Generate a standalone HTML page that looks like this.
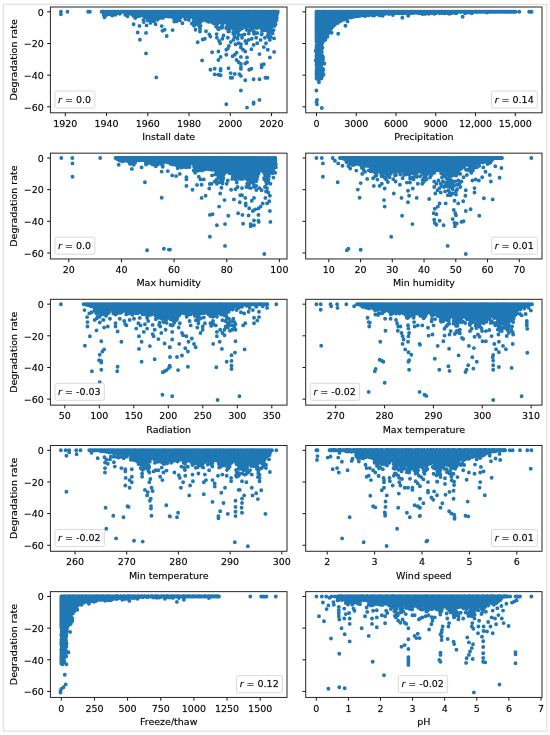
<!DOCTYPE html>
<html><head><meta charset="utf-8"><title>Degradation rate scatter plots</title>
<style>html,body{margin:0;padding:0;background:#fff}svg{display:block}</style></head>
<body>
<svg width="550" height="735" viewBox="0 0 550 735" font-family="DejaVu Sans, Liberation Sans, sans-serif" font-size="9.5" fill="#000">
<style>text{stroke:#000;stroke-width:0.3px;stroke-opacity:0.45}</style>
<rect x="0" y="0" width="550" height="735" fill="#fff"/>
<rect x="3.4" y="4.3" width="543.4" height="726.8" fill="none" stroke="#dedede" stroke-width="1.1"/>
<g>
<path d="M101.7 11.8h0M103.4 11.8h0M104.0 11.8h0M103.7 15.1h0M105.7 11.8h0M106.8 11.8h0M106.7 12.6h0M106.3 15.0h0M108.0 11.8h0M107.2 13.1h0M107.5 14.2h0M109.1 11.8h0M108.3 13.0h0M108.7 13.9h0M110.1 11.8h0M109.6 12.9h0M110.1 14.2h0M110.8 11.8h0M111.2 13.0h0M112.3 11.8h0M112.6 13.3h0M113.3 11.8h0M113.2 12.8h0M114.5 11.8h0M114.8 13.1h0M114.6 14.3h0M115.3 11.8h0M116.0 13.1h0M116.4 11.8h0M117.0 13.3h0M118.0 11.8h0M117.6 12.9h0M119.3 11.8h0M118.8 12.9h0M120.2 11.8h0M120.0 13.2h0M121.7 11.8h0M122.7 11.8h0M123.5 11.8h0M125.2 11.8h0M124.7 12.6h0M125.6 11.8h0M126.2 12.6h0M126.8 11.8h0M127.6 12.9h0M128.4 11.8h0M129.1 11.8h0M129.3 13.0h0M130.5 11.8h0M130.4 13.2h0M130.9 13.9h0M132.1 11.8h0M131.4 13.4h0M131.7 13.9h0M132.9 11.8h0M133.2 13.4h0M133.3 13.8h0M133.1 15.3h0M134.0 11.8h0M133.7 12.6h0M134.1 14.6h0M134.4 14.9h0M134.1 16.4h0M135.0 11.8h0M135.5 12.8h0M135.3 14.0h0M134.8 15.6h0M135.2 18.0h0M136.2 11.8h0M136.6 13.1h0M136.3 14.2h0M136.0 15.7h0M137.7 11.8h0M137.3 12.7h0M137.5 14.1h0M137.9 15.7h0M137.3 16.5h0M138.9 11.8h0M138.7 12.8h0M139.0 14.0h0M138.3 15.1h0M139.6 11.8h0M139.8 12.7h0M140.1 14.5h0M139.6 15.5h0M140.0 16.1h0M140.9 11.8h0M141.3 13.3h0M141.1 14.0h0M140.7 15.5h0M141.9 11.8h0M141.7 12.7h0M142.5 14.4h0M141.8 15.0h0M143.6 11.8h0M143.0 13.4h0M143.3 14.3h0M143.1 15.1h0M143.4 19.9h0M144.1 11.8h0M144.4 13.2h0M144.1 14.2h0M144.8 15.5h0M144.3 16.4h0M145.6 11.8h0M145.4 12.6h0M145.5 13.9h0M145.6 15.7h0M145.3 16.1h0M145.7 17.2h0M146.5 11.8h0M146.4 13.3h0M146.8 14.5h0M146.4 15.1h0M146.7 16.1h0M146.6 25.4h0M147.5 11.8h0M148.1 12.9h0M148.0 14.0h0M148.2 15.2h0M147.6 16.8h0M147.6 17.4h0M147.8 19.2h0M147.6 20.2h0M149.4 11.8h0M148.8 12.6h0M149.1 13.7h0M149.3 15.5h0M148.9 16.4h0M149.2 17.3h0M150.6 11.8h0M150.3 12.9h0M150.1 14.2h0M150.2 15.6h0M150.5 16.3h0M149.7 17.9h0M150.3 18.9h0M151.2 11.8h0M151.3 12.6h0M151.6 14.2h0M151.2 15.1h0M151.0 16.8h0M151.6 17.5h0M151.4 18.8h0M150.9 20.1h0M151.4 20.6h0M152.4 11.8h0M152.9 13.3h0M152.2 14.5h0M152.8 15.4h0M152.5 16.2h0M152.3 17.3h0M152.2 18.9h0M154.0 11.8h0M154.0 12.8h0M153.2 13.9h0M153.6 14.9h0M153.4 16.4h0M153.8 17.3h0M153.3 18.6h0M153.2 19.6h0M153.9 21.4h0M154.6 11.8h0M154.7 12.7h0M154.6 14.4h0M155.1 15.3h0M155.1 16.1h0M154.8 17.8h0M155.0 18.6h0M155.8 11.8h0M155.6 12.9h0M155.5 14.2h0M155.7 15.0h0M156.0 16.8h0M155.5 17.8h0M155.6 24.3h0M157.3 11.8h0M156.9 13.2h0M157.4 14.0h0M157.1 15.3h0M157.4 16.2h0M157.3 19.8h0M157.9 11.8h0M158.4 12.9h0M158.3 14.2h0M158.4 15.1h0M158.4 16.3h0M158.6 18.6h0M159.6 11.8h0M159.5 13.3h0M159.1 14.2h0M159.4 15.4h0M160.5 11.8h0M160.6 12.7h0M160.5 14.5h0M160.6 15.1h0M160.4 16.8h0M162.0 11.8h0M161.3 12.9h0M161.8 14.5h0M161.6 15.6h0M161.3 16.6h0M161.5 17.8h0M161.7 26.1h0M162.6 11.8h0M162.4 13.2h0M162.5 14.2h0M162.8 15.5h0M162.5 16.9h0M163.0 17.9h0M164.1 11.8h0M163.7 13.2h0M164.1 14.0h0M164.1 15.5h0M164.1 16.2h0M165.0 11.8h0M165.1 13.1h0M164.7 13.7h0M165.4 15.6h0M164.7 16.2h0M166.3 11.8h0M166.3 13.1h0M166.2 14.1h0M166.4 15.4h0M166.7 16.3h0M167.5 11.8h0M167.8 13.2h0M167.3 14.0h0M167.0 15.6h0M167.3 16.4h0M168.3 11.8h0M168.1 12.6h0M168.2 14.0h0M168.6 15.4h0M168.4 16.5h0M169.7 11.8h0M170.0 13.1h0M169.4 14.3h0M169.3 15.0h0M169.3 16.5h0M171.1 11.8h0M170.7 12.6h0M171.2 14.4h0M171.1 15.0h0M171.3 16.6h0M171.8 11.8h0M171.6 13.4h0M172.1 14.1h0M171.6 15.7h0M171.8 16.7h0M172.9 11.8h0M172.9 13.3h0M172.9 14.2h0M173.5 15.3h0M173.5 17.8h0M174.1 11.8h0M174.7 13.1h0M174.5 14.2h0M174.0 15.5h0M174.7 16.1h0M174.6 17.5h0M174.4 19.1h0M174.3 21.5h0M175.2 11.8h0M175.0 13.4h0M175.8 14.0h0M175.3 15.3h0M175.2 16.7h0M175.8 19.1h0M176.7 11.8h0M176.7 13.0h0M176.5 13.7h0M176.3 15.0h0M176.2 16.0h0M178.2 11.8h0M177.3 13.3h0M177.5 13.8h0M177.8 14.9h0M178.1 16.8h0M179.2 11.8h0M179.1 12.6h0M178.7 14.4h0M179.2 15.4h0M179.3 16.4h0M179.1 20.0h0M180.3 11.8h0M179.8 12.9h0M180.1 14.0h0M179.7 15.7h0M180.0 16.1h0M180.9 11.8h0M180.8 13.3h0M181.4 13.9h0M181.6 15.0h0M180.8 17.2h0M182.7 11.8h0M182.4 13.4h0M182.5 14.4h0M182.2 15.7h0M182.4 23.3h0M183.4 11.8h0M183.1 13.2h0M183.2 14.4h0M183.7 15.5h0M183.6 16.2h0M184.2 11.8h0M184.2 13.0h0M184.8 14.0h0M184.6 15.2h0M186.2 11.8h0M185.7 13.2h0M186.1 14.0h0M185.4 15.2h0M186.8 11.8h0M186.6 12.6h0M187.3 14.6h0M187.4 15.2h0M187.1 16.2h0M188.1 11.8h0M187.7 13.3h0M188.0 14.0h0M187.9 15.1h0M188.2 16.6h0M189.0 11.8h0M189.2 13.4h0M189.1 14.6h0M189.4 15.4h0M189.6 16.5h0M188.8 20.0h0M190.5 11.8h0M190.1 12.7h0M190.3 14.6h0M190.6 15.0h0M190.7 16.8h0M191.8 11.8h0M191.1 12.9h0M191.9 13.7h0M191.2 15.3h0M191.4 16.1h0M192.7 11.8h0M192.5 12.7h0M192.5 13.9h0M192.8 15.4h0M192.9 16.7h0M193.1 17.6h0M193.6 11.8h0M193.5 13.3h0M194.2 14.4h0M193.8 15.0h0M193.9 16.8h0M194.0 17.2h0M194.3 19.2h0M193.9 19.5h0M194.0 21.2h0M193.8 21.8h0M195.3 11.8h0M195.2 12.8h0M195.1 14.2h0M195.1 15.2h0M195.1 16.5h0M194.8 17.5h0M194.7 18.9h0M195.3 19.7h0M195.1 21.0h0M194.7 21.8h0M194.6 23.6h0M194.8 24.5h0M196.2 11.8h0M195.8 12.9h0M195.7 14.1h0M195.9 15.1h0M196.0 16.8h0M195.8 17.2h0M195.8 18.7h0M196.1 20.3h0M196.4 20.8h0M195.8 22.2h0M197.5 11.8h0M197.6 13.3h0M197.3 14.5h0M197.7 15.0h0M197.0 16.6h0M197.3 17.5h0M197.3 18.5h0M197.2 20.0h0M197.5 21.2h0M196.9 21.9h0M197.3 23.6h0M197.5 24.3h0M198.6 11.8h0M198.0 13.4h0M198.6 14.4h0M198.1 15.2h0M198.3 16.8h0M198.7 17.3h0M198.9 18.5h0M198.1 20.0h0M198.4 21.5h0M198.0 22.6h0M198.6 23.2h0M198.6 24.1h0M199.4 11.8h0M199.3 13.0h0M199.9 14.2h0M199.7 15.1h0M199.6 16.7h0M199.4 17.2h0M200.0 18.8h0M200.0 20.0h0M199.5 20.8h0M200.0 22.4h0M199.7 22.9h0M200.0 28.8h0M200.0 31.5h0M201.1 11.8h0M200.5 13.0h0M200.4 14.5h0M201.1 15.2h0M201.0 16.1h0M201.0 17.9h0M201.0 18.3h0M200.6 20.0h0M201.0 21.0h0M200.6 25.7h0M201.7 11.8h0M201.5 12.7h0M202.2 14.2h0M202.2 15.3h0M201.7 16.4h0M201.8 18.0h0M201.5 18.5h0M201.6 19.9h0M201.8 20.7h0M203.0 11.8h0M203.3 13.1h0M203.2 14.1h0M203.4 15.6h0M202.7 16.6h0M203.5 17.9h0M203.1 18.7h0M202.7 19.7h0M203.9 11.8h0M204.3 13.4h0M204.5 14.4h0M203.9 15.6h0M203.8 16.2h0M204.0 17.8h0M204.6 18.5h0M204.2 19.7h0M205.7 11.8h0M205.6 12.6h0M205.1 13.8h0M205.5 15.2h0M205.7 16.8h0M205.2 17.4h0M205.4 18.7h0M206.4 11.8h0M206.2 12.6h0M206.6 14.2h0M206.9 15.1h0M206.1 16.5h0M206.7 17.4h0M206.3 18.5h0M206.8 20.0h0M206.4 20.8h0M207.2 11.8h0M207.2 13.3h0M208.0 14.4h0M207.4 15.4h0M207.3 16.5h0M207.7 17.8h0M209.2 11.8h0M208.5 13.1h0M209.1 14.6h0M208.7 15.5h0M208.5 16.5h0M208.5 17.8h0M208.8 21.9h0M209.5 11.8h0M209.7 12.8h0M210.0 14.0h0M209.8 15.3h0M210.0 16.3h0M209.8 17.7h0M211.2 11.8h0M210.8 13.1h0M211.2 13.7h0M211.1 15.4h0M210.8 16.8h0M211.0 17.7h0M211.0 19.9h0M212.1 11.8h0M212.3 12.8h0M212.3 14.0h0M212.2 14.9h0M212.1 16.4h0M212.4 17.8h0M211.8 18.6h0M212.3 22.3h0M213.7 11.8h0M213.6 12.9h0M213.7 14.5h0M213.2 15.1h0M213.7 16.7h0M213.3 18.0h0M213.8 18.8h0M213.3 19.5h0M213.6 23.2h0M214.3 11.8h0M215.0 13.0h0M214.3 14.4h0M214.3 14.9h0M214.8 16.1h0M215.0 17.9h0M214.4 19.2h0M214.6 19.9h0M214.4 21.4h0M214.7 22.0h0M214.4 23.2h0M215.6 11.8h0M215.3 13.4h0M215.3 14.1h0M215.9 15.3h0M215.6 16.7h0M215.5 17.8h0M215.6 19.2h0M216.0 19.7h0M216.1 21.0h0M215.6 21.9h0M215.4 22.9h0M216.0 26.6h0M216.9 11.8h0M216.7 13.2h0M216.8 13.9h0M216.9 15.0h0M217.0 16.9h0M216.6 17.3h0M216.9 18.5h0M216.5 19.9h0M216.6 21.2h0M216.9 22.0h0M217.1 24.3h0M216.5 26.6h0M216.6 34.1h0M217.7 11.8h0M217.6 13.3h0M217.7 13.8h0M217.8 14.9h0M218.3 16.7h0M218.0 18.0h0M218.4 18.8h0M217.7 20.1h0M217.6 21.5h0M218.3 22.4h0M218.0 28.8h0M219.1 11.8h0M218.8 12.9h0M218.7 13.8h0M219.1 15.1h0M219.1 16.6h0M218.7 18.0h0M219.3 18.8h0M218.7 20.3h0M219.0 20.8h0M219.3 22.2h0M218.7 29.3h0M219.9 11.8h0M219.9 13.3h0M220.7 14.4h0M220.6 15.3h0M219.9 16.8h0M220.3 17.7h0M220.5 18.5h0M220.7 20.0h0M220.4 20.9h0M220.4 22.6h0M220.2 27.7h0M221.5 11.8h0M221.8 12.6h0M221.0 14.3h0M221.3 15.4h0M221.7 16.5h0M221.3 18.0h0M221.3 18.7h0M221.5 19.5h0M221.5 21.2h0M221.9 23.2h0M221.7 27.1h0M222.8 11.8h0M222.9 12.9h0M222.9 14.0h0M222.2 15.3h0M222.2 16.3h0M223.0 17.9h0M222.8 18.7h0M222.3 19.9h0M222.2 21.3h0M222.9 21.8h0M222.4 25.3h0M222.2 27.8h0M223.5 11.8h0M223.6 13.2h0M223.4 14.3h0M223.3 15.6h0M223.5 16.4h0M224.1 17.8h0M223.4 18.9h0M223.6 20.3h0M223.5 21.2h0M225.0 11.8h0M224.7 12.8h0M225.1 14.5h0M224.6 15.7h0M224.8 16.4h0M225.1 18.0h0M225.2 19.1h0M225.0 20.0h0M224.5 21.1h0M224.5 22.6h0M225.9 11.8h0M226.1 13.4h0M226.3 14.1h0M225.6 14.9h0M225.8 16.0h0M226.2 17.7h0M225.6 19.2h0M226.0 20.3h0M225.8 21.2h0M226.4 22.4h0M226.3 27.2h0M226.3 28.3h0M227.5 11.8h0M227.6 13.2h0M226.8 14.4h0M227.5 15.3h0M226.9 16.6h0M227.5 18.0h0M227.5 18.5h0M226.9 20.3h0M227.5 21.2h0M226.8 21.9h0M227.3 23.8h0M228.6 11.8h0M228.3 12.9h0M228.3 14.2h0M228.2 15.4h0M228.6 16.8h0M228.3 17.7h0M228.0 18.8h0M228.7 19.6h0M228.0 20.6h0M228.1 22.1h0M228.4 23.3h0M228.8 24.6h0M228.7 25.4h0M228.1 26.8h0M227.9 28.1h0M228.3 31.5h0M229.8 11.8h0M229.2 12.9h0M229.4 14.1h0M229.1 15.7h0M229.5 16.8h0M229.7 17.2h0M229.4 18.4h0M229.3 20.1h0M229.7 20.6h0M229.7 21.8h0M229.1 23.7h0M229.1 24.6h0M229.8 25.2h0M229.8 26.7h0M229.8 28.2h0M229.1 31.4h0M230.9 11.8h0M230.3 13.0h0M231.1 14.0h0M230.3 15.3h0M230.4 16.5h0M231.0 18.0h0M230.8 18.9h0M230.6 20.0h0M230.7 21.0h0M230.5 22.2h0M230.2 23.6h0M230.7 24.4h0M230.9 25.9h0M230.6 26.8h0M230.3 27.5h0M231.5 11.8h0M231.4 13.4h0M231.8 13.9h0M232.1 15.3h0M231.7 16.4h0M231.9 17.2h0M232.2 18.7h0M231.9 20.2h0M231.9 20.6h0M232.0 22.1h0M231.8 23.6h0M231.4 24.2h0M231.5 26.1h0M231.9 26.9h0M232.7 11.8h0M233.3 13.3h0M232.8 14.2h0M232.8 15.6h0M233.3 16.8h0M232.7 17.2h0M232.7 18.8h0M233.2 19.9h0M233.3 20.9h0M233.0 22.2h0M233.2 23.4h0M232.9 24.4h0M233.4 25.6h0M232.5 27.2h0M233.4 28.2h0M233.1 28.8h0M233.3 32.4h0M233.3 33.7h0M234.1 11.8h0M234.2 12.7h0M233.8 14.2h0M234.2 15.5h0M233.7 16.7h0M233.7 17.4h0M233.7 18.5h0M234.2 20.1h0M234.4 21.4h0M234.5 21.9h0M234.1 23.1h0M234.2 24.3h0M234.5 25.9h0M234.4 27.2h0M234.5 32.4h0M234.5 34.0h0M234.4 37.3h0M235.4 11.8h0M235.1 13.4h0M235.5 14.3h0M235.2 15.4h0M235.4 16.9h0M235.4 17.4h0M235.6 18.8h0M235.2 20.0h0M235.2 21.0h0M235.3 22.5h0M235.6 23.7h0M235.4 24.1h0M235.6 25.2h0M235.6 26.7h0M235.5 29.5h0M235.1 32.3h0M236.3 11.8h0M236.2 12.9h0M236.3 14.5h0M236.6 15.2h0M236.4 16.3h0M236.5 17.9h0M236.3 18.6h0M236.5 19.5h0M236.2 20.8h0M236.4 22.1h0M236.2 23.1h0M236.5 24.6h0M236.0 26.0h0M236.0 26.6h0M236.1 28.0h0M236.5 31.4h0M236.8 32.6h0M237.4 11.8h0M237.3 12.6h0M237.4 14.1h0M237.4 15.5h0M237.5 16.0h0M237.1 17.4h0M237.8 19.0h0M237.4 20.3h0M237.6 21.2h0M237.7 22.5h0M237.7 23.0h0M237.2 24.4h0M237.4 26.1h0M237.5 26.6h0M237.8 31.4h0M238.0 32.3h0M237.5 37.5h0M239.0 11.8h0M239.1 13.0h0M238.4 14.4h0M239.0 14.9h0M238.9 16.5h0M238.8 17.2h0M239.1 18.8h0M238.7 19.6h0M238.5 21.1h0M238.5 22.3h0M238.9 23.8h0M238.9 24.5h0M238.9 25.5h0M239.1 26.7h0M238.4 28.9h0M238.6 34.9h0M239.8 11.8h0M239.7 12.8h0M239.8 14.2h0M240.3 15.1h0M240.1 16.8h0M240.0 18.0h0M240.0 19.1h0M239.5 19.8h0M240.1 21.4h0M239.6 22.3h0M239.8 23.1h0M239.9 24.5h0M239.5 25.8h0M239.9 27.0h0M240.3 29.2h0M240.0 29.8h0M241.3 11.8h0M241.3 13.2h0M240.8 13.9h0M240.7 15.1h0M241.1 16.2h0M241.1 17.8h0M241.3 19.0h0M240.8 20.1h0M241.4 21.2h0M240.6 22.2h0M241.0 22.9h0M240.8 24.8h0M241.0 26.0h0M241.3 26.8h0M241.0 27.7h0M242.4 11.8h0M241.9 13.2h0M241.7 14.0h0M242.0 15.0h0M242.2 16.3h0M242.0 17.4h0M242.4 18.6h0M242.3 20.1h0M242.4 21.3h0M242.3 22.2h0M242.0 23.8h0M241.8 24.1h0M241.8 25.6h0M242.5 27.2h0M242.3 28.3h0M242.0 35.1h0M243.6 11.8h0M243.5 12.7h0M243.6 14.1h0M242.9 15.4h0M243.3 16.5h0M243.5 17.4h0M243.7 18.4h0M242.9 20.1h0M243.0 21.1h0M243.0 22.1h0M243.2 23.4h0M243.0 24.6h0M243.4 25.4h0M243.7 26.8h0M244.1 11.8h0M244.0 12.8h0M244.0 14.5h0M244.4 15.0h0M244.7 16.2h0M244.7 17.7h0M244.7 18.4h0M244.7 19.6h0M244.8 21.3h0M244.0 22.0h0M244.8 23.4h0M244.4 24.6h0M244.1 25.7h0M244.5 34.4h0M245.3 11.8h0M245.9 12.6h0M245.3 14.0h0M245.8 15.2h0M245.3 16.5h0M245.6 17.6h0M245.2 18.9h0M245.5 19.6h0M245.9 21.0h0M245.7 21.8h0M245.4 23.4h0M245.7 24.8h0M245.7 25.8h0M245.4 27.0h0M247.1 11.8h0M246.9 13.2h0M246.6 13.9h0M247.1 15.4h0M246.4 16.7h0M246.4 17.9h0M246.9 19.1h0M246.7 19.7h0M247.1 20.6h0M246.8 22.0h0M246.4 23.1h0M246.3 26.9h0M246.6 29.9h0M248.3 11.8h0M247.8 12.6h0M248.1 14.4h0M247.5 15.1h0M248.0 16.4h0M247.9 17.8h0M247.5 18.3h0M248.3 19.8h0M247.9 21.0h0M247.6 22.5h0M247.7 23.6h0M248.0 24.4h0M249.2 11.8h0M248.7 13.0h0M249.2 14.1h0M248.7 15.7h0M248.8 16.8h0M248.9 17.5h0M248.8 18.6h0M248.8 20.3h0M248.9 20.6h0M249.4 22.4h0M249.1 23.3h0M248.6 24.1h0M249.1 30.2h0M248.8 33.6h0M249.9 11.8h0M250.5 13.4h0M250.4 14.1h0M249.9 15.0h0M250.2 16.3h0M249.9 17.8h0M249.9 18.4h0M250.5 19.5h0M249.9 20.9h0M250.5 22.1h0M250.3 23.2h0M250.0 24.8h0M249.8 25.5h0M249.8 26.9h0M249.8 30.6h0M251.0 11.8h0M251.0 12.7h0M251.6 14.0h0M251.1 14.9h0M251.2 16.6h0M251.8 17.4h0M251.6 19.2h0M251.3 19.6h0M250.9 20.8h0M251.1 22.3h0M251.2 23.6h0M251.4 24.6h0M251.5 25.6h0M251.5 26.4h0M251.6 29.2h0M252.5 11.8h0M252.6 13.2h0M252.1 14.3h0M252.7 15.2h0M252.3 16.7h0M252.5 17.4h0M252.6 18.4h0M252.4 20.1h0M252.3 20.8h0M252.5 22.1h0M252.9 23.7h0M252.7 24.7h0M252.4 25.5h0M252.6 26.6h0M253.8 11.8h0M253.4 13.0h0M253.9 13.9h0M253.2 15.0h0M253.6 16.4h0M254.1 17.2h0M253.7 18.4h0M253.4 19.7h0M253.7 21.1h0M254.0 22.0h0M253.8 23.5h0M253.7 24.7h0M253.4 25.4h0M253.3 26.4h0M253.7 31.5h0M253.8 32.2h0M254.0 33.7h0M254.9 11.8h0M254.8 13.4h0M254.6 14.0h0M254.5 15.7h0M254.8 16.7h0M254.4 17.9h0M255.1 18.8h0M254.6 20.0h0M255.2 20.8h0M254.8 22.6h0M255.0 22.9h0M254.5 24.5h0M254.6 25.4h0M255.1 27.7h0M255.9 11.8h0M255.8 13.1h0M255.5 14.6h0M256.4 15.4h0M256.1 16.4h0M255.7 17.9h0M255.7 18.3h0M256.4 20.1h0M255.6 21.3h0M255.8 22.4h0M255.6 23.7h0M255.9 24.5h0M256.0 25.2h0M255.9 26.8h0M255.9 33.3h0M257.5 11.8h0M257.1 12.9h0M256.7 14.5h0M257.1 15.7h0M256.9 16.3h0M257.1 18.0h0M257.4 19.0h0M256.7 19.9h0M257.1 21.3h0M256.8 22.1h0M257.3 22.9h0M257.1 24.5h0M256.7 28.0h0M257.2 33.0h0M257.8 11.8h0M258.4 13.1h0M258.0 13.9h0M258.6 15.5h0M258.0 16.1h0M258.5 17.3h0M258.0 18.9h0M258.3 20.1h0M257.9 20.9h0M258.7 22.4h0M258.1 23.2h0M257.9 24.3h0M258.4 25.4h0M258.4 26.6h0M259.2 11.8h0M259.6 12.9h0M259.5 13.7h0M259.8 15.7h0M259.2 16.7h0M259.4 17.8h0M259.1 19.0h0M259.4 20.0h0M259.5 20.6h0M259.4 22.4h0M259.1 23.3h0M259.4 24.2h0M259.7 25.4h0M259.4 26.9h0M259.7 27.5h0M260.9 11.8h0M260.8 13.2h0M260.3 13.8h0M260.4 15.3h0M261.0 16.2h0M260.7 17.5h0M260.2 19.2h0M260.3 19.6h0M260.2 20.6h0M260.6 21.8h0M260.8 23.1h0M260.4 24.8h0M260.2 25.9h0M261.0 27.1h0M261.4 11.8h0M261.3 13.1h0M261.8 14.5h0M261.3 15.6h0M261.7 16.7h0M261.5 17.6h0M261.9 18.6h0M261.3 19.7h0M261.9 20.7h0M262.1 22.2h0M261.7 23.0h0M261.9 24.6h0M261.6 25.9h0M261.4 26.6h0M262.0 27.7h0M262.0 30.4h0M261.9 33.8h0M261.4 34.5h0M262.6 11.8h0M262.7 13.2h0M263.1 13.8h0M263.2 15.1h0M262.8 16.3h0M263.1 17.4h0M262.9 18.7h0M262.9 20.1h0M263.2 21.0h0M263.1 22.1h0M262.7 23.1h0M262.7 24.7h0M262.6 25.5h0M262.5 26.7h0M262.7 27.7h0M263.7 11.8h0M263.9 12.8h0M263.7 13.9h0M264.3 14.9h0M263.8 16.1h0M264.3 18.0h0M263.8 18.7h0M263.9 19.8h0M263.7 20.8h0M264.3 21.9h0M264.3 23.6h0M264.4 24.6h0M263.8 25.5h0M264.8 11.8h0M265.5 13.0h0M265.1 13.9h0M265.6 15.1h0M264.9 16.7h0M264.8 17.7h0M264.7 18.8h0M264.7 20.0h0M265.1 20.8h0M264.9 21.9h0M265.6 23.4h0M264.7 24.2h0M265.3 25.4h0M264.7 30.2h0M265.9 11.8h0M266.7 13.3h0M266.6 14.1h0M266.6 15.5h0M266.6 16.3h0M265.9 17.6h0M266.4 19.1h0M266.3 19.7h0M265.9 20.8h0M266.7 21.8h0M266.2 25.3h0M265.9 27.9h0M267.2 11.8h0M267.8 13.4h0M267.3 14.6h0M267.5 15.5h0M267.4 16.2h0M267.0 17.7h0M267.4 18.7h0M267.4 20.2h0M267.2 21.4h0M267.5 22.1h0M267.4 23.6h0M267.5 24.4h0M267.4 28.1h0M267.3 28.9h0M267.7 30.1h0M267.8 31.2h0M267.7 35.1h0M268.4 11.8h0M269.0 12.8h0M269.0 13.8h0M268.5 15.7h0M268.4 16.8h0M268.2 17.7h0M268.8 18.3h0M268.9 20.3h0M268.7 21.0h0M268.8 22.1h0M268.5 22.9h0M268.5 24.6h0M268.7 25.2h0M268.5 26.9h0M268.6 35.0h0M268.8 37.5h0M269.5 11.8h0M269.5 12.7h0M270.0 14.1h0M270.0 14.9h0M269.8 16.1h0M269.8 17.2h0M270.0 19.1h0M270.0 19.9h0M269.9 20.9h0M269.6 22.4h0M269.5 23.6h0M269.5 24.4h0M269.5 25.4h0M269.8 26.4h0M269.4 28.2h0M270.0 29.5h0M269.8 39.9h0M271.1 11.8h0M271.0 13.3h0M270.5 14.3h0M270.8 15.7h0M270.5 16.7h0M270.9 17.7h0M270.6 18.9h0M270.7 20.2h0M271.3 21.0h0M271.0 21.9h0M271.1 23.4h0M270.6 24.4h0M270.5 25.5h0M270.5 27.2h0M270.9 27.6h0M270.7 32.3h0M270.7 37.0h0M272.4 11.8h0M271.7 13.4h0M272.1 14.2h0M271.8 15.3h0M272.2 16.0h0M272.3 17.7h0M272.4 18.7h0M272.4 20.2h0M271.9 21.4h0M271.9 22.1h0M271.8 23.3h0M271.6 24.5h0M271.9 31.2h0M273.5 11.8h0M273.5 12.9h0M273.0 14.6h0M273.4 15.3h0M273.4 16.0h0M273.4 17.7h0M273.4 18.5h0M273.2 19.6h0M273.5 20.8h0M272.9 21.9h0M273.2 23.1h0M273.6 24.4h0M272.9 26.0h0M273.9 11.8h0M274.8 12.6h0M274.6 14.3h0M274.8 14.9h0M274.4 16.2h0M274.5 17.4h0M273.9 18.3h0M273.9 19.9h0M274.0 20.8h0M274.5 22.0h0M274.5 25.9h0M275.3 11.8h0M275.6 12.8h0M275.4 14.1h0M275.7 14.9h0M275.4 16.6h0M275.9 17.7h0M275.3 18.7h0M275.3 19.7h0M275.6 24.3h0M276.4 11.8h0M276.2 13.2h0M276.2 13.9h0M276.7 15.3h0M276.2 16.2h0M276.8 17.7h0M276.6 18.6h0M276.5 20.3h0M277.8 11.8h0M277.4 13.2h0M60.9 11.8h0M60.9 14.2h0M67.5 11.8h0M88.2 11.8h0M89.9 11.8h0M104.5 17.4h0M133.6 24.2h0M139.5 25.9h0M137.7 32.5h0M146.0 32.9h0M139.9 39.7h0M146.0 53.4h0M156.3 77.4h0M162.4 30.7h0M164.6 29.7h0M166.7 36.0h0M112.2 15.5h0M115.5 14.8h0M102.4 11.8h0M106.7 13.7h0M119.8 13.7h0M125.3 14.8h0M127.5 16.3h0M143.8 22.0h0M150.4 22.9h0M152.6 20.3h0M172.6 30.1h0M195.5 29.7h0M197.7 42.3h0M202.7 39.5h0M204.9 38.8h0M202.1 60.4h0M212.1 52.3h0M218.4 51.5h0M220.6 56.9h0M218.4 60.0h0M210.4 69.8h0M214.7 68.7h0M220.6 68.9h0M220.6 70.5h0M214.7 74.4h0M218.4 74.8h0M220.6 75.3h0M226.3 49.7h0M227.8 48.6h0M226.3 54.7h0M228.9 46.0h0M230.7 42.1h0M228.5 68.3h0M230.7 73.1h0M230.7 77.7h0M232.2 77.7h0M234.8 74.0h0M239.4 74.2h0M240.9 75.9h0M245.3 80.3h0M240.9 90.5h0M226.3 104.3h0M247.0 107.6h0M253.6 102.5h0M253.6 103.8h0M259.5 99.9h0M253.6 79.2h0M259.5 79.2h0M265.4 77.7h0M267.5 77.7h0M249.2 69.8h0M251.4 68.7h0M261.6 67.2h0M261.6 65.0h0M263.8 64.3h0M259.5 54.1h0M269.9 57.4h0M274.1 51.9h0M267.8 49.7h0M263.8 47.1h0M266.0 43.2h0M274.1 38.4h0M253.6 44.9h0M257.3 43.2h0M251.4 49.3h0M246.4 43.2h0M245.3 41.0h0M240.9 44.3h0M240.9 47.5h0M243.1 49.7h0M245.3 51.5h0M247.0 57.4h0M240.9 56.9h0M236.6 52.6h0M234.8 54.7h0M232.6 56.3h0M236.6 60.0h0M238.7 62.2h0M240.9 63.9h0M245.3 63.5h0M247.0 62.2h0M240.9 67.2h0M240.9 68.9h0M235.5 44.3h0M238.7 43.2h0M206.0 31.2h0M209.3 34.5h0M210.4 36.6h0M216.9 37.7h0M219.1 41.0h0M220.2 43.2h0M222.4 38.8h0M223.5 35.5h0M227.8 37.7h0M233.3 39.9h0M237.6 38.8h0M242.0 37.7h0M248.6 39.9h0M251.8 38.8h0M256.2 37.7h0M260.6 39.9h0M264.9 37.7h0M269.3 36.6h0M272.6 33.4h0M273.6 30.1h0M176.5 21.4h0M179.8 20.3h0M185.3 19.2h0M191.8 23.5h0M194.0 25.7h0M199.5 26.8h0" stroke="#1f77b4" stroke-width="3.9" stroke-linecap="round" fill="none"/>
<path d="M65.30 112.80v3.2M106.55 112.80v3.2M147.80 112.80v3.2M189.05 112.80v3.2M230.30 112.80v3.2M271.55 112.80v3.2M50.40 11.85h-3.2M50.40 43.50h-3.2M50.40 75.15h-3.2M50.40 106.80h-3.2" stroke="#111" stroke-width="1.0" fill="none"/>
<rect x="50.4" y="7.0" width="236.60" height="105.8" fill="none" stroke="#262626" stroke-width="1.0"/>
<text x="65.30" y="126.92" text-anchor="middle">1920</text>
<text x="106.55" y="126.92" text-anchor="middle">1940</text>
<text x="147.80" y="126.92" text-anchor="middle">1960</text>
<text x="189.05" y="126.92" text-anchor="middle">1980</text>
<text x="230.30" y="126.92" text-anchor="middle">2000</text>
<text x="271.55" y="126.92" text-anchor="middle">2020</text>
<text x="43.80" y="15.67" text-anchor="end">0</text>
<text x="43.80" y="47.32" text-anchor="end">−20</text>
<text x="43.80" y="78.97" text-anchor="end">−40</text>
<text x="43.80" y="110.62" text-anchor="end">−60</text>
<text transform="translate(17.2 59.90) rotate(-90)" text-anchor="middle">Degradation rate</text>
<text x="168.70" y="140.30" text-anchor="middle">Install date</text>
<rect x="55.00" y="91.00" width="39.81" height="17.0" rx="1.6" fill="#fff" fill-opacity="0.8" stroke="#d0d0d0" stroke-width="0.8"/>
<text x="58.10" y="102.60" font-size="9.5"><tspan font-style="italic">r</tspan> = 0.0</text>
</g>
<g>
<path d="M316.5 11.8h0M317.2 11.8h0M318.4 11.8h0M319.2 11.8h0M320.1 11.8h0M321.7 11.8h0M323.0 11.8h0M323.6 11.8h0M324.6 11.8h0M325.8 11.8h0M326.8 11.8h0M328.7 11.8h0M329.2 11.8h0M330.5 11.8h0M331.8 11.8h0M332.6 11.8h0M334.3 11.8h0M335.0 11.8h0M336.8 11.8h0M337.7 11.8h0M338.5 11.8h0M340.3 11.8h0M340.9 11.8h0M342.6 11.8h0M343.1 11.8h0M344.2 11.8h0M345.7 11.8h0M347.2 11.8h0M347.9 11.8h0M348.7 11.8h0M350.2 11.8h0M351.8 11.8h0M352.3 11.8h0M354.1 11.8h0M355.0 11.8h0M355.7 11.8h0M357.1 11.8h0M358.0 11.8h0M359.5 11.8h0M360.2 11.8h0M361.8 11.8h0M362.5 11.8h0M364.5 11.8h0M365.5 11.8h0M366.5 11.8h0M367.3 11.8h0M368.4 11.8h0M369.9 11.8h0M370.8 11.8h0M372.5 11.8h0M373.0 11.8h0M374.3 11.8h0M375.4 11.8h0M376.9 11.8h0M377.8 11.8h0M378.6 11.8h0M380.3 11.8h0M381.2 11.8h0M382.2 11.8h0M384.0 11.8h0M384.7 11.8h0M386.1 11.8h0M387.5 11.8h0M388.6 11.8h0M388.9 11.8h0M390.1 11.8h0M391.2 11.8h0M392.9 11.8h0M393.7 11.8h0M395.4 11.8h0M396.5 11.8h0M397.5 11.8h0M398.5 11.8h0M399.4 11.8h0M401.2 11.8h0M401.9 11.8h0M402.9 11.8h0M404.4 11.8h0M405.7 11.8h0M407.0 11.8h0M408.0 11.8h0M409.3 11.8h0M410.4 11.8h0M411.4 11.8h0M411.9 11.8h0M413.8 11.8h0M414.6 11.8h0M415.9 11.8h0M417.0 11.8h0M418.4 11.8h0M419.7 11.8h0M420.4 11.8h0M421.6 11.8h0M422.7 11.8h0M423.8 11.8h0M424.6 11.8h0M425.7 11.8h0M427.6 11.8h0M428.6 11.8h0M430.0 11.8h0M430.5 11.8h0M432.1 11.8h0M432.9 11.8h0M434.3 11.8h0M435.2 11.8h0M436.1 11.8h0M438.0 11.8h0M439.0 11.8h0M440.1 11.8h0M441.0 11.8h0M441.9 11.8h0M443.1 11.8h0M444.7 11.8h0M445.5 11.8h0M446.9 11.8h0M448.0 11.8h0M448.7 11.8h0M450.7 11.8h0M451.6 11.8h0M453.0 11.8h0M454.2 11.8h0M455.3 11.8h0M456.4 11.8h0M457.4 11.8h0M458.1 11.8h0M459.2 11.8h0M460.5 11.8h0M461.4 11.8h0M463.1 11.8h0M464.4 11.8h0M465.2 11.8h0M466.2 11.8h0M468.0 11.8h0M468.6 11.8h0M470.0 11.8h0M471.1 11.8h0M471.9 11.8h0M473.6 11.8h0M474.6 11.8h0M475.7 11.8h0M476.5 11.8h0M477.9 11.8h0M479.2 11.8h0M479.8 11.8h0M481.2 11.8h0M482.1 11.8h0M483.6 11.8h0M484.9 11.8h0M485.6 11.8h0M487.2 11.8h0M488.1 11.8h0M489.2 11.8h0M490.7 11.8h0M491.3 11.8h0M492.5 11.8h0M494.0 11.8h0M495.4 11.8h0M496.3 11.8h0M497.3 11.8h0M498.4 11.8h0M500.2 11.8h0M501.0 11.8h0M501.7 11.8h0M503.3 11.8h0M504.7 11.8h0M505.2 11.8h0M506.5 11.8h0M507.4 11.8h0M508.5 11.8h0M510.1 11.8h0M511.5 11.8h0M512.3 11.8h0M513.6 11.8h0M514.9 11.8h0M515.6 11.8h0M316.5 13.4h0M316.8 13.3h0M317.9 12.8h0M319.0 13.3h0M320.1 13.3h0M321.9 13.1h0M322.7 12.8h0M323.9 13.3h0M324.8 12.9h0M325.7 12.6h0M327.7 12.9h0M328.0 12.6h0M329.5 13.2h0M330.4 13.3h0M331.7 13.4h0M332.7 12.9h0M334.0 12.6h0M335.0 13.0h0M336.3 12.7h0M337.3 13.1h0M339.0 13.2h0M340.3 13.3h0M341.4 13.0h0M342.4 12.7h0M343.4 13.3h0M344.3 13.3h0M345.8 12.6h0M346.5 12.9h0M347.7 12.7h0M349.2 13.2h0M350.6 13.4h0M351.5 13.4h0M352.4 13.3h0M353.3 13.4h0M354.5 13.4h0M356.3 13.4h0M357.6 13.2h0M358.6 13.0h0M359.7 13.2h0M360.3 13.4h0M362.0 13.2h0M363.2 12.7h0M363.9 12.8h0M364.8 12.8h0M366.0 13.2h0M367.1 12.7h0M368.9 13.4h0M369.7 13.2h0M370.6 12.8h0M372.3 13.1h0M373.6 13.1h0M374.6 12.8h0M375.8 12.7h0M376.6 12.8h0M377.8 12.6h0M379.4 12.6h0M380.3 12.8h0M381.0 12.9h0M382.2 13.2h0M383.3 13.0h0M384.7 13.0h0M386.1 13.2h0M387.0 13.2h0M388.5 13.4h0M389.1 13.2h0M390.8 12.8h0M391.6 13.4h0M392.5 13.4h0M393.9 13.1h0M395.4 13.1h0M396.3 13.2h0M397.7 13.1h0M398.7 12.6h0M399.4 13.4h0M401.6 13.3h0M403.5 13.4h0M404.3 12.6h0M405.3 12.8h0M406.3 13.1h0M407.3 12.6h0M409.0 12.9h0M410.3 13.2h0M411.4 12.9h0M412.6 12.9h0M413.6 13.0h0M414.2 12.8h0M415.5 12.6h0M417.3 12.7h0M417.8 12.9h0M419.3 13.4h0M421.2 12.6h0M422.3 12.6h0M423.5 13.1h0M425.1 13.3h0M426.4 13.2h0M427.7 13.4h0M428.2 12.9h0M429.7 13.0h0M431.0 13.0h0M431.5 12.9h0M433.5 12.8h0M434.4 13.0h0M435.5 13.4h0M438.0 12.6h0M439.1 12.7h0M439.7 13.2h0M441.2 12.9h0M441.9 13.1h0M444.4 13.4h0M445.5 12.9h0M447.8 13.2h0M449.5 13.0h0M450.4 12.6h0M451.2 13.3h0M452.6 12.7h0M454.2 12.8h0M455.2 12.9h0M456.1 13.4h0M465.1 13.2h0M466.0 12.7h0M468.6 12.6h0M471.8 13.3h0M487.3 12.6h0M317.1 14.6h0M317.9 14.2h0M319.5 14.5h0M320.2 14.2h0M321.6 14.3h0M322.7 14.3h0M324.0 14.6h0M324.6 14.1h0M326.0 13.8h0M327.4 13.8h0M328.1 13.9h0M330.0 13.8h0M331.1 14.4h0M331.7 14.5h0M333.2 14.1h0M333.8 13.7h0M335.5 14.2h0M336.3 13.8h0M337.2 14.4h0M338.4 14.5h0M339.6 14.2h0M340.7 14.1h0M342.3 14.4h0M343.3 14.0h0M344.9 14.2h0M345.5 14.3h0M346.4 14.1h0M348.2 14.4h0M348.7 14.2h0M350.2 13.7h0M351.2 13.8h0M352.8 13.7h0M354.0 14.3h0M355.1 13.9h0M356.1 14.6h0M356.9 14.6h0M358.0 14.2h0M359.0 14.1h0M360.4 14.4h0M361.5 14.0h0M362.9 14.4h0M364.4 14.3h0M365.1 13.8h0M366.6 14.2h0M367.3 13.9h0M368.6 14.3h0M369.7 14.5h0M370.7 14.3h0M372.1 14.5h0M373.2 13.7h0M374.3 14.3h0M375.6 13.7h0M376.8 14.2h0M377.9 14.5h0M379.0 13.9h0M381.0 14.4h0M382.4 13.8h0M383.5 14.0h0M384.8 13.9h0M389.0 14.1h0M393.5 13.7h0M422.5 14.0h0M423.4 13.7h0M424.8 13.9h0M428.8 13.8h0M434.1 13.8h0M449.2 13.7h0M316.5 15.7h0M316.7 15.7h0M317.9 15.3h0M318.9 15.6h0M320.5 14.9h0M321.5 15.5h0M322.8 15.7h0M323.6 14.9h0M325.3 15.4h0M326.5 15.0h0M327.3 15.2h0M328.6 14.9h0M329.3 14.9h0M330.7 15.3h0M332.2 15.2h0M333.4 15.4h0M334.6 14.9h0M335.5 15.0h0M336.9 14.9h0M337.9 15.7h0M338.4 14.9h0M339.8 15.2h0M341.0 14.9h0M341.9 15.6h0M343.2 15.3h0M344.3 15.7h0M346.0 15.3h0M346.5 15.0h0M348.2 15.5h0M349.4 15.1h0M350.0 15.2h0M351.8 15.2h0M352.8 15.6h0M353.3 15.2h0M355.2 15.0h0M356.0 15.5h0M356.8 15.5h0M358.0 15.2h0M359.3 15.6h0M361.0 15.6h0M361.7 15.2h0M363.3 15.2h0M364.0 15.7h0M365.2 15.6h0M367.5 14.9h0M368.5 15.4h0M372.3 15.2h0M374.2 15.6h0M379.8 15.4h0M382.6 15.7h0M392.9 15.1h0M408.2 15.7h0M316.9 16.4h0M317.7 16.0h0M319.4 16.5h0M320.1 16.7h0M321.5 16.2h0M323.0 16.1h0M324.1 16.5h0M325.3 16.7h0M325.7 16.3h0M327.2 16.3h0M328.7 16.3h0M329.8 16.6h0M330.9 16.1h0M331.9 16.8h0M333.3 16.0h0M334.0 16.5h0M334.9 16.1h0M336.6 16.5h0M337.4 16.3h0M338.3 16.2h0M339.8 16.9h0M341.1 16.5h0M342.0 16.5h0M343.4 16.9h0M344.3 16.6h0M345.3 16.5h0M346.4 16.0h0M347.9 16.2h0M348.7 16.5h0M350.5 16.5h0M351.7 16.4h0M352.5 16.6h0M354.0 16.8h0M355.1 16.1h0M356.0 16.1h0M357.4 16.1h0M358.3 16.3h0M359.1 16.1h0M365.2 16.1h0M462.6 16.7h0M316.5 17.4h0M316.5 17.6h0M318.5 17.9h0M319.3 17.5h0M320.4 18.0h0M321.7 17.2h0M323.0 17.3h0M323.5 17.2h0M325.0 17.9h0M326.2 17.8h0M327.6 17.5h0M328.1 17.8h0M329.7 17.6h0M330.5 17.6h0M331.9 18.0h0M333.4 17.8h0M333.8 17.6h0M335.0 17.3h0M336.1 17.3h0M337.5 17.9h0M339.2 17.7h0M339.9 17.6h0M340.8 17.3h0M341.9 17.2h0M343.2 17.7h0M344.3 17.5h0M345.9 17.7h0M346.5 17.4h0M347.9 17.2h0M349.9 17.4h0M351.4 17.5h0M402.3 17.8h0M316.5 18.8h0M317.0 18.7h0M318.5 18.8h0M319.6 18.6h0M320.5 19.1h0M321.4 19.0h0M322.2 19.1h0M323.9 18.4h0M325.2 18.6h0M325.8 19.2h0M327.2 18.9h0M328.3 18.8h0M329.2 18.5h0M331.0 18.8h0M332.1 19.0h0M333.1 18.9h0M333.9 18.5h0M335.7 18.8h0M336.6 18.9h0M337.6 18.6h0M339.0 18.5h0M339.6 19.0h0M341.3 19.0h0M342.0 19.0h0M343.6 18.8h0M345.5 19.0h0M347.2 18.4h0M316.5 19.9h0M316.8 19.9h0M318.4 19.5h0M318.9 19.5h0M320.2 19.7h0M321.9 19.8h0M322.5 19.9h0M323.7 20.3h0M324.6 20.0h0M326.0 20.0h0M327.5 19.9h0M328.4 20.3h0M329.9 19.9h0M330.7 20.2h0M332.2 20.2h0M333.1 20.1h0M334.4 20.0h0M334.9 20.3h0M336.7 20.2h0M337.3 19.9h0M339.1 19.8h0M340.0 20.1h0M341.3 20.3h0M342.1 19.6h0M343.6 19.7h0M316.5 20.7h0M316.9 20.9h0M318.4 21.2h0M319.3 20.8h0M320.4 20.9h0M321.7 21.0h0M322.9 20.9h0M323.4 21.1h0M324.9 20.9h0M326.1 21.2h0M327.2 21.3h0M328.7 21.3h0M329.4 20.8h0M331.0 20.8h0M331.5 21.0h0M332.9 21.3h0M334.2 21.2h0M335.5 21.3h0M336.3 20.7h0M337.9 21.3h0M338.4 20.7h0M340.1 21.3h0M340.8 20.9h0M317.1 22.6h0M318.0 22.1h0M319.4 22.5h0M320.2 22.2h0M321.3 21.8h0M322.7 21.8h0M323.9 22.4h0M324.9 22.0h0M325.9 22.1h0M327.2 22.6h0M328.3 22.5h0M329.5 22.2h0M330.7 22.4h0M332.0 22.6h0M333.0 22.3h0M334.0 22.4h0M335.2 22.3h0M336.4 22.1h0M337.9 21.9h0M316.9 23.5h0M317.6 23.2h0M318.8 23.7h0M320.6 23.2h0M321.3 23.8h0M322.6 22.9h0M323.7 23.5h0M325.2 23.6h0M325.9 23.5h0M327.7 23.8h0M328.8 23.6h0M329.5 23.4h0M330.3 23.2h0M331.9 23.3h0M332.7 23.3h0M334.3 23.2h0M335.1 23.6h0M336.4 23.0h0M337.9 23.0h0M316.9 24.3h0M317.9 24.2h0M319.5 24.8h0M320.6 24.6h0M321.3 24.5h0M322.9 24.8h0M323.4 24.1h0M325.4 24.3h0M326.0 24.8h0M327.5 24.2h0M328.4 24.1h0M329.4 24.3h0M330.9 24.1h0M332.0 24.4h0M333.0 24.2h0M334.2 24.9h0M335.0 24.4h0M316.5 25.4h0M317.3 25.3h0M318.2 25.3h0M319.0 25.6h0M320.7 26.0h0M321.5 26.0h0M322.9 25.7h0M323.9 25.4h0M324.5 25.9h0M325.7 26.1h0M327.5 25.9h0M328.3 25.8h0M329.3 25.4h0M330.8 26.0h0M332.2 25.4h0M332.6 25.4h0M333.8 25.7h0M316.9 26.7h0M318.3 26.6h0M319.0 27.0h0M320.2 27.2h0M321.7 26.5h0M322.9 26.8h0M323.6 27.2h0M324.6 26.9h0M326.5 27.2h0M327.2 26.4h0M328.7 26.5h0M329.6 26.4h0M330.9 27.2h0M331.5 27.0h0M332.6 26.6h0M316.9 28.4h0M318.2 27.6h0M319.3 27.9h0M320.7 27.8h0M321.7 27.7h0M322.9 27.7h0M323.5 28.1h0M324.8 27.9h0M326.3 27.8h0M327.5 28.3h0M328.4 27.6h0M329.4 28.3h0M330.4 27.9h0M331.5 28.3h0M316.5 28.9h0M318.2 28.7h0M318.8 29.4h0M320.3 29.4h0M321.1 28.7h0M322.5 29.3h0M324.1 29.4h0M324.7 29.5h0M325.9 28.7h0M327.7 29.0h0M328.6 29.1h0M329.3 28.7h0M317.2 29.9h0M317.6 29.8h0M319.3 29.9h0M320.5 30.4h0M321.9 30.4h0M322.3 30.7h0M324.1 30.6h0M325.2 30.2h0M325.9 30.6h0M327.4 30.1h0M328.7 29.9h0M329.7 30.1h0M316.8 31.8h0M318.3 31.1h0M318.8 31.4h0M320.6 31.3h0M321.7 31.2h0M322.3 31.0h0M323.5 31.5h0M324.8 31.7h0M326.2 31.2h0M326.9 31.1h0M328.0 31.6h0M329.7 31.8h0M317.0 32.4h0M317.7 32.5h0M319.4 32.1h0M320.2 32.9h0M321.6 32.4h0M323.0 32.9h0M323.4 32.3h0M325.0 32.6h0M325.7 32.7h0M327.4 32.4h0M328.7 32.4h0M329.3 32.4h0M331.6 32.7h0M316.6 34.1h0M318.0 33.3h0M318.9 33.7h0M319.9 34.0h0M321.7 34.1h0M322.9 33.9h0M323.9 34.1h0M324.7 33.8h0M326.3 34.0h0M327.4 34.1h0M316.7 34.8h0M317.6 34.9h0M319.0 35.2h0M320.8 35.1h0M321.8 34.5h0M322.9 34.5h0M324.2 35.2h0M325.0 34.9h0M326.2 34.7h0M327.5 34.7h0M316.9 35.9h0M318.1 36.2h0M319.3 36.4h0M320.3 35.7h0M321.6 35.6h0M322.7 35.6h0M323.5 36.4h0M324.8 36.1h0M326.2 35.6h0M327.0 35.9h0M316.6 37.1h0M317.6 36.9h0M319.2 37.4h0M320.6 37.2h0M321.9 36.8h0M322.6 37.0h0M323.7 37.1h0M325.3 37.4h0M325.7 37.0h0M327.4 36.8h0M317.9 38.5h0M319.4 38.6h0M320.4 38.4h0M321.1 38.2h0M322.5 38.4h0M324.1 37.9h0M324.7 38.2h0M317.0 39.2h0M318.3 39.8h0M319.6 39.2h0M320.6 39.1h0M321.1 39.6h0M322.3 39.2h0M323.5 39.5h0M325.4 39.7h0M317.3 40.4h0M317.8 40.9h0M318.8 40.3h0M320.7 40.8h0M321.9 40.6h0M322.7 40.4h0M323.7 40.8h0M317.0 42.0h0M318.4 41.3h0M319.3 41.6h0M320.4 41.5h0M321.5 41.5h0M322.4 41.5h0M317.9 42.5h0M319.1 42.5h0M320.4 43.0h0M321.7 43.3h0M322.4 43.1h0M317.8 44.5h0M319.4 44.4h0M320.7 44.4h0M321.1 44.3h0M316.5 45.2h0M317.2 45.5h0M318.2 45.5h0M319.2 44.8h0M320.5 45.5h0M321.4 45.2h0M318.5 46.0h0M319.1 46.1h0M320.4 46.1h0M321.8 46.8h0M316.5 47.7h0M317.2 47.1h0M317.8 47.6h0M318.8 47.9h0M320.4 47.6h0M321.8 47.6h0M322.5 47.6h0M316.5 48.5h0M318.3 48.7h0M319.0 48.2h0M320.3 48.4h0M321.5 48.9h0M317.1 49.9h0M317.8 49.7h0M318.8 49.5h0M320.0 49.9h0M321.5 49.9h0M316.5 51.4h0M316.5 51.2h0M317.9 50.8h0M319.5 51.0h0M320.7 51.1h0M321.4 51.4h0M316.5 52.1h0M317.3 51.8h0M317.7 52.3h0M319.5 52.0h0M320.5 52.3h0M321.5 52.4h0M318.2 53.3h0M319.5 53.3h0M320.0 53.7h0M316.5 54.6h0M317.3 54.3h0M318.2 54.0h0M319.4 54.7h0M320.0 54.8h0M321.4 54.1h0M316.5 55.2h0M318.4 55.8h0M318.8 55.7h0M320.3 55.7h0M321.5 55.7h0M322.2 55.8h0M316.5 56.7h0M317.1 56.6h0M317.8 57.1h0M319.5 56.5h0M320.2 56.7h0M321.9 57.0h0M323.0 56.7h0M316.5 58.0h0M318.3 58.1h0M319.3 57.9h0M320.3 58.0h0M321.3 57.5h0M316.5 59.2h0M317.9 58.6h0M319.3 59.3h0M320.7 59.3h0M321.1 59.0h0M323.1 58.6h0M316.5 60.3h0M316.5 60.5h0M317.8 59.8h0M319.0 60.1h0M320.0 60.1h0M321.9 59.8h0M322.9 59.9h0M316.5 61.2h0M317.7 60.9h0M319.6 61.0h0M320.2 61.4h0M321.2 60.9h0M322.4 61.0h0M316.7 62.2h0M318.0 62.4h0M319.2 62.5h0M320.0 62.1h0M321.3 62.8h0M322.4 62.2h0M317.6 63.3h0M319.1 63.8h0M320.8 63.9h0M321.4 63.9h0M322.4 63.9h0M316.5 64.4h0M317.8 64.6h0M319.4 64.4h0M320.1 64.6h0M321.4 64.8h0M316.5 65.9h0M317.2 66.1h0M318.2 66.0h0M319.4 66.0h0M320.8 66.0h0M317.1 66.9h0M317.8 66.7h0M319.3 67.4h0M320.0 66.7h0M316.9 68.3h0M317.9 68.2h0M319.0 68.6h0M320.5 67.8h0M321.7 68.2h0M322.7 68.6h0M316.5 69.6h0M317.0 69.7h0M318.0 69.0h0M319.1 69.3h0M320.6 69.3h0M321.6 69.6h0M322.9 69.6h0M323.4 69.6h0M318.3 70.2h0M319.3 70.6h0M320.4 70.3h0M321.2 70.7h0M316.5 71.6h0M317.7 72.0h0M319.1 71.3h0M320.3 72.0h0M321.9 71.8h0M322.7 72.1h0M316.5 72.4h0M316.7 73.1h0M317.9 72.8h0M318.9 72.4h0M320.3 72.5h0M321.6 72.8h0M322.4 72.4h0M316.5 74.1h0M317.3 73.6h0M317.9 74.2h0M319.4 74.3h0M320.7 74.1h0M321.5 74.2h0M316.5 74.7h0M317.9 75.1h0M319.2 75.4h0M320.4 74.8h0M321.9 75.1h0M317.6 76.3h0M319.6 76.3h0M320.1 76.6h0M321.5 76.4h0M322.3 75.9h0M316.5 77.6h0M317.3 77.7h0M318.1 77.7h0M319.3 77.2h0M320.7 77.2h0M316.5 78.2h0M316.5 78.6h0M317.8 78.4h0M318.8 78.9h0M320.5 78.2h0M321.4 78.6h0M318.3 79.9h0M319.0 82.3h0M316.5 11.8h0M316.5 12.9h0M316.5 14.0h0M316.5 15.1h0M316.5 16.2h0M316.5 17.4h0M316.5 18.5h0M316.5 19.6h0M316.5 20.7h0M316.5 21.8h0M316.5 22.9h0M316.5 24.0h0M316.5 25.1h0M316.5 26.2h0M316.5 27.3h0M316.5 28.4h0M316.5 29.5h0M316.5 30.6h0M316.5 31.7h0M316.5 32.8h0M316.5 33.9h0M316.5 35.0h0M316.5 36.1h0M316.5 37.2h0M316.5 38.3h0M316.5 39.4h0M316.5 40.5h0M316.5 41.6h0M338.2 33.8h0M345.4 25.7h0M347.6 21.4h0M316.4 90.5h0M317.0 99.9h0M316.4 102.1h0M317.0 104.3h0M321.8 108.0h0M322.9 62.8h0M324.4 63.5h0M321.8 51.9h0M315.7 60.6h0M315.7 50.8h0M323.6 74.8h0M318.5 80.3h0M519.3 11.8h0M529.2 11.8h0M531.6 11.8h0" stroke="#1f77b4" stroke-width="3.9" stroke-linecap="round" fill="none"/>
<path d="M316.50 112.80v3.2M356.25 112.80v3.2M396.00 112.80v3.2M435.75 112.80v3.2M475.50 112.80v3.2M515.25 112.80v3.2M305.70 11.85h-3.2M305.70 43.50h-3.2M305.70 75.15h-3.2M305.70 106.80h-3.2" stroke="#111" stroke-width="1.0" fill="none"/>
<rect x="305.7" y="7.0" width="236.30" height="105.8" fill="none" stroke="#262626" stroke-width="1.0"/>
<text x="316.50" y="126.92" text-anchor="middle">0</text>
<text x="356.25" y="126.92" text-anchor="middle">3000</text>
<text x="396.00" y="126.92" text-anchor="middle">6000</text>
<text x="435.75" y="126.92" text-anchor="middle">9000</text>
<text x="475.50" y="126.92" text-anchor="middle">12,000</text>
<text x="515.25" y="126.92" text-anchor="middle">15,000</text>
<text x="423.85" y="140.30" text-anchor="middle">Precipitation</text>
<rect x="491.55" y="91.00" width="45.85" height="17.0" rx="1.6" fill="#fff" fill-opacity="0.8" stroke="#d0d0d0" stroke-width="0.8"/>
<text x="494.65" y="102.60" font-size="9.5"><tspan font-style="italic">r</tspan> = 0.14</text>
</g>
<g>
<path d="M115.5 158.0h0M117.0 158.0h0M117.1 158.9h0M118.1 158.0h0M118.2 159.4h0M119.2 158.0h0M118.8 159.3h0M119.3 160.3h0M120.1 158.0h0M120.4 159.6h0M120.1 160.2h0M121.2 158.0h0M121.1 159.0h0M121.2 160.3h0M122.7 158.0h0M123.0 159.3h0M122.4 159.9h0M122.2 161.4h0M123.7 158.0h0M123.5 158.8h0M124.1 160.1h0M124.9 158.0h0M125.3 159.5h0M124.8 160.7h0M125.9 158.0h0M126.2 159.6h0M126.3 159.9h0M127.3 158.0h0M126.9 158.8h0M127.5 160.7h0M127.9 158.0h0M127.9 159.1h0M128.4 160.0h0M128.7 161.5h0M129.6 158.0h0M129.3 159.4h0M129.7 160.3h0M129.1 161.6h0M129.6 163.3h0M130.2 158.0h0M131.0 159.3h0M130.4 160.7h0M130.5 161.9h0M130.3 163.9h0M131.8 158.0h0M131.3 159.5h0M131.9 160.0h0M132.7 158.0h0M132.6 159.6h0M132.8 160.2h0M132.5 161.7h0M133.9 158.0h0M133.9 159.2h0M133.6 160.4h0M134.0 162.2h0M133.8 164.7h0M135.5 158.0h0M135.5 159.4h0M135.6 160.1h0M135.1 161.1h0M135.1 162.8h0M136.7 158.0h0M136.8 159.1h0M136.4 160.1h0M137.6 158.0h0M137.7 159.4h0M137.1 160.0h0M138.8 158.0h0M138.4 159.4h0M138.8 160.4h0M139.8 158.0h0M139.7 159.1h0M141.4 158.0h0M141.1 159.4h0M141.3 160.3h0M142.5 158.0h0M142.2 158.8h0M142.3 160.0h0M143.2 158.0h0M143.5 159.3h0M143.3 159.9h0M144.2 158.0h0M144.8 158.8h0M144.8 160.6h0M145.6 158.0h0M145.8 159.4h0M145.9 160.3h0M145.3 161.0h0M145.8 162.8h0M146.6 158.0h0M146.9 159.3h0M146.3 160.4h0M147.7 158.0h0M147.9 159.0h0M147.8 160.4h0M148.0 161.1h0M149.1 158.0h0M148.7 159.0h0M148.7 160.5h0M149.4 163.0h0M150.1 158.0h0M149.8 159.0h0M150.3 160.2h0M150.5 161.9h0M151.6 158.0h0M151.6 159.5h0M151.7 160.5h0M151.7 161.3h0M152.8 158.0h0M152.4 158.8h0M152.6 159.9h0M152.7 161.4h0M152.6 164.5h0M153.6 158.0h0M153.3 159.5h0M153.5 159.9h0M153.4 161.5h0M153.8 162.5h0M154.9 158.0h0M155.1 159.6h0M154.4 160.4h0M155.0 161.6h0M154.8 162.9h0M154.5 164.6h0M155.5 158.0h0M155.9 159.1h0M155.6 160.5h0M156.2 161.5h0M157.1 158.0h0M157.3 159.3h0M157.0 160.5h0M156.8 161.7h0M158.1 158.0h0M158.1 159.4h0M157.8 160.0h0M157.8 161.6h0M158.2 162.2h0M157.8 164.6h0M159.0 158.0h0M159.7 158.8h0M159.4 160.0h0M159.7 161.7h0M159.6 163.0h0M160.8 158.0h0M160.9 159.4h0M160.1 160.4h0M160.9 161.3h0M160.2 162.4h0M161.7 158.0h0M161.3 159.4h0M161.5 160.5h0M161.3 161.4h0M161.5 162.2h0M162.1 165.1h0M161.6 171.6h0M162.4 158.0h0M163.2 158.8h0M163.0 160.3h0M162.4 161.8h0M162.9 162.2h0M162.8 163.6h0M164.1 158.0h0M163.6 159.1h0M164.2 160.6h0M163.7 161.4h0M165.2 158.0h0M165.3 159.1h0M165.4 160.2h0M165.1 161.7h0M166.3 158.0h0M166.3 159.1h0M166.5 160.5h0M166.5 161.1h0M167.8 158.0h0M167.8 159.5h0M167.6 160.6h0M167.6 161.5h0M167.5 162.3h0M168.5 158.0h0M168.7 158.9h0M168.8 160.4h0M168.3 161.4h0M169.0 162.5h0M170.0 158.0h0M169.9 159.5h0M169.6 160.7h0M169.9 161.0h0M169.5 162.3h0M171.2 158.0h0M170.7 158.8h0M170.8 159.9h0M170.6 161.7h0M171.0 162.7h0M170.5 163.7h0M171.9 158.0h0M172.0 158.9h0M172.2 160.1h0M172.2 161.8h0M172.2 162.8h0M173.2 158.0h0M173.3 159.4h0M172.8 159.9h0M172.7 161.9h0M173.5 162.4h0M172.8 164.6h0M174.2 158.0h0M174.4 159.2h0M173.9 159.9h0M174.6 161.1h0M174.4 163.4h0M175.2 158.0h0M175.5 159.0h0M175.2 160.7h0M175.6 161.9h0M176.9 158.0h0M176.4 159.5h0M176.4 160.0h0M176.2 161.6h0M176.2 163.0h0M177.0 164.2h0M176.2 165.3h0M177.9 158.0h0M177.7 159.0h0M177.3 160.5h0M177.3 161.3h0M177.5 163.0h0M178.0 163.6h0M177.8 164.9h0M177.8 168.2h0M179.3 158.0h0M178.6 158.7h0M178.7 159.9h0M179.0 161.2h0M179.1 162.6h0M179.0 163.4h0M179.1 165.0h0M179.7 158.0h0M180.5 158.9h0M179.7 159.9h0M180.3 161.1h0M180.5 162.4h0M180.3 163.8h0M179.9 165.9h0M181.3 158.0h0M180.9 159.2h0M181.2 160.6h0M181.2 161.2h0M181.1 162.2h0M180.8 163.5h0M181.2 164.8h0M181.6 167.5h0M182.5 158.0h0M182.1 159.1h0M182.0 160.2h0M182.6 161.7h0M182.6 162.9h0M182.1 163.9h0M182.1 165.0h0M182.8 165.8h0M183.7 158.0h0M183.9 159.5h0M183.7 160.3h0M183.4 161.7h0M183.6 162.2h0M183.8 163.8h0M183.2 164.5h0M183.3 166.9h0M184.5 158.0h0M184.9 158.9h0M184.8 160.0h0M184.7 161.4h0M184.2 162.4h0M184.3 163.8h0M184.9 165.1h0M184.8 165.9h0M185.7 158.0h0M185.7 159.2h0M185.9 160.4h0M185.7 161.4h0M186.2 162.5h0M185.5 163.7h0M186.0 165.8h0M185.7 167.0h0M186.5 158.0h0M187.0 158.9h0M187.2 160.1h0M186.9 161.7h0M187.1 162.5h0M186.8 164.1h0M187.3 165.0h0M186.6 167.3h0M187.7 158.0h0M188.3 159.0h0M188.4 160.6h0M188.0 161.6h0M187.7 162.6h0M188.3 163.6h0M187.8 165.0h0M189.1 158.0h0M189.0 159.3h0M188.8 160.6h0M189.6 161.3h0M188.9 162.3h0M189.2 163.7h0M189.5 167.0h0M190.4 158.0h0M190.8 158.9h0M190.0 160.2h0M190.5 161.4h0M190.5 162.4h0M190.0 163.4h0M191.5 158.0h0M191.3 159.0h0M191.1 160.7h0M191.9 161.3h0M191.4 162.2h0M191.1 163.3h0M192.4 158.0h0M192.4 159.0h0M192.6 160.4h0M192.9 161.3h0M193.1 162.8h0M192.4 163.3h0M194.2 158.0h0M193.7 159.0h0M193.4 160.5h0M193.8 161.7h0M193.8 162.9h0M193.9 163.9h0M193.8 165.1h0M194.2 166.9h0M193.8 170.5h0M194.8 158.0h0M194.6 158.7h0M195.2 160.3h0M195.2 161.6h0M195.0 162.9h0M194.6 163.9h0M194.6 165.2h0M195.1 166.3h0M194.8 170.4h0M196.2 158.0h0M196.1 158.7h0M196.6 160.0h0M196.1 161.2h0M195.8 162.5h0M196.4 163.7h0M195.8 165.3h0M196.4 166.3h0M195.9 167.2h0M196.3 168.3h0M195.9 170.9h0M196.9 158.0h0M197.6 159.5h0M197.5 160.5h0M197.4 161.3h0M196.9 162.7h0M197.4 163.6h0M197.7 165.3h0M197.5 165.9h0M196.9 166.8h0M197.5 168.5h0M197.6 169.6h0M197.7 170.7h0M197.0 184.9h0M198.4 158.0h0M198.5 159.5h0M198.8 160.6h0M198.3 161.1h0M198.5 162.5h0M198.5 163.6h0M198.2 165.2h0M198.4 166.5h0M198.7 167.3h0M198.9 170.3h0M198.8 176.7h0M199.2 158.0h0M199.5 159.6h0M199.9 160.6h0M199.2 161.1h0M199.3 163.0h0M199.3 163.6h0M199.6 164.9h0M199.3 166.0h0M200.0 168.5h0M200.4 158.0h0M201.1 158.7h0M200.7 160.7h0M200.8 161.3h0M200.5 162.4h0M200.5 164.2h0M200.9 164.6h0M200.8 166.2h0M200.5 168.1h0M201.7 158.0h0M202.1 159.4h0M202.1 159.9h0M201.5 161.7h0M201.7 162.8h0M202.0 163.6h0M202.2 164.8h0M202.0 170.5h0M203.3 158.0h0M203.1 158.8h0M202.8 159.9h0M203.0 161.1h0M202.7 163.0h0M203.0 163.6h0M202.8 165.0h0M203.3 167.6h0M204.5 158.0h0M204.0 159.6h0M204.0 160.3h0M204.2 161.2h0M204.2 162.7h0M203.9 163.6h0M203.8 164.5h0M203.8 166.1h0M204.5 167.4h0M204.6 169.5h0M205.1 158.0h0M205.3 159.4h0M205.5 160.4h0M205.6 161.3h0M205.0 162.7h0M205.8 163.8h0M205.8 164.8h0M205.4 167.1h0M206.3 158.0h0M206.4 159.6h0M206.6 160.3h0M206.8 161.8h0M206.4 163.0h0M206.6 164.1h0M206.5 164.5h0M206.8 166.4h0M207.5 158.0h0M208.1 159.2h0M207.7 160.3h0M207.5 161.3h0M208.0 162.4h0M207.4 163.9h0M207.9 165.1h0M207.6 166.0h0M207.6 168.5h0M207.7 169.1h0M208.8 158.0h0M208.8 159.2h0M208.9 160.7h0M208.9 161.4h0M209.0 162.3h0M208.6 163.4h0M208.9 165.1h0M208.8 166.2h0M208.4 167.3h0M210.1 158.0h0M209.8 159.6h0M210.3 159.9h0M210.2 161.6h0M210.2 162.6h0M210.0 164.0h0M210.3 165.0h0M210.3 165.9h0M209.6 167.0h0M209.7 168.2h0M209.5 169.4h0M209.8 184.0h0M211.0 158.0h0M210.8 159.4h0M211.0 160.7h0M211.5 161.6h0M211.5 162.6h0M211.3 163.8h0M211.3 165.1h0M211.0 166.0h0M210.9 167.1h0M211.5 169.2h0M212.4 158.0h0M211.8 158.8h0M212.1 160.7h0M212.5 161.7h0M212.4 163.0h0M212.2 164.0h0M212.1 164.5h0M211.8 166.4h0M212.4 169.8h0M212.0 175.4h0M213.2 158.0h0M213.0 159.6h0M213.3 160.4h0M213.0 161.1h0M213.1 163.0h0M213.7 163.8h0M213.4 164.5h0M213.1 166.2h0M213.5 169.2h0M214.6 158.0h0M214.6 158.7h0M214.8 160.6h0M214.1 161.5h0M214.3 162.6h0M214.3 164.1h0M214.2 165.2h0M214.7 166.2h0M214.5 167.3h0M215.0 169.9h0M216.0 158.0h0M215.7 159.5h0M215.6 159.9h0M215.5 161.5h0M216.0 163.0h0M215.7 163.9h0M215.8 164.5h0M215.6 165.8h0M215.7 167.5h0M215.7 168.5h0M215.7 169.7h0M216.1 171.7h0M215.4 174.5h0M217.1 158.0h0M216.7 158.8h0M217.2 160.4h0M217.0 161.4h0M216.9 162.4h0M216.9 163.4h0M217.2 165.3h0M216.6 166.1h0M217.2 167.2h0M217.1 168.4h0M217.2 169.2h0M216.9 170.4h0M217.3 171.9h0M216.8 179.5h0M216.5 181.7h0M218.2 158.0h0M218.2 159.4h0M217.6 160.0h0M217.9 161.3h0M218.1 162.8h0M218.4 163.4h0M218.3 164.6h0M218.2 166.3h0M217.6 167.4h0M217.9 168.4h0M217.8 169.6h0M218.2 170.5h0M218.1 172.0h0M218.0 172.5h0M218.1 173.9h0M218.3 174.9h0M218.4 176.8h0M218.9 158.0h0M219.0 159.5h0M218.7 160.6h0M218.9 161.7h0M219.0 162.4h0M219.3 163.3h0M219.0 165.1h0M218.8 166.4h0M219.5 167.3h0M219.6 168.6h0M219.0 169.8h0M218.9 170.8h0M219.0 171.5h0M219.6 173.0h0M218.7 174.3h0M219.1 175.4h0M218.9 176.0h0M219.3 177.7h0M219.6 182.3h0M220.5 158.0h0M220.1 158.7h0M220.4 159.9h0M220.3 161.3h0M220.7 162.6h0M220.3 163.9h0M220.3 165.3h0M219.9 166.3h0M220.5 166.9h0M220.4 168.8h0M220.7 169.8h0M220.0 170.6h0M220.0 172.2h0M219.9 172.8h0M219.9 174.3h0M220.1 174.9h0M220.6 176.7h0M220.6 178.5h0M221.8 158.0h0M221.6 158.9h0M221.8 160.3h0M221.2 161.2h0M221.5 162.4h0M221.5 164.1h0M221.4 164.7h0M221.2 165.9h0M221.1 166.8h0M221.5 168.1h0M221.5 169.7h0M221.8 171.0h0M221.4 171.6h0M221.2 172.6h0M221.7 173.9h0M221.8 175.1h0M221.8 176.8h0M221.0 177.4h0M221.2 180.6h0M221.4 187.7h0M222.3 158.0h0M223.0 159.6h0M222.9 160.2h0M222.4 161.1h0M222.8 162.6h0M222.5 164.1h0M222.6 165.1h0M222.2 166.1h0M223.0 167.5h0M222.7 168.1h0M222.4 169.7h0M222.7 170.8h0M222.8 171.6h0M222.7 173.3h0M223.0 174.4h0M222.9 175.3h0M222.9 180.0h0M222.4 180.9h0M222.5 183.6h0M224.2 158.0h0M224.1 158.8h0M224.0 160.1h0M224.0 161.2h0M223.6 162.5h0M223.9 163.8h0M223.7 164.8h0M223.4 165.8h0M223.9 167.3h0M224.1 167.9h0M223.4 169.5h0M223.7 170.7h0M223.8 171.6h0M223.4 173.0h0M223.8 174.2h0M223.4 177.9h0M224.8 158.0h0M225.0 159.5h0M225.2 160.0h0M224.6 161.3h0M225.1 162.9h0M224.5 164.1h0M224.6 164.7h0M225.1 166.4h0M225.1 167.1h0M225.3 168.7h0M225.2 169.7h0M224.7 170.7h0M224.9 171.8h0M225.1 172.7h0M226.1 158.0h0M226.0 158.8h0M226.3 160.3h0M226.4 161.4h0M225.7 162.9h0M226.1 163.9h0M225.6 164.6h0M226.3 166.0h0M225.7 167.4h0M227.1 158.0h0M227.4 159.3h0M227.1 160.6h0M227.4 161.5h0M227.6 162.7h0M226.8 163.9h0M227.6 164.6h0M227.6 166.1h0M227.0 166.8h0M227.0 168.5h0M226.8 171.4h0M228.3 158.0h0M228.3 159.6h0M228.6 160.7h0M228.6 161.5h0M227.9 162.9h0M228.4 163.6h0M228.5 164.8h0M228.5 165.9h0M228.7 167.6h0M228.4 168.1h0M228.8 169.1h0M228.0 171.7h0M229.1 158.0h0M229.3 159.0h0M229.9 160.0h0M229.1 161.8h0M229.4 163.0h0M229.8 163.5h0M229.1 165.0h0M229.2 166.5h0M229.8 166.9h0M229.3 168.8h0M229.4 169.6h0M229.5 173.3h0M230.8 158.0h0M230.2 159.1h0M231.0 160.7h0M230.5 161.2h0M230.2 162.4h0M230.8 163.4h0M230.7 165.1h0M230.7 165.7h0M230.7 167.6h0M230.7 168.1h0M230.6 169.4h0M230.6 170.7h0M231.1 171.4h0M231.6 158.0h0M231.4 159.6h0M232.1 160.2h0M232.0 161.8h0M231.9 162.7h0M231.5 163.3h0M231.8 164.8h0M231.4 165.9h0M231.7 167.4h0M231.8 168.4h0M232.2 169.1h0M231.6 170.4h0M231.4 172.1h0M232.1 172.9h0M232.2 178.9h0M232.9 158.0h0M232.9 159.5h0M232.7 160.6h0M232.7 161.5h0M233.0 162.2h0M232.9 163.5h0M233.3 164.6h0M232.8 166.2h0M233.3 167.5h0M232.9 168.1h0M233.4 169.4h0M232.7 170.3h0M233.3 172.1h0M233.3 172.9h0M232.7 173.7h0M232.7 176.0h0M234.0 158.0h0M233.8 158.8h0M234.1 160.3h0M234.5 161.8h0M233.7 162.4h0M234.2 163.5h0M234.0 165.1h0M234.3 165.7h0M234.2 166.8h0M234.0 168.4h0M234.2 169.2h0M234.5 170.3h0M234.2 171.9h0M234.0 172.8h0M234.1 174.3h0M233.9 175.0h0M234.5 176.8h0M234.1 177.3h0M235.0 158.0h0M234.9 159.3h0M234.8 160.0h0M234.8 161.2h0M235.2 162.8h0M234.9 164.1h0M235.2 164.5h0M235.1 165.8h0M235.4 167.3h0M235.4 168.5h0M235.7 169.1h0M235.5 170.6h0M235.1 171.5h0M235.5 172.8h0M234.8 174.5h0M235.4 175.6h0M235.1 176.3h0M235.7 179.5h0M236.8 158.0h0M236.5 159.4h0M236.5 160.5h0M236.0 161.6h0M236.2 162.4h0M236.7 163.7h0M236.3 164.9h0M236.0 165.6h0M236.6 167.4h0M236.5 168.3h0M236.1 169.5h0M236.1 170.8h0M236.2 171.8h0M236.5 172.9h0M236.4 178.7h0M236.8 182.5h0M237.9 158.0h0M237.4 159.0h0M237.2 160.4h0M237.4 161.2h0M237.7 162.6h0M237.4 163.9h0M237.4 165.2h0M237.1 165.7h0M237.6 167.4h0M237.8 168.1h0M237.7 169.5h0M237.7 170.5h0M237.2 171.9h0M237.3 174.0h0M237.6 177.3h0M238.3 158.0h0M239.0 158.9h0M239.1 160.4h0M238.7 161.6h0M238.8 162.5h0M238.5 163.7h0M238.5 164.6h0M239.0 166.5h0M238.9 166.9h0M238.6 168.3h0M239.0 169.8h0M238.5 170.3h0M238.4 171.4h0M239.0 173.3h0M238.3 175.4h0M238.9 177.5h0M238.7 178.7h0M240.2 158.0h0M239.4 159.5h0M240.3 160.4h0M239.9 161.4h0M240.3 162.4h0M239.6 163.9h0M240.0 164.5h0M239.9 166.2h0M239.8 167.4h0M239.5 168.6h0M239.6 169.8h0M240.0 170.2h0M240.1 172.1h0M240.0 173.2h0M239.5 174.2h0M239.8 176.2h0M239.6 178.3h0M240.8 158.0h0M241.4 159.1h0M241.2 160.7h0M240.6 161.6h0M240.9 162.7h0M240.9 163.7h0M241.2 164.5h0M241.4 166.5h0M241.1 167.5h0M240.9 168.0h0M241.2 169.1h0M240.7 171.0h0M241.1 172.2h0M240.6 172.5h0M240.7 174.2h0M240.7 178.8h0M241.9 158.0h0M241.8 158.8h0M242.5 159.9h0M242.0 161.7h0M241.9 163.1h0M241.7 163.9h0M242.5 164.6h0M242.4 165.8h0M242.5 167.4h0M242.4 168.6h0M241.7 169.7h0M242.5 171.0h0M242.4 173.7h0M242.2 175.5h0M242.5 178.9h0M243.7 158.0h0M243.1 159.0h0M243.4 160.7h0M243.5 161.5h0M243.2 162.3h0M243.0 163.5h0M243.5 165.2h0M243.7 166.4h0M242.9 167.3h0M243.5 168.7h0M243.7 169.3h0M243.7 172.1h0M243.4 175.5h0M244.2 158.0h0M244.4 159.0h0M244.9 160.6h0M244.3 161.5h0M244.5 162.7h0M244.6 163.5h0M244.6 165.3h0M244.9 166.3h0M244.6 167.1h0M244.2 168.2h0M244.9 169.2h0M244.2 170.3h0M244.1 171.5h0M244.9 175.4h0M244.8 177.7h0M245.2 158.0h0M245.5 158.8h0M245.5 160.1h0M245.8 161.3h0M245.9 162.3h0M246.0 163.3h0M245.2 164.6h0M245.2 166.0h0M245.6 167.6h0M245.9 168.2h0M245.2 169.4h0M245.9 170.7h0M245.2 171.4h0M245.5 174.1h0M247.2 158.0h0M246.9 158.9h0M246.4 160.2h0M246.6 161.7h0M247.2 162.8h0M246.9 163.7h0M246.8 165.3h0M246.4 166.5h0M246.5 167.0h0M246.5 168.3h0M246.6 169.4h0M247.0 170.5h0M247.1 172.1h0M246.6 173.1h0M246.4 174.1h0M246.7 175.3h0M247.2 179.6h0M247.2 183.6h0M248.1 158.0h0M247.9 158.9h0M248.3 160.5h0M247.9 161.8h0M248.1 162.2h0M247.5 163.6h0M248.2 164.7h0M247.9 165.7h0M248.0 166.9h0M247.7 168.5h0M248.1 169.1h0M248.2 170.2h0M247.6 172.1h0M247.7 172.6h0M247.9 174.0h0M248.1 175.6h0M248.3 176.2h0M247.9 180.0h0M247.8 183.7h0M247.6 184.2h0M248.3 186.0h0M248.7 158.0h0M249.2 159.6h0M249.3 160.4h0M249.1 161.1h0M249.4 162.9h0M248.7 163.8h0M248.7 164.9h0M248.7 165.8h0M249.1 167.5h0M248.9 168.1h0M249.4 169.4h0M249.2 170.2h0M249.3 172.1h0M248.8 173.4h0M248.8 174.2h0M248.7 175.1h0M249.1 177.9h0M249.1 179.0h0M249.0 184.4h0M249.3 187.6h0M250.4 158.0h0M250.0 159.1h0M250.2 160.4h0M250.6 161.4h0M250.0 162.3h0M250.0 163.4h0M250.1 164.7h0M250.5 166.1h0M249.8 167.5h0M249.8 168.4h0M249.9 169.4h0M249.9 170.3h0M249.8 172.2h0M249.9 173.0h0M250.5 175.0h0M250.4 177.4h0M251.8 158.0h0M251.6 159.0h0M251.4 160.7h0M251.3 161.3h0M250.9 162.4h0M251.7 163.4h0M251.1 164.9h0M251.6 165.8h0M251.7 167.3h0M251.3 168.4h0M251.5 169.5h0M251.0 171.0h0M251.8 171.4h0M251.5 172.8h0M251.0 173.8h0M251.2 177.4h0M251.4 180.6h0M251.0 182.0h0M252.4 158.0h0M252.6 159.2h0M252.6 160.2h0M252.9 161.7h0M252.1 162.9h0M252.9 163.3h0M252.7 165.2h0M252.9 166.3h0M252.2 167.1h0M252.3 168.3h0M252.1 169.7h0M252.8 170.7h0M252.9 172.0h0M252.1 172.6h0M252.1 174.2h0M252.4 175.2h0M252.3 176.5h0M252.3 178.6h0M252.5 179.5h0M253.4 158.0h0M253.8 159.5h0M253.5 160.2h0M253.7 161.3h0M253.9 162.6h0M253.6 163.5h0M253.3 164.6h0M253.6 166.4h0M253.8 167.4h0M253.6 167.9h0M253.5 169.2h0M253.9 171.0h0M254.0 171.7h0M253.5 173.0h0M253.9 174.2h0M253.6 175.0h0M253.8 176.1h0M253.9 180.6h0M253.4 183.7h0M254.1 186.8h0M254.7 158.0h0M255.0 158.7h0M254.5 160.2h0M254.7 161.6h0M255.0 162.6h0M255.0 163.6h0M254.4 165.0h0M254.6 166.0h0M254.8 167.6h0M255.0 168.6h0M254.5 169.3h0M254.4 170.3h0M255.2 172.0h0M254.7 173.3h0M254.6 174.3h0M254.9 174.9h0M255.0 176.4h0M254.9 177.5h0M254.5 180.2h0M254.9 186.4h0M256.0 158.0h0M256.1 158.8h0M255.9 160.1h0M256.0 161.8h0M256.1 162.6h0M256.1 163.9h0M256.1 164.8h0M256.1 166.0h0M255.6 167.0h0M255.7 168.0h0M256.0 169.8h0M256.4 171.1h0M255.9 172.3h0M255.7 172.6h0M255.5 174.5h0M256.1 175.7h0M256.1 176.3h0M256.1 177.1h0M256.2 179.0h0M256.2 181.2h0M256.3 190.0h0M257.5 158.0h0M257.0 158.7h0M256.7 160.5h0M257.5 161.0h0M257.1 162.8h0M257.2 163.5h0M257.0 165.1h0M257.4 165.8h0M257.5 167.1h0M256.9 168.6h0M256.9 169.8h0M257.1 170.4h0M257.2 171.4h0M257.4 173.3h0M257.1 174.4h0M257.4 175.1h0M257.5 176.6h0M257.2 177.1h0M256.8 179.4h0M258.1 158.0h0M257.9 159.4h0M258.5 160.1h0M258.5 161.3h0M258.5 162.9h0M258.4 163.5h0M258.1 165.3h0M258.0 166.0h0M258.5 167.5h0M258.1 168.6h0M258.6 169.3h0M258.1 170.9h0M258.6 172.2h0M258.6 173.4h0M258.2 173.9h0M259.0 158.0h0M259.1 159.5h0M259.5 160.6h0M259.6 161.7h0M259.2 162.2h0M259.5 163.9h0M259.4 165.3h0M259.7 166.0h0M259.6 167.4h0M259.7 170.5h0M260.9 158.0h0M261.0 159.1h0M260.3 160.5h0M260.4 161.8h0M260.7 162.5h0M260.8 163.4h0M260.4 165.1h0M260.3 165.7h0M262.1 158.0h0M261.6 158.8h0M261.6 160.6h0M261.7 161.4h0M261.7 162.2h0M261.4 163.7h0M261.4 164.6h0M261.3 166.4h0M261.4 167.1h0M261.7 168.1h0M261.9 170.4h0M263.3 158.0h0M263.0 159.1h0M262.6 160.1h0M262.9 161.8h0M262.8 162.9h0M263.1 164.0h0M262.8 165.1h0M262.9 165.9h0M263.0 167.6h0M262.7 168.1h0M263.1 169.7h0M262.6 170.9h0M264.0 158.0h0M263.7 158.8h0M264.0 160.5h0M264.1 161.5h0M263.6 162.7h0M263.8 163.5h0M264.1 164.8h0M264.4 165.6h0M264.1 167.2h0M263.6 168.0h0M264.1 169.4h0M264.0 170.5h0M263.9 171.4h0M264.2 172.9h0M264.0 178.3h0M264.4 179.4h0M265.4 158.0h0M264.9 159.3h0M265.1 160.6h0M265.1 161.1h0M264.8 162.8h0M265.0 163.9h0M265.5 164.6h0M264.8 166.1h0M264.8 167.3h0M265.1 168.4h0M265.2 169.7h0M264.8 170.3h0M265.1 172.0h0M265.0 172.7h0M264.7 173.8h0M265.1 175.1h0M266.2 158.0h0M266.0 159.0h0M266.5 160.5h0M266.2 161.9h0M265.9 162.8h0M266.0 163.5h0M265.9 165.0h0M266.1 165.8h0M265.9 167.2h0M266.2 168.4h0M266.1 169.7h0M266.5 170.7h0M266.6 171.4h0M266.6 172.8h0M266.0 173.9h0M266.1 175.7h0M266.5 177.3h0M266.1 179.9h0M266.0 181.4h0M266.6 183.7h0M267.3 158.0h0M267.7 158.7h0M267.3 160.5h0M267.6 161.1h0M267.9 162.6h0M267.1 163.9h0M267.7 165.3h0M267.6 165.9h0M267.5 167.6h0M267.1 168.1h0M267.6 169.3h0M267.4 170.5h0M267.1 171.4h0M267.1 172.6h0M267.4 174.2h0M267.2 175.7h0M267.6 178.6h0M267.6 180.6h0M267.2 191.7h0M268.7 158.0h0M268.6 158.9h0M268.5 160.2h0M269.0 161.7h0M268.5 162.4h0M268.6 164.0h0M268.7 165.2h0M268.9 165.7h0M268.2 167.2h0M268.5 168.1h0M268.4 169.5h0M268.9 170.4h0M268.7 171.5h0M268.4 173.0h0M268.6 173.7h0M268.8 174.9h0M269.0 176.0h0M268.6 179.6h0M268.4 182.6h0M269.7 158.0h0M270.0 159.5h0M270.1 160.6h0M269.5 161.3h0M270.0 162.7h0M269.8 163.8h0M269.4 164.5h0M269.9 165.9h0M269.9 166.9h0M270.1 168.7h0M269.7 169.9h0M270.0 171.0h0M270.8 158.0h0M270.9 159.6h0M271.2 160.7h0M270.9 161.1h0M270.8 162.9h0M271.0 163.8h0M271.3 165.1h0M271.2 165.7h0M270.6 166.9h0M271.1 168.7h0M272.0 158.0h0M271.8 158.9h0M272.3 160.0h0M271.6 161.5h0M272.2 162.6h0M271.9 164.2h0M271.9 164.9h0M271.6 166.4h0M271.7 170.7h0M271.6 171.8h0M272.4 173.2h0M273.3 158.0h0M273.3 159.1h0M273.2 160.4h0M273.0 161.9h0M273.1 162.2h0M273.6 163.4h0M273.0 164.5h0M273.0 166.4h0M273.1 168.3h0M273.2 169.9h0M273.4 177.6h0M274.5 158.0h0M274.2 159.2h0M274.4 160.0h0M274.5 161.7h0M274.0 162.5h0M274.7 163.7h0M274.2 164.6h0M274.4 165.9h0M274.6 167.0h0M275.3 158.0h0M275.1 159.2h0M275.4 160.6h0M275.1 161.7h0M275.2 162.5h0M275.5 163.9h0M275.9 164.5h0M61.3 158.0h0M72.3 158.0h0M72.5 163.4h0M72.5 176.7h0M100.2 158.0h0M118.7 164.7h0M131.8 168.9h0M141.6 167.4h0M146.0 164.5h0M155.8 166.3h0M162.8 166.7h0M167.8 171.1h0M144.9 182.2h0M161.7 197.7h0M147.1 250.3h0M163.9 248.8h0M168.9 249.6h0M170.0 249.6h0M172.2 175.4h0M176.1 176.1h0M179.8 173.9h0M186.4 177.2h0M186.4 179.4h0M186.4 185.9h0M192.5 189.8h0M195.1 172.8h0M200.5 179.4h0M201.6 184.8h0M203.8 179.4h0M201.6 197.9h0M205.6 195.7h0M209.3 188.5h0M211.5 183.7h0M209.9 214.9h0M212.5 214.3h0M209.9 236.8h0M216.9 225.2h0M219.1 206.6h0M220.2 193.5h0M224.5 200.1h0M225.0 224.1h0M225.0 245.9h0M228.3 215.8h0M231.1 189.8h0M233.9 199.4h0M235.5 189.2h0M238.1 213.2h0M239.8 202.3h0M240.3 195.3h0M242.0 195.3h0M242.4 214.9h0M243.1 223.7h0M245.3 197.9h0M245.7 203.4h0M245.7 205.5h0M248.6 215.4h0M249.2 208.2h0M250.7 224.1h0M250.7 226.3h0M251.8 200.7h0M252.9 211.0h0M254.0 197.9h0M254.0 220.4h0M254.0 225.2h0M255.1 209.5h0M258.4 208.4h0M258.4 214.9h0M258.4 220.8h0M258.8 221.9h0M260.6 206.6h0M262.7 203.4h0M265.4 197.9h0M266.0 191.4h0M267.1 203.4h0M269.3 201.2h0M269.9 195.7h0M269.9 211.0h0M270.4 221.9h0M264.3 254.0h0M259.5 188.1h0M261.6 190.3h0M264.9 187.0h0M256.2 185.9h0M270.4 183.7h0M275.8 167.4h0M275.2 172.8h0M214.7 181.5h0M216.9 183.7h0M222.4 182.6h0M226.7 183.7h0M237.6 187.0h0M242.0 188.1h0M246.4 187.0h0M250.7 188.1h0M267.1 188.1h0M268.2 192.5h0M221.3 177.2h0M227.8 180.5h0" stroke="#1f77b4" stroke-width="3.9" stroke-linecap="round" fill="none"/>
<path d="M68.80 258.96v3.2M121.45 258.96v3.2M174.10 258.96v3.2M226.75 258.96v3.2M279.40 258.96v3.2M50.40 158.01h-3.2M50.40 189.66h-3.2M50.40 221.31h-3.2M50.40 252.96h-3.2" stroke="#111" stroke-width="1.0" fill="none"/>
<rect x="50.4" y="153.16" width="236.60" height="105.8" fill="none" stroke="#262626" stroke-width="1.0"/>
<text x="68.80" y="273.08" text-anchor="middle">20</text>
<text x="121.45" y="273.08" text-anchor="middle">40</text>
<text x="174.10" y="273.08" text-anchor="middle">60</text>
<text x="226.75" y="273.08" text-anchor="middle">80</text>
<text x="279.40" y="273.08" text-anchor="middle">100</text>
<text x="43.80" y="161.83" text-anchor="end">0</text>
<text x="43.80" y="193.48" text-anchor="end">−20</text>
<text x="43.80" y="225.13" text-anchor="end">−40</text>
<text x="43.80" y="256.78" text-anchor="end">−60</text>
<text transform="translate(17.2 206.06) rotate(-90)" text-anchor="middle">Degradation rate</text>
<text x="168.70" y="286.46" text-anchor="middle">Max humidity</text>
<rect x="55.00" y="237.16" width="39.81" height="17.0" rx="1.6" fill="#fff" fill-opacity="0.8" stroke="#d0d0d0" stroke-width="0.8"/>
<text x="58.10" y="248.76" font-size="9.5"><tspan font-style="italic">r</tspan> = 0.0</text>
</g>
<g>
<path d="M339.9 158.0h0M341.0 158.0h0M341.9 158.0h0M343.2 158.0h0M344.7 158.0h0M344.1 159.1h0M345.6 158.0h0M346.0 158.9h0M345.7 159.9h0M346.5 158.0h0M347.0 158.9h0M347.2 160.5h0M346.6 162.2h0M348.2 158.0h0M347.6 158.8h0M347.8 160.1h0M348.4 166.0h0M349.5 158.0h0M349.3 159.2h0M349.2 160.2h0M348.8 161.7h0M350.2 158.0h0M350.6 159.0h0M350.4 160.4h0M350.0 161.8h0M350.2 162.3h0M350.7 163.9h0M351.8 158.0h0M351.5 158.7h0M351.2 160.0h0M351.6 161.1h0M351.5 162.7h0M351.4 163.4h0M352.9 158.0h0M352.8 159.5h0M352.5 160.1h0M352.3 161.8h0M352.1 162.9h0M352.4 163.8h0M352.6 165.0h0M353.6 158.0h0M353.8 158.9h0M354.0 160.7h0M353.4 161.4h0M354.0 162.3h0M354.5 158.0h0M354.9 159.5h0M354.8 160.1h0M354.6 161.7h0M355.2 162.9h0M354.9 164.6h0M356.0 158.0h0M355.7 159.3h0M355.6 160.7h0M356.4 161.5h0M356.4 162.2h0M355.9 164.1h0M357.4 158.0h0M357.5 158.7h0M356.9 160.4h0M357.2 161.9h0M357.0 163.0h0M358.7 158.0h0M358.3 158.9h0M358.2 160.2h0M358.1 161.1h0M359.3 158.0h0M359.6 158.9h0M359.5 160.4h0M359.2 161.3h0M359.5 162.2h0M359.3 164.5h0M360.6 158.0h0M360.6 159.0h0M361.0 160.6h0M360.3 161.0h0M360.4 162.2h0M360.7 163.5h0M361.9 158.0h0M362.0 159.4h0M361.4 160.5h0M361.8 161.3h0M361.8 162.4h0M362.2 163.9h0M361.5 165.2h0M361.8 167.7h0M362.6 158.0h0M362.6 159.1h0M362.5 160.4h0M362.6 161.6h0M362.7 162.7h0M363.3 163.6h0M363.2 165.2h0M363.1 167.6h0M364.4 158.0h0M364.0 159.1h0M364.5 160.1h0M363.8 161.1h0M363.6 163.0h0M363.7 164.0h0M364.4 164.6h0M364.2 166.0h0M363.8 170.2h0M365.2 158.0h0M365.6 159.1h0M365.2 160.7h0M365.3 161.4h0M365.2 162.4h0M365.0 163.9h0M365.5 165.3h0M364.8 165.7h0M365.0 171.7h0M366.8 158.0h0M366.7 159.3h0M366.6 160.6h0M366.1 161.2h0M366.0 162.6h0M366.5 163.7h0M366.2 165.1h0M366.6 165.7h0M367.4 158.0h0M367.2 159.0h0M367.7 160.6h0M367.7 161.5h0M367.5 162.9h0M367.4 163.5h0M367.2 165.2h0M367.4 165.7h0M368.9 158.0h0M368.8 158.9h0M369.0 160.2h0M368.4 161.6h0M369.0 162.8h0M368.6 164.1h0M368.3 165.2h0M368.3 165.8h0M368.8 170.4h0M369.5 158.0h0M369.9 158.7h0M369.6 160.7h0M369.9 161.4h0M369.8 162.9h0M370.1 163.7h0M369.7 164.5h0M369.4 165.9h0M370.9 158.0h0M371.1 159.4h0M371.2 160.3h0M370.8 161.3h0M371.3 162.9h0M370.5 163.8h0M371.0 165.0h0M370.5 166.1h0M370.5 166.9h0M370.8 171.4h0M371.7 158.0h0M372.5 158.7h0M371.8 160.7h0M372.5 161.2h0M371.7 162.6h0M371.7 163.5h0M372.4 164.6h0M372.0 166.3h0M371.8 168.3h0M372.1 169.6h0M373.5 158.0h0M373.5 159.3h0M372.8 160.0h0M373.0 161.6h0M373.5 162.2h0M373.0 163.8h0M373.5 164.9h0M373.3 165.8h0M373.6 166.9h0M373.4 168.2h0M374.4 158.0h0M374.3 159.3h0M374.7 160.2h0M374.8 161.6h0M374.8 162.5h0M374.5 163.4h0M374.4 165.1h0M374.5 166.3h0M374.6 167.2h0M374.6 168.6h0M374.4 172.1h0M375.3 158.0h0M375.3 158.9h0M375.4 160.8h0M376.0 161.7h0M375.6 162.4h0M375.2 164.1h0M375.1 164.8h0M376.0 166.4h0M375.7 166.9h0M375.6 168.8h0M375.8 169.5h0M375.8 173.3h0M376.6 158.0h0M376.4 159.5h0M377.0 160.6h0M376.4 161.3h0M376.6 162.6h0M376.3 163.7h0M376.7 165.3h0M376.8 166.3h0M376.7 166.8h0M376.5 168.5h0M376.6 169.2h0M376.4 170.4h0M376.7 172.2h0M376.6 175.4h0M377.7 158.0h0M377.9 159.3h0M378.0 160.3h0M378.1 161.7h0M377.7 162.6h0M377.8 164.1h0M377.6 165.0h0M377.5 166.2h0M377.8 167.5h0M378.3 168.7h0M377.9 169.9h0M377.4 179.6h0M378.7 158.0h0M378.6 159.5h0M378.6 160.3h0M379.2 161.4h0M379.0 162.2h0M379.2 163.8h0M379.4 165.0h0M378.8 166.1h0M379.2 167.3h0M378.6 168.1h0M378.6 169.9h0M379.4 171.0h0M379.9 158.0h0M379.8 158.8h0M380.1 160.4h0M380.2 161.5h0M380.0 162.4h0M380.0 164.0h0M380.1 165.4h0M380.1 165.8h0M380.3 167.2h0M380.3 168.7h0M379.9 169.6h0M380.0 170.7h0M380.5 172.7h0M381.6 158.0h0M380.9 159.1h0M381.0 160.4h0M381.4 161.4h0M381.7 162.6h0M381.2 163.5h0M381.0 165.3h0M380.9 166.5h0M381.2 167.3h0M381.0 168.5h0M381.0 169.6h0M381.7 170.9h0M381.0 172.0h0M381.7 173.2h0M381.7 175.5h0M381.6 176.2h0M382.9 158.0h0M382.2 159.1h0M382.2 160.1h0M382.1 161.6h0M382.0 162.7h0M382.1 164.1h0M382.4 164.7h0M382.9 165.8h0M382.7 167.2h0M382.9 168.4h0M382.7 169.3h0M382.3 170.5h0M383.8 158.0h0M383.8 159.3h0M383.2 159.9h0M383.3 161.2h0M383.9 162.8h0M383.3 163.9h0M383.7 165.1h0M383.9 165.7h0M383.6 167.5h0M383.6 168.5h0M383.3 169.2h0M383.4 170.3h0M383.6 172.8h0M383.3 176.4h0M384.4 158.0h0M384.3 159.3h0M385.0 160.1h0M384.8 161.6h0M384.5 162.2h0M384.5 164.1h0M384.6 165.2h0M384.5 166.1h0M384.4 167.1h0M385.1 168.2h0M384.4 169.3h0M384.9 172.2h0M384.5 172.7h0M384.9 177.9h0M386.2 158.0h0M386.3 159.5h0M386.3 160.1h0M385.7 161.4h0M385.8 163.0h0M386.2 163.9h0M385.5 164.5h0M386.2 166.3h0M385.7 167.2h0M385.7 168.2h0M385.7 169.8h0M386.3 173.3h0M386.8 158.0h0M386.9 159.2h0M387.3 160.4h0M386.6 161.4h0M386.7 163.0h0M387.1 163.4h0M387.2 165.1h0M386.8 166.5h0M387.4 166.9h0M386.9 168.7h0M386.9 169.5h0M387.2 171.8h0M386.8 173.0h0M387.0 175.5h0M388.6 158.0h0M388.5 159.4h0M388.5 160.7h0M387.8 161.1h0M388.1 162.6h0M387.8 164.0h0M388.1 165.0h0M388.5 165.8h0M387.9 166.9h0M388.1 168.8h0M388.4 169.6h0M387.9 182.0h0M389.2 158.0h0M389.1 159.1h0M389.7 160.4h0M389.2 161.3h0M389.3 162.3h0M389.0 163.7h0M389.3 164.8h0M389.5 166.1h0M389.2 167.3h0M389.0 168.7h0M389.5 169.5h0M389.7 171.9h0M389.6 173.7h0M390.6 158.0h0M390.9 159.4h0M390.3 160.5h0M390.9 161.8h0M390.5 162.2h0M390.5 163.3h0M390.5 164.9h0M390.1 166.4h0M390.5 167.0h0M390.8 168.5h0M390.4 169.3h0M390.6 170.4h0M390.6 173.8h0M392.0 158.0h0M391.8 158.9h0M391.6 160.1h0M391.6 161.1h0M391.8 162.3h0M391.4 163.7h0M391.5 164.8h0M391.6 166.0h0M391.8 167.4h0M391.9 168.6h0M391.3 169.9h0M391.3 170.5h0M391.2 173.1h0M393.1 158.0h0M393.1 159.4h0M393.2 160.7h0M392.5 161.9h0M392.7 162.2h0M392.9 163.7h0M393.2 165.0h0M392.7 166.0h0M392.4 167.1h0M393.0 167.9h0M392.7 169.4h0M393.2 179.1h0M394.0 158.0h0M394.4 158.7h0M393.8 159.9h0M393.6 161.5h0M393.8 163.0h0M393.8 164.0h0M394.1 164.6h0M393.6 165.7h0M394.2 167.6h0M393.8 168.0h0M393.7 169.9h0M394.1 171.8h0M394.7 158.0h0M394.9 158.8h0M395.2 160.3h0M395.2 161.3h0M395.1 162.3h0M394.8 163.9h0M395.1 165.3h0M394.7 166.3h0M395.1 167.4h0M394.8 168.3h0M395.5 169.6h0M395.4 171.0h0M395.0 175.5h0M396.5 158.0h0M396.6 158.9h0M395.8 159.9h0M395.8 161.1h0M396.2 162.2h0M396.3 163.6h0M395.9 164.8h0M395.9 165.8h0M396.2 166.9h0M396.2 168.3h0M396.7 169.4h0M396.4 171.0h0M395.8 174.5h0M397.3 158.0h0M397.4 159.4h0M397.4 160.1h0M397.5 161.3h0M397.7 162.6h0M397.6 163.6h0M397.8 165.0h0M397.8 166.4h0M397.2 167.5h0M397.2 168.2h0M398.8 158.0h0M398.3 158.9h0M398.7 159.9h0M398.7 161.3h0M398.7 163.0h0M398.9 163.7h0M398.6 165.3h0M398.6 166.5h0M399.0 167.0h0M398.9 168.2h0M398.3 170.5h0M400.1 158.0h0M399.6 158.7h0M400.1 160.3h0M399.7 161.2h0M400.1 163.0h0M399.9 164.2h0M399.9 165.0h0M399.9 166.0h0M399.7 167.5h0M399.3 172.1h0M400.5 158.0h0M400.4 159.1h0M401.0 159.9h0M401.0 161.7h0M401.0 162.5h0M400.8 163.4h0M400.6 164.8h0M400.9 166.5h0M400.7 167.3h0M400.7 168.0h0M401.1 169.5h0M401.2 171.0h0M400.4 174.6h0M401.7 158.0h0M402.1 159.3h0M402.3 160.7h0M402.3 161.3h0M401.6 163.0h0M402.4 163.9h0M402.2 165.3h0M402.1 165.8h0M402.3 167.2h0M401.6 168.8h0M401.8 169.4h0M403.2 158.0h0M402.9 158.8h0M403.0 159.9h0M403.4 161.5h0M403.0 162.9h0M402.8 163.4h0M403.3 165.1h0M403.4 166.2h0M402.7 167.6h0M403.5 168.8h0M402.8 169.1h0M404.0 158.0h0M404.1 159.4h0M404.6 159.9h0M404.1 161.2h0M404.4 163.0h0M403.9 164.1h0M404.5 164.7h0M404.6 166.1h0M403.9 167.1h0M404.3 168.6h0M404.4 169.2h0M404.0 170.9h0M404.6 171.5h0M404.1 173.7h0M404.3 174.9h0M405.6 158.0h0M405.2 158.9h0M405.8 160.6h0M405.6 161.8h0M405.5 162.3h0M405.3 163.8h0M405.7 164.5h0M405.4 165.9h0M405.7 167.1h0M405.9 168.4h0M405.0 169.1h0M405.6 171.1h0M405.0 173.4h0M406.5 158.0h0M406.4 159.2h0M406.3 160.3h0M407.0 161.1h0M406.5 162.9h0M406.4 163.6h0M406.8 164.7h0M406.4 165.9h0M407.0 166.8h0M406.8 168.1h0M407.0 169.2h0M406.3 171.0h0M406.4 174.4h0M407.5 158.0h0M407.3 158.7h0M408.0 160.4h0M408.0 161.5h0M407.4 162.3h0M408.1 163.6h0M407.3 164.9h0M407.6 165.7h0M408.0 167.0h0M407.8 168.2h0M407.6 169.2h0M407.3 170.4h0M407.5 172.6h0M407.4 173.8h0M408.6 158.0h0M408.8 158.9h0M408.5 159.9h0M409.2 161.3h0M409.0 162.6h0M409.0 163.9h0M408.6 164.8h0M408.8 166.3h0M408.6 167.5h0M408.6 168.4h0M408.7 169.7h0M408.7 170.2h0M409.0 173.4h0M410.1 158.0h0M410.4 158.7h0M410.2 160.3h0M410.1 161.8h0M409.7 162.5h0M409.7 163.8h0M410.3 165.1h0M410.2 166.4h0M409.6 167.2h0M409.7 168.4h0M410.4 169.3h0M409.7 170.3h0M409.6 174.5h0M410.1 177.4h0M410.1 178.8h0M410.0 182.6h0M411.1 158.0h0M411.4 158.8h0M410.9 160.6h0M411.4 161.4h0M411.6 162.3h0M411.1 163.6h0M411.4 164.5h0M411.0 166.5h0M411.3 167.3h0M411.1 167.9h0M411.2 169.6h0M411.3 170.6h0M411.1 171.7h0M412.7 158.0h0M412.3 158.8h0M412.6 160.0h0M411.9 161.8h0M412.2 162.4h0M412.7 163.6h0M412.2 165.0h0M412.0 166.0h0M412.5 167.6h0M412.3 168.3h0M412.7 169.4h0M412.5 170.5h0M412.0 172.6h0M412.5 178.3h0M413.2 158.0h0M413.9 158.9h0M413.6 160.0h0M413.9 161.1h0M413.2 163.0h0M413.4 163.9h0M413.9 164.7h0M413.8 165.8h0M413.3 167.1h0M413.4 168.1h0M413.7 169.3h0M413.1 170.8h0M413.4 172.1h0M413.3 173.2h0M413.6 177.3h0M414.7 158.0h0M415.0 159.4h0M415.0 160.6h0M415.1 161.4h0M414.9 162.9h0M414.6 164.0h0M414.3 165.2h0M414.8 165.6h0M415.1 166.8h0M415.1 168.4h0M414.4 169.5h0M414.6 170.4h0M416.1 158.0h0M415.6 159.5h0M415.5 160.0h0M416.2 161.2h0M415.5 162.4h0M415.9 164.2h0M415.6 164.6h0M415.5 165.6h0M415.6 167.3h0M415.9 168.7h0M415.7 169.7h0M415.9 170.4h0M415.4 172.1h0M416.2 174.5h0M415.9 176.4h0M416.8 158.0h0M416.9 159.4h0M416.7 160.4h0M416.8 161.3h0M417.3 162.3h0M416.5 163.9h0M416.6 164.8h0M416.7 166.5h0M416.9 167.3h0M416.8 168.7h0M417.4 169.4h0M417.1 170.6h0M416.6 171.7h0M416.7 176.9h0M418.0 158.0h0M418.5 159.0h0M418.0 160.2h0M418.0 161.4h0M418.4 162.6h0M417.8 163.4h0M417.9 164.8h0M418.1 166.2h0M417.8 167.0h0M418.2 168.3h0M417.8 169.5h0M418.3 171.6h0M419.5 158.0h0M419.1 159.4h0M419.6 160.5h0M419.4 161.9h0M419.6 162.7h0M419.1 163.8h0M419.1 164.9h0M419.4 165.9h0M419.3 167.0h0M419.3 168.6h0M419.0 169.1h0M419.1 170.6h0M419.6 171.4h0M420.6 158.0h0M420.6 159.5h0M420.4 160.3h0M420.6 161.7h0M420.1 163.1h0M420.2 163.4h0M420.1 164.9h0M420.8 165.7h0M420.6 166.9h0M420.1 168.1h0M420.5 169.4h0M420.3 170.3h0M420.4 171.7h0M420.1 176.3h0M421.2 158.0h0M421.3 159.3h0M421.2 160.3h0M422.0 161.2h0M421.5 162.9h0M421.5 163.7h0M421.4 164.7h0M421.7 166.1h0M421.2 167.4h0M421.4 168.4h0M421.7 169.2h0M422.0 170.5h0M422.0 171.6h0M422.5 158.0h0M422.4 159.2h0M422.6 160.4h0M422.4 161.2h0M423.0 162.5h0M422.8 164.2h0M423.0 165.2h0M422.3 166.0h0M423.1 167.0h0M422.3 168.1h0M423.0 169.3h0M422.7 170.2h0M422.4 171.6h0M422.5 172.9h0M422.8 173.7h0M422.5 180.1h0M423.6 158.0h0M423.6 158.8h0M423.5 160.1h0M423.8 161.1h0M423.8 163.0h0M424.3 163.7h0M423.5 165.2h0M424.1 166.2h0M423.4 167.5h0M423.8 168.8h0M423.8 169.2h0M423.6 170.8h0M424.2 172.1h0M423.4 173.1h0M423.8 173.8h0M424.1 175.3h0M423.7 178.4h0M423.7 181.9h0M424.8 158.0h0M424.9 159.1h0M424.8 160.1h0M425.3 161.5h0M424.6 162.4h0M424.8 164.1h0M425.4 164.6h0M424.6 166.2h0M425.2 167.5h0M425.0 168.8h0M425.0 169.6h0M425.1 171.0h0M425.3 172.2h0M424.6 173.1h0M424.9 174.4h0M425.1 180.1h0M425.8 158.0h0M426.4 158.9h0M426.6 160.0h0M425.9 161.5h0M426.3 162.9h0M425.8 163.5h0M426.0 164.7h0M425.8 166.4h0M426.0 167.2h0M426.1 168.1h0M426.0 169.2h0M426.0 170.6h0M425.9 171.5h0M426.5 172.7h0M426.2 175.1h0M425.8 177.7h0M427.0 158.0h0M427.1 159.5h0M427.7 160.2h0M427.2 161.8h0M427.7 162.2h0M427.7 163.6h0M427.0 165.2h0M427.7 165.9h0M427.2 166.8h0M426.9 168.3h0M427.4 169.2h0M427.7 171.6h0M427.0 174.3h0M428.4 158.0h0M428.0 158.8h0M428.5 160.6h0M428.5 161.5h0M428.7 162.5h0M428.9 163.8h0M428.5 164.6h0M428.1 166.3h0M428.9 167.2h0M429.7 158.0h0M429.6 159.3h0M429.9 160.7h0M430.0 161.1h0M429.7 162.5h0M429.7 163.5h0M430.0 164.9h0M429.2 166.0h0M429.5 167.1h0M429.6 168.2h0M429.8 172.8h0M430.0 177.6h0M431.0 158.0h0M430.5 158.8h0M430.4 159.9h0M430.6 161.5h0M430.5 162.6h0M430.7 163.6h0M430.6 165.3h0M431.1 165.8h0M430.7 167.4h0M430.8 168.5h0M431.1 169.3h0M430.6 170.8h0M430.3 173.0h0M430.8 176.0h0M432.3 158.0h0M431.7 158.8h0M431.6 160.5h0M431.5 161.6h0M431.5 162.3h0M432.3 163.6h0M432.1 164.9h0M431.9 165.7h0M431.9 167.5h0M431.6 168.7h0M431.8 169.8h0M431.7 170.5h0M431.9 173.9h0M433.3 158.0h0M433.2 159.5h0M432.9 160.4h0M433.0 161.0h0M433.1 162.5h0M432.7 163.6h0M433.0 164.6h0M433.5 166.1h0M433.4 167.1h0M432.9 168.6h0M433.3 169.5h0M433.0 170.9h0M433.3 171.5h0M434.3 158.0h0M434.1 159.5h0M434.4 160.0h0M434.6 161.3h0M433.9 162.9h0M434.1 163.6h0M434.3 165.3h0M434.1 165.7h0M434.4 167.5h0M434.1 168.6h0M434.4 169.9h0M434.4 170.7h0M434.2 172.7h0M435.3 158.0h0M435.3 159.0h0M435.4 160.0h0M435.2 161.3h0M435.2 162.2h0M435.0 164.1h0M435.6 165.3h0M435.1 165.9h0M435.1 166.8h0M436.1 158.0h0M436.9 158.9h0M436.3 159.9h0M436.6 161.7h0M436.9 162.6h0M436.3 163.7h0M436.5 165.3h0M436.2 165.8h0M436.1 167.0h0M437.7 158.0h0M437.4 158.9h0M437.9 160.4h0M438.1 161.8h0M437.3 162.3h0M437.9 164.0h0M437.5 165.2h0M437.7 165.7h0M437.8 167.4h0M437.4 167.9h0M437.4 170.2h0M438.7 158.0h0M438.5 159.1h0M438.6 160.2h0M438.5 161.2h0M438.5 162.4h0M438.9 163.4h0M438.6 164.9h0M438.5 165.7h0M439.0 166.9h0M439.1 168.5h0M438.7 169.9h0M439.5 158.0h0M439.8 159.0h0M439.6 160.2h0M439.9 161.7h0M439.5 162.9h0M439.9 163.8h0M440.4 165.2h0M440.1 166.2h0M439.9 167.4h0M439.6 168.7h0M439.7 169.9h0M439.9 170.4h0M440.8 158.0h0M440.9 159.3h0M441.2 160.7h0M441.4 161.8h0M441.3 163.0h0M440.9 163.5h0M441.0 164.6h0M441.3 166.2h0M441.1 167.4h0M441.2 168.4h0M441.2 169.5h0M441.1 170.4h0M441.5 172.1h0M441.1 173.3h0M442.4 158.0h0M442.5 159.6h0M441.9 159.9h0M442.2 161.5h0M442.5 163.0h0M442.1 163.5h0M441.9 164.5h0M441.8 166.5h0M442.1 167.4h0M441.9 168.2h0M442.4 169.4h0M442.6 170.5h0M442.0 177.5h0M443.0 158.0h0M443.0 159.4h0M443.5 160.5h0M443.5 161.8h0M443.6 162.6h0M443.6 163.7h0M443.8 164.8h0M443.6 165.9h0M443.8 167.4h0M443.4 168.8h0M443.3 169.2h0M443.6 171.0h0M443.0 172.1h0M443.7 173.2h0M443.0 175.3h0M443.4 181.8h0M444.5 158.0h0M444.9 159.3h0M444.9 160.2h0M444.2 161.6h0M444.8 162.4h0M444.7 164.2h0M444.2 164.9h0M444.5 166.4h0M444.4 167.2h0M444.8 168.7h0M444.4 169.6h0M444.4 170.5h0M444.7 171.6h0M444.6 173.3h0M444.3 174.4h0M444.4 175.1h0M444.1 176.0h0M445.3 158.0h0M445.9 159.5h0M445.5 160.6h0M445.5 161.6h0M445.8 162.8h0M445.4 164.1h0M445.5 165.1h0M446.0 166.1h0M446.0 167.4h0M445.3 168.0h0M445.3 169.8h0M445.9 170.6h0M446.1 171.6h0M445.8 173.1h0M445.7 174.5h0M445.8 175.4h0M445.5 185.3h0M446.4 158.0h0M447.2 159.4h0M446.7 160.2h0M447.0 161.5h0M447.2 162.9h0M447.2 163.7h0M446.8 164.6h0M446.6 165.9h0M446.8 167.3h0M446.7 168.0h0M446.5 169.3h0M446.9 170.7h0M447.0 172.2h0M447.3 173.1h0M446.9 174.5h0M446.5 178.4h0M446.9 184.5h0M447.2 186.3h0M447.6 158.0h0M447.7 159.0h0M447.7 160.6h0M448.4 161.3h0M448.3 162.2h0M448.4 163.6h0M448.2 164.6h0M448.1 165.7h0M448.1 167.2h0M447.9 168.1h0M448.1 169.8h0M447.7 170.8h0M448.4 171.9h0M447.7 172.9h0M448.3 174.9h0M448.3 179.4h0M447.7 181.9h0M449.1 158.0h0M449.1 158.9h0M449.3 160.6h0M449.3 161.2h0M448.9 162.6h0M449.1 163.7h0M449.4 165.3h0M449.0 166.4h0M448.7 167.4h0M449.4 168.4h0M449.1 169.3h0M449.5 170.4h0M449.1 171.9h0M449.6 174.5h0M449.4 177.7h0M450.1 158.0h0M450.6 159.3h0M450.4 160.4h0M450.2 161.3h0M450.2 162.7h0M450.7 163.9h0M450.4 165.4h0M450.5 165.8h0M450.3 167.1h0M450.2 168.6h0M450.1 169.3h0M450.1 170.7h0M450.3 171.8h0M450.0 172.5h0M450.4 176.4h0M451.0 158.0h0M451.5 159.2h0M451.8 159.9h0M451.8 161.2h0M451.5 162.3h0M451.0 163.6h0M451.5 164.5h0M451.1 166.4h0M451.5 167.0h0M451.6 168.5h0M451.1 169.8h0M451.1 171.9h0M451.4 172.8h0M451.7 174.2h0M451.6 175.4h0M451.5 181.2h0M453.0 158.0h0M452.8 159.1h0M452.2 160.1h0M452.4 161.2h0M452.6 162.3h0M452.2 163.5h0M452.3 165.2h0M452.9 165.7h0M452.6 167.4h0M452.3 167.9h0M452.9 169.9h0M452.4 171.8h0M452.3 175.5h0M453.9 158.0h0M453.3 159.6h0M453.8 160.7h0M453.9 161.7h0M454.1 162.4h0M454.0 164.0h0M454.0 165.0h0M453.4 166.3h0M453.5 167.0h0M453.7 168.0h0M454.1 169.2h0M454.1 170.9h0M453.4 173.2h0M454.2 174.9h0M454.5 158.0h0M454.7 159.4h0M455.0 160.7h0M455.2 161.4h0M455.1 162.3h0M454.9 163.8h0M454.6 164.7h0M454.9 165.6h0M455.1 166.8h0M455.0 168.4h0M454.6 171.6h0M455.9 158.0h0M455.9 159.6h0M456.1 160.0h0M456.0 161.5h0M455.9 162.8h0M456.4 163.5h0M456.0 164.9h0M456.4 166.4h0M455.8 167.6h0M455.6 168.3h0M455.7 169.6h0M456.1 175.6h0M457.4 158.0h0M457.3 159.4h0M457.1 160.3h0M457.0 161.5h0M457.3 162.8h0M457.4 164.2h0M457.4 164.6h0M457.6 166.4h0M456.9 167.2h0M457.4 168.7h0M457.4 169.5h0M457.5 171.0h0M456.9 171.4h0M457.5 173.4h0M456.8 174.1h0M457.9 158.0h0M458.6 158.7h0M458.2 160.1h0M458.1 161.1h0M458.6 162.9h0M458.4 164.0h0M458.0 164.7h0M458.6 165.9h0M458.6 167.0h0M458.4 168.2h0M458.1 169.6h0M458.0 171.5h0M457.9 173.4h0M459.9 158.0h0M459.8 158.9h0M459.8 160.6h0M459.6 161.1h0M459.1 162.8h0M459.3 163.5h0M459.3 165.1h0M459.7 165.6h0M459.7 167.2h0M459.7 168.7h0M459.3 169.9h0M460.8 158.0h0M460.5 159.5h0M460.6 160.1h0M460.6 161.1h0M460.3 163.0h0M460.9 163.3h0M460.2 164.6h0M460.8 165.6h0M460.3 167.1h0M461.0 168.6h0M460.3 173.9h0M461.7 158.0h0M461.9 159.4h0M462.0 160.7h0M461.5 161.3h0M461.9 162.3h0M461.4 163.7h0M462.0 165.1h0M461.4 166.4h0M461.7 166.9h0M461.5 168.6h0M462.6 158.0h0M463.0 159.2h0M463.4 160.0h0M462.8 161.3h0M463.3 162.5h0M463.1 163.3h0M462.8 164.9h0M463.3 166.2h0M463.2 166.9h0M464.2 158.0h0M464.1 158.7h0M464.3 160.4h0M464.4 161.3h0M464.5 162.2h0M464.2 163.7h0M464.2 164.6h0M464.2 166.4h0M465.4 158.0h0M465.4 159.3h0M465.6 160.7h0M465.2 161.8h0M465.6 162.6h0M465.3 163.8h0M465.3 164.8h0M466.4 158.0h0M466.1 158.7h0M466.1 160.6h0M466.8 161.1h0M466.8 162.5h0M466.8 164.0h0M466.0 169.8h0M467.1 158.0h0M467.7 158.9h0M467.9 160.7h0M467.5 161.5h0M467.6 162.6h0M468.0 164.0h0M467.9 164.8h0M467.6 169.9h0M468.8 158.0h0M469.0 159.1h0M468.3 160.1h0M468.7 161.6h0M468.4 162.9h0M468.9 164.1h0M468.5 165.3h0M469.1 166.0h0M469.7 158.0h0M469.7 159.1h0M470.2 160.2h0M470.3 161.2h0M470.1 162.6h0M469.4 163.4h0M469.8 164.7h0M469.6 165.9h0M469.6 169.4h0M470.1 170.9h0M471.3 158.0h0M471.3 159.4h0M471.2 160.6h0M470.9 161.4h0M470.8 162.7h0M471.2 163.8h0M470.6 165.0h0M471.2 166.1h0M471.0 168.6h0M472.4 158.0h0M472.6 158.8h0M472.6 160.4h0M472.3 161.6h0M471.9 162.4h0M471.8 163.4h0M472.2 164.5h0M472.1 166.4h0M471.8 167.3h0M472.5 168.1h0M473.5 158.0h0M473.2 159.4h0M472.9 160.7h0M473.3 161.6h0M473.5 162.2h0M473.6 163.8h0M473.7 165.1h0M473.4 166.2h0M473.3 167.6h0M473.3 168.5h0M472.9 170.5h0M474.2 158.0h0M474.8 159.4h0M474.4 159.9h0M474.9 161.2h0M474.8 162.8h0M474.6 163.3h0M474.7 164.5h0M475.5 158.0h0M475.8 159.5h0M475.5 160.3h0M475.7 161.5h0M475.5 162.4h0M475.8 163.9h0M477.1 158.0h0M477.0 159.2h0M476.5 160.2h0M476.9 161.7h0M476.4 162.9h0M477.9 158.0h0M478.0 158.8h0M478.0 160.2h0M478.1 161.3h0M477.8 162.6h0M479.5 158.0h0M478.7 159.0h0M479.0 160.5h0M479.2 161.4h0M479.4 162.6h0M479.2 165.8h0M480.5 158.0h0M480.3 159.3h0M480.0 160.3h0M480.4 161.2h0M481.4 158.0h0M481.2 159.2h0M481.0 160.2h0M481.2 161.0h0M482.4 158.0h0M482.4 159.3h0M482.6 160.5h0M482.6 161.5h0M482.7 162.5h0M483.7 158.0h0M483.3 159.6h0M483.6 160.7h0M485.2 158.0h0M485.0 159.2h0M484.4 160.3h0M484.5 161.2h0M485.8 158.0h0M485.7 159.0h0M485.7 160.7h0M485.8 161.8h0M487.2 158.0h0M487.3 159.6h0M487.5 160.8h0M488.1 158.0h0M488.0 158.9h0M488.1 160.0h0M488.3 163.4h0M489.5 158.0h0M489.6 159.2h0M489.3 160.0h0M489.3 161.8h0M489.1 162.5h0M490.5 158.0h0M490.7 158.9h0M490.8 159.9h0M490.5 161.2h0M490.5 162.5h0M491.6 158.0h0M491.3 159.0h0M491.4 160.4h0M493.3 158.0h0M492.6 159.2h0M494.4 158.0h0M495.1 158.0h0M496.3 158.0h0M497.4 158.0h0M498.6 158.0h0M499.7 158.0h0M500.9 158.0h0M502.0 158.0h0M316.4 158.0h0M321.8 158.0h0M322.9 163.4h0M322.9 176.7h0M332.7 158.0h0M334.9 160.8h0M338.2 163.4h0M342.5 165.8h0M337.7 182.2h0M350.2 168.5h0M356.3 170.6h0M362.2 173.9h0M367.2 178.9h0M360.7 183.1h0M357.8 189.6h0M359.6 197.7h0M346.9 250.3h0M348.4 248.8h0M360.7 249.8h0M373.8 185.9h0M379.6 185.9h0M381.8 183.7h0M384.7 188.5h0M384.0 200.1h0M384.7 206.6h0M391.2 236.8h0M393.8 193.5h0M401.5 197.9h0M402.1 215.8h0M408.0 190.7h0M409.1 195.7h0M408.0 202.3h0M412.8 188.5h0M416.7 197.9h0M412.4 224.1h0M396.0 175.0h0M395.6 181.5h0M399.9 184.8h0M406.9 182.6h0M402.6 178.3h0M373.1 178.3h0M375.3 176.1h0M386.2 179.4h0M389.5 177.2h0M413.5 179.4h0M417.8 183.7h0M531.3 158.0h0M501.4 168.0h0M499.6 177.8h0M495.3 166.3h0M489.8 175.0h0M490.9 181.5h0M492.7 199.4h0M483.9 198.3h0M482.2 177.2h0M478.9 180.5h0M475.6 179.4h0M472.4 180.5h0M474.5 188.1h0M474.5 192.5h0M465.8 190.3h0M465.4 195.7h0M463.2 201.2h0M458.2 203.4h0M454.5 200.7h0M456.0 194.6h0M450.5 195.3h0M447.9 195.3h0M445.7 203.4h0M439.6 203.4h0M437.9 206.6h0M434.8 208.8h0M433.7 213.2h0M436.4 214.3h0M434.2 219.7h0M434.8 223.0h0M436.4 224.8h0M439.6 220.8h0M443.6 225.2h0M453.8 209.9h0M455.3 213.2h0M456.0 215.4h0M452.7 219.1h0M454.5 223.0h0M454.9 226.3h0M456.7 223.4h0M461.5 221.9h0M463.6 221.3h0M465.8 211.0h0M470.6 209.3h0M479.3 215.8h0M429.2 199.0h0M447.7 245.9h0M465.8 254.0h0M434.2 187.0h0M435.3 193.5h0M439.6 188.1h0M441.8 185.9h0M448.4 190.3h0M452.7 189.2h0M457.1 189.2h0M446.2 182.6h0M452.7 183.7h0M459.3 183.7h0M463.6 177.2h0M466.9 175.0h0M471.3 172.8h0M476.7 167.4h0M483.3 167.4h0M422.2 183.7h0M426.5 179.4h0M485.5 171.7h0M487.6 164.1h0M434.2 181.5h0M436.4 183.7h0M438.5 180.5h0M440.7 183.7h0M442.9 181.5h0M444.0 187.0h0M446.2 185.9h0M449.5 183.7h0M450.5 187.0h0M451.6 180.5h0M453.8 185.9h0M454.9 181.5h0M457.1 184.8h0M458.2 180.5h0M460.4 187.0h0M461.5 181.5h0M445.1 191.4h0M449.5 192.5h0M452.7 193.5h0M456.0 191.4h0M437.5 190.3h0M440.7 192.5h0" stroke="#1f77b4" stroke-width="3.9" stroke-linecap="round" fill="none"/>
<path d="M328.80 258.96v3.2M360.55 258.96v3.2M392.30 258.96v3.2M424.05 258.96v3.2M455.80 258.96v3.2M487.55 258.96v3.2M519.30 258.96v3.2M305.70 158.01h-3.2M305.70 189.66h-3.2M305.70 221.31h-3.2M305.70 252.96h-3.2" stroke="#111" stroke-width="1.0" fill="none"/>
<rect x="305.7" y="153.16" width="236.30" height="105.8" fill="none" stroke="#262626" stroke-width="1.0"/>
<text x="328.80" y="273.08" text-anchor="middle">10</text>
<text x="360.55" y="273.08" text-anchor="middle">20</text>
<text x="392.30" y="273.08" text-anchor="middle">30</text>
<text x="424.05" y="273.08" text-anchor="middle">40</text>
<text x="455.80" y="273.08" text-anchor="middle">50</text>
<text x="487.55" y="273.08" text-anchor="middle">60</text>
<text x="519.30" y="273.08" text-anchor="middle">70</text>
<text x="423.85" y="286.46" text-anchor="middle">Min humidity</text>
<rect x="491.55" y="237.16" width="45.85" height="17.0" rx="1.6" fill="#fff" fill-opacity="0.8" stroke="#d0d0d0" stroke-width="0.8"/>
<text x="494.65" y="248.76" font-size="9.5"><tspan font-style="italic">r</tspan> = 0.01</text>
</g>
<g>
<path d="M83.7 304.2h0M84.7 304.2h0M85.9 304.2h0M86.6 304.2h0M87.0 304.9h0M87.7 304.2h0M88.0 305.3h0M88.8 304.2h0M89.5 305.4h0M90.0 304.2h0M90.3 304.9h0M91.8 304.2h0M91.9 305.0h0M91.2 306.3h0M92.5 304.2h0M92.6 305.3h0M93.0 306.4h0M93.9 304.2h0M93.7 305.4h0M93.8 306.3h0M94.6 304.2h0M94.7 305.3h0M95.2 306.1h0M94.8 308.0h0M94.7 308.8h0M94.6 311.0h0M96.2 304.2h0M96.4 305.1h0M96.2 306.9h0M96.3 307.7h0M95.7 308.5h0M96.4 310.3h0M95.7 311.0h0M96.3 313.2h0M96.9 304.2h0M97.1 305.2h0M97.5 306.1h0M97.4 307.8h0M96.8 308.9h0M97.0 310.0h0M97.0 311.5h0M97.2 313.0h0M97.5 316.9h0M98.8 304.2h0M98.5 305.5h0M98.0 306.3h0M98.4 307.7h0M98.1 309.2h0M98.5 309.6h0M98.0 311.1h0M99.5 304.2h0M99.3 305.5h0M99.7 306.5h0M99.9 307.8h0M99.2 308.4h0M100.0 310.3h0M99.4 311.3h0M99.7 312.5h0M99.5 313.1h0M99.7 316.8h0M99.8 322.5h0M100.4 304.2h0M100.3 305.4h0M100.8 306.5h0M101.0 307.8h0M100.3 308.9h0M100.5 309.5h0M100.7 311.1h0M101.0 311.8h0M101.6 304.2h0M101.4 305.5h0M102.2 306.7h0M102.2 307.7h0M102.1 308.9h0M101.9 310.1h0M102.0 310.9h0M102.1 311.8h0M101.8 314.3h0M103.0 304.2h0M103.0 305.7h0M103.4 306.6h0M102.6 307.3h0M102.9 308.6h0M103.4 310.3h0M103.2 311.4h0M102.6 312.3h0M102.7 314.3h0M103.1 319.9h0M103.8 304.2h0M103.7 305.4h0M104.5 306.6h0M104.1 307.8h0M104.1 308.9h0M103.9 309.8h0M104.2 311.1h0M103.9 312.1h0M103.7 313.7h0M105.5 304.2h0M105.2 305.6h0M105.6 306.6h0M105.4 307.3h0M105.3 308.7h0M105.4 309.7h0M105.3 310.7h0M105.7 312.3h0M105.3 314.9h0M106.6 304.2h0M106.5 305.3h0M106.5 306.0h0M106.6 307.3h0M106.7 309.0h0M106.6 309.5h0M106.7 311.5h0M106.9 311.9h0M106.2 315.8h0M107.3 304.2h0M107.4 305.1h0M107.5 306.1h0M107.6 307.7h0M107.4 308.5h0M107.4 309.9h0M108.0 311.4h0M108.0 312.4h0M108.5 304.2h0M109.1 305.8h0M108.8 306.8h0M108.3 308.0h0M108.8 308.6h0M108.7 310.3h0M108.4 313.0h0M109.5 304.2h0M109.5 305.3h0M109.8 306.9h0M109.7 307.6h0M109.8 308.4h0M109.7 310.0h0M109.6 311.4h0M110.6 304.2h0M111.4 305.3h0M110.9 306.2h0M110.7 307.2h0M111.3 309.1h0M111.9 304.2h0M112.2 305.4h0M112.0 306.1h0M112.6 307.9h0M112.4 308.6h0M113.3 304.2h0M113.7 305.1h0M113.3 306.8h0M113.2 308.0h0M113.1 308.3h0M113.7 310.1h0M113.5 310.6h0M113.5 312.1h0M113.3 313.4h0M114.9 304.2h0M114.3 305.0h0M114.9 306.0h0M114.8 307.2h0M114.6 308.4h0M114.7 309.5h0M114.6 311.3h0M114.5 312.7h0M115.3 304.2h0M116.0 305.5h0M115.5 306.4h0M115.7 307.5h0M116.1 308.4h0M115.4 309.9h0M115.4 311.5h0M115.2 311.9h0M115.5 314.6h0M116.8 304.2h0M116.6 304.9h0M116.7 306.4h0M117.1 307.3h0M116.7 309.0h0M116.5 309.7h0M116.4 311.3h0M117.1 313.5h0M118.1 304.2h0M117.7 305.5h0M117.9 306.3h0M117.6 307.9h0M117.9 309.1h0M117.8 309.9h0M118.7 304.2h0M118.8 305.4h0M119.5 306.3h0M119.2 307.2h0M118.7 308.5h0M119.1 310.3h0M120.2 304.2h0M120.6 305.4h0M120.5 306.2h0M120.4 307.7h0M120.3 308.4h0M120.0 312.7h0M121.5 304.2h0M121.3 305.2h0M121.5 306.5h0M121.1 307.3h0M121.3 308.6h0M121.2 309.7h0M121.5 311.0h0M121.3 312.6h0M122.7 304.2h0M122.5 305.1h0M122.8 306.8h0M122.4 307.6h0M122.9 308.9h0M123.3 304.2h0M123.4 305.6h0M123.4 306.3h0M124.0 307.4h0M124.0 309.2h0M123.9 309.8h0M123.9 310.7h0M124.4 304.2h0M124.6 305.5h0M124.7 306.6h0M125.1 307.5h0M124.9 309.1h0M124.6 310.2h0M124.6 310.9h0M126.3 304.2h0M126.4 305.6h0M126.3 306.5h0M125.6 307.2h0M126.3 309.0h0M126.4 309.6h0M126.3 311.1h0M126.2 314.4h0M127.2 304.2h0M127.2 304.9h0M126.9 306.4h0M126.9 307.9h0M127.3 308.9h0M126.9 310.0h0M127.5 311.1h0M128.2 304.2h0M128.6 305.6h0M127.9 306.8h0M128.4 308.0h0M128.6 309.0h0M129.1 304.2h0M129.0 305.3h0M129.4 306.7h0M129.7 307.8h0M129.1 308.4h0M129.1 309.8h0M129.2 313.5h0M130.2 304.2h0M131.0 305.7h0M130.4 306.8h0M130.4 307.2h0M130.8 308.9h0M130.8 309.6h0M130.8 311.1h0M131.6 304.2h0M132.1 305.1h0M131.9 306.6h0M131.4 307.8h0M132.1 308.4h0M131.8 310.0h0M131.7 310.9h0M131.8 312.4h0M133.3 304.2h0M133.1 305.4h0M132.7 306.8h0M132.8 308.1h0M132.7 308.4h0M132.7 310.1h0M132.7 311.0h0M132.5 314.7h0M134.2 304.2h0M134.5 305.4h0M133.9 306.5h0M133.8 307.7h0M134.0 308.5h0M134.4 310.1h0M134.3 310.7h0M134.4 311.8h0M135.3 304.2h0M135.2 304.9h0M135.2 306.4h0M135.6 307.8h0M135.1 309.1h0M135.0 309.9h0M134.8 311.0h0M135.0 312.0h0M136.6 304.2h0M136.3 305.4h0M136.7 306.8h0M136.5 307.2h0M136.3 308.6h0M136.2 310.0h0M136.0 311.4h0M136.4 311.9h0M136.0 313.2h0M137.8 304.2h0M137.5 305.3h0M137.1 306.7h0M137.4 307.6h0M137.7 308.6h0M137.3 310.1h0M137.2 310.9h0M137.8 311.9h0M137.7 313.2h0M138.4 304.2h0M138.5 305.7h0M138.6 306.1h0M138.3 308.0h0M139.1 309.1h0M138.5 310.3h0M139.4 304.2h0M139.4 305.1h0M140.1 306.2h0M140.1 308.0h0M140.0 309.0h0M139.7 309.5h0M140.0 312.0h0M139.8 317.9h0M140.6 304.2h0M141.3 305.6h0M141.1 306.5h0M140.7 307.8h0M140.6 308.4h0M141.3 310.3h0M140.5 310.9h0M141.7 304.2h0M142.1 305.5h0M142.0 306.8h0M142.3 307.9h0M142.0 308.7h0M142.0 309.5h0M142.1 310.9h0M142.0 311.8h0M142.1 313.0h0M142.5 314.2h0M143.3 304.2h0M142.9 305.5h0M143.2 306.4h0M143.7 307.5h0M143.5 309.0h0M142.9 310.3h0M143.5 311.2h0M143.6 312.1h0M142.8 313.6h0M144.4 304.2h0M144.5 305.4h0M144.1 306.9h0M144.6 308.1h0M144.1 309.2h0M144.0 309.6h0M144.6 310.7h0M144.0 312.4h0M144.0 313.0h0M145.5 304.2h0M146.0 305.0h0M145.4 306.6h0M145.1 307.4h0M146.0 308.6h0M145.2 310.2h0M145.3 311.2h0M145.3 311.9h0M145.1 314.4h0M146.5 304.2h0M146.7 304.9h0M146.3 306.7h0M146.7 307.3h0M146.6 308.5h0M147.1 310.0h0M146.8 310.6h0M147.1 312.4h0M146.8 315.0h0M147.1 318.0h0M148.2 304.2h0M147.7 305.4h0M147.7 306.7h0M148.1 307.3h0M147.8 308.3h0M148.1 309.6h0M148.0 311.3h0M147.5 312.2h0M148.0 313.2h0M147.8 315.3h0M148.6 304.2h0M149.4 305.5h0M148.7 306.0h0M149.1 307.8h0M149.2 308.7h0M148.9 310.1h0M149.0 311.2h0M149.9 304.2h0M150.0 305.7h0M149.8 306.7h0M150.3 307.2h0M150.4 308.7h0M150.5 309.8h0M150.3 310.7h0M150.1 312.0h0M150.4 314.9h0M151.7 304.2h0M151.4 305.3h0M151.3 306.2h0M151.6 307.3h0M151.4 308.7h0M151.3 310.0h0M151.1 311.4h0M151.4 314.6h0M152.7 304.2h0M152.8 305.6h0M152.5 306.6h0M152.6 307.8h0M152.7 308.5h0M152.7 309.8h0M152.6 311.4h0M152.2 311.8h0M153.5 304.2h0M153.2 305.7h0M153.4 306.1h0M154.0 308.1h0M153.3 308.5h0M153.3 310.4h0M153.6 311.4h0M154.8 304.2h0M154.7 305.5h0M154.5 306.1h0M154.8 308.0h0M155.1 309.2h0M154.9 309.7h0M154.4 311.4h0M155.0 311.9h0M155.0 314.8h0M155.9 304.2h0M156.0 305.2h0M155.7 306.4h0M156.1 307.9h0M156.0 309.1h0M155.7 310.2h0M155.8 311.1h0M156.1 312.4h0M155.8 314.7h0M155.6 315.7h0M155.8 319.2h0M157.3 304.2h0M156.8 305.4h0M157.5 306.1h0M157.3 307.3h0M157.5 309.1h0M157.4 310.3h0M157.2 311.3h0M156.9 311.9h0M157.5 313.3h0M158.1 304.2h0M158.2 305.0h0M158.3 306.5h0M158.2 307.9h0M158.3 309.1h0M157.8 309.5h0M158.4 311.1h0M158.0 312.5h0M158.5 313.5h0M158.6 317.7h0M159.7 304.2h0M159.3 305.0h0M159.5 306.5h0M159.0 308.0h0M159.7 308.6h0M159.4 309.5h0M159.6 311.2h0M159.1 312.6h0M159.0 313.3h0M159.7 314.5h0M159.3 315.8h0M159.6 322.6h0M160.2 304.2h0M160.8 305.2h0M160.3 306.5h0M160.9 308.0h0M160.8 308.3h0M160.7 309.8h0M160.9 311.5h0M160.5 312.3h0M160.9 313.0h0M160.8 314.4h0M160.8 317.9h0M161.8 304.2h0M161.5 305.0h0M161.6 306.3h0M161.5 307.5h0M161.2 308.9h0M161.7 309.5h0M161.5 311.5h0M162.1 312.1h0M161.3 313.5h0M161.4 314.7h0M161.6 317.2h0M161.9 318.7h0M162.7 304.2h0M162.5 305.3h0M162.9 306.1h0M162.5 307.6h0M163.1 309.2h0M162.4 309.6h0M162.6 310.7h0M162.7 312.3h0M162.7 313.1h0M162.9 314.9h0M162.6 316.9h0M162.5 318.0h0M163.8 304.2h0M163.6 305.1h0M163.8 306.1h0M164.3 307.3h0M163.9 309.0h0M164.3 309.6h0M164.3 311.3h0M163.9 312.1h0M163.6 312.9h0M163.5 314.5h0M163.9 315.6h0M164.8 304.2h0M165.5 305.4h0M164.8 306.8h0M165.2 307.9h0M164.9 308.8h0M164.8 310.4h0M165.0 311.4h0M165.3 312.3h0M165.1 312.9h0M165.2 314.8h0M165.0 316.0h0M165.4 319.3h0M165.4 320.3h0M165.3 321.2h0M166.0 304.2h0M166.0 305.0h0M166.2 306.7h0M166.2 307.5h0M166.1 309.0h0M165.9 309.7h0M166.7 310.7h0M166.7 312.3h0M166.5 313.2h0M165.9 314.2h0M165.9 315.4h0M166.0 318.3h0M166.5 319.0h0M165.9 320.2h0M166.6 322.9h0M167.8 304.2h0M167.8 305.3h0M167.3 306.4h0M167.0 307.3h0M167.3 308.7h0M167.6 309.6h0M167.3 311.0h0M167.8 312.0h0M167.1 313.1h0M167.8 314.2h0M167.5 318.0h0M168.9 304.2h0M168.6 305.5h0M168.3 306.2h0M168.3 307.7h0M168.9 308.4h0M168.6 309.5h0M168.2 311.1h0M168.2 312.3h0M168.8 313.5h0M168.9 314.4h0M168.9 316.5h0M169.3 304.2h0M169.9 305.7h0M169.5 306.0h0M169.9 307.7h0M169.9 309.0h0M170.0 310.1h0M169.7 311.1h0M169.8 312.4h0M169.5 313.0h0M169.5 314.7h0M169.4 316.5h0M171.1 304.2h0M171.1 305.2h0M171.0 306.4h0M170.4 307.5h0M170.8 309.1h0M170.5 310.2h0M170.7 310.8h0M170.6 312.5h0M170.6 313.3h0M171.1 314.1h0M170.9 315.5h0M171.0 317.1h0M170.6 319.2h0M170.5 325.0h0M172.0 304.2h0M172.4 305.6h0M171.7 306.3h0M172.4 307.6h0M171.9 308.6h0M171.9 309.7h0M172.2 310.7h0M171.8 312.1h0M171.9 313.4h0M171.8 314.9h0M172.3 315.8h0M171.9 317.1h0M172.4 317.6h0M172.2 325.6h0M173.3 304.2h0M173.4 305.1h0M173.6 306.6h0M172.8 307.3h0M172.8 308.9h0M173.6 309.7h0M173.5 310.9h0M173.1 312.5h0M172.8 313.0h0M172.8 314.2h0M172.9 315.5h0M173.4 316.7h0M172.8 318.0h0M172.7 318.9h0M173.0 320.3h0M172.8 325.2h0M174.3 304.2h0M174.6 305.7h0M173.9 306.0h0M173.9 308.0h0M174.0 308.9h0M174.1 309.8h0M173.9 311.3h0M174.3 312.1h0M174.5 313.4h0M173.9 315.0h0M174.0 315.7h0M174.6 316.5h0M174.5 318.3h0M174.2 322.8h0M175.8 304.2h0M175.2 305.0h0M175.4 306.4h0M175.4 307.6h0M175.2 308.6h0M175.1 310.3h0M175.7 311.1h0M175.0 312.4h0M175.8 313.3h0M175.3 314.1h0M175.4 320.6h0M176.9 304.2h0M176.8 304.9h0M176.6 306.4h0M176.4 307.4h0M176.4 308.9h0M176.2 310.0h0M176.3 310.6h0M176.9 311.8h0M177.0 313.5h0M177.0 315.4h0M176.7 319.9h0M178.2 304.2h0M177.7 305.7h0M178.2 306.3h0M177.5 307.9h0M177.8 309.2h0M177.5 309.9h0M177.8 311.1h0M178.1 312.4h0M177.3 313.7h0M177.5 314.7h0M177.4 317.9h0M178.9 304.2h0M178.8 304.9h0M179.0 306.8h0M179.3 308.0h0M178.7 308.5h0M179.2 310.0h0M178.5 311.0h0M178.9 312.0h0M179.0 315.4h0M180.4 304.2h0M179.8 305.3h0M180.3 306.8h0M180.2 308.0h0M180.3 309.2h0M180.4 310.2h0M180.1 310.7h0M181.5 304.2h0M181.6 305.5h0M181.3 306.5h0M180.9 307.2h0M181.4 309.2h0M180.8 309.5h0M181.1 310.7h0M180.9 312.2h0M181.1 313.3h0M182.7 304.2h0M182.4 305.1h0M182.6 306.8h0M182.7 307.9h0M182.0 308.4h0M182.6 310.1h0M182.7 310.9h0M183.5 304.2h0M183.6 305.0h0M183.8 306.8h0M183.1 307.4h0M183.7 308.9h0M183.3 310.3h0M183.3 310.8h0M183.2 312.5h0M184.8 304.2h0M184.6 305.5h0M184.4 306.1h0M184.9 307.5h0M185.0 308.5h0M184.2 310.1h0M185.0 311.1h0M184.5 312.4h0M184.5 313.4h0M186.1 304.2h0M186.0 305.5h0M186.0 306.4h0M185.5 308.0h0M186.2 309.1h0M186.2 310.2h0M186.2 310.9h0M185.7 312.6h0M185.6 313.2h0M186.9 304.2h0M186.9 304.9h0M186.6 306.5h0M187.4 307.6h0M187.1 308.9h0M187.3 309.7h0M187.3 310.9h0M187.2 312.5h0M187.1 313.0h0M187.0 314.2h0M187.1 315.4h0M186.7 316.8h0M187.7 304.2h0M188.2 305.0h0M188.2 306.3h0M187.8 307.6h0M188.5 308.9h0M187.9 310.1h0M188.3 311.3h0M187.7 311.8h0M188.0 313.6h0M188.0 314.7h0M189.7 304.2h0M189.0 305.4h0M189.0 306.8h0M189.6 307.6h0M189.0 309.2h0M189.5 309.7h0M189.1 311.0h0M189.7 311.8h0M190.2 304.2h0M190.5 305.7h0M190.4 306.3h0M190.7 308.0h0M190.5 308.5h0M190.5 310.2h0M190.6 310.9h0M190.5 314.4h0M191.8 304.2h0M191.4 305.1h0M191.9 306.4h0M191.7 307.2h0M191.9 308.5h0M191.9 309.5h0M192.6 304.2h0M193.0 305.3h0M192.3 306.6h0M192.3 307.4h0M192.4 308.6h0M193.0 310.0h0M193.7 304.2h0M194.0 305.5h0M194.0 306.2h0M193.6 308.0h0M193.7 308.9h0M193.5 309.5h0M193.4 311.5h0M193.6 312.0h0M194.2 313.6h0M194.3 314.2h0M194.9 304.2h0M195.0 305.6h0M195.4 306.8h0M195.0 307.4h0M195.1 309.0h0M195.2 309.5h0M195.1 310.8h0M195.1 312.5h0M195.3 312.9h0M195.2 314.3h0M194.9 315.9h0M195.9 304.2h0M196.1 304.9h0M195.9 306.1h0M195.8 308.0h0M195.8 308.3h0M195.8 310.1h0M195.9 310.8h0M195.9 312.5h0M195.8 313.6h0M196.3 314.6h0M196.3 316.0h0M195.9 320.2h0M197.0 304.2h0M196.9 305.4h0M197.1 306.2h0M197.7 307.5h0M197.5 308.9h0M197.2 309.9h0M197.6 310.7h0M197.6 312.2h0M197.7 313.7h0M196.9 314.7h0M198.6 304.2h0M198.2 305.7h0M198.4 306.2h0M198.8 307.7h0M198.2 308.6h0M198.5 309.7h0M198.7 311.0h0M198.2 312.2h0M198.1 313.5h0M198.8 314.7h0M198.1 317.7h0M198.7 319.9h0M199.4 304.2h0M199.4 304.9h0M199.6 306.7h0M199.6 307.4h0M200.0 308.4h0M199.7 309.7h0M199.5 311.3h0M199.5 312.3h0M199.5 313.6h0M201.0 304.2h0M200.6 305.6h0M200.5 306.4h0M200.5 307.3h0M201.0 308.5h0M200.3 309.8h0M200.9 310.9h0M200.7 312.1h0M200.9 313.4h0M200.7 318.2h0M202.2 304.2h0M201.6 305.1h0M201.5 306.9h0M201.5 307.5h0M201.7 308.7h0M201.6 309.5h0M201.6 310.9h0M201.8 311.9h0M202.2 313.1h0M202.7 304.2h0M203.4 305.1h0M203.2 306.2h0M203.5 308.0h0M202.7 308.9h0M202.8 310.0h0M203.1 311.2h0M203.2 312.7h0M204.0 304.2h0M204.5 305.2h0M204.0 306.5h0M204.5 308.0h0M204.6 309.1h0M204.0 309.8h0M204.3 310.8h0M204.4 312.0h0M204.1 313.2h0M203.8 317.6h0M205.2 304.2h0M205.6 305.6h0M204.9 306.4h0M205.2 307.9h0M205.5 308.9h0M205.5 309.6h0M205.7 311.0h0M205.4 311.8h0M206.7 304.2h0M206.1 305.5h0M206.7 306.5h0M206.9 307.8h0M206.3 308.5h0M206.4 309.7h0M206.5 312.5h0M207.9 304.2h0M207.8 305.1h0M207.3 306.8h0M208.0 307.2h0M207.3 309.1h0M207.6 310.1h0M209.2 304.2h0M208.8 305.4h0M208.9 306.3h0M208.9 307.5h0M209.2 308.6h0M208.5 310.2h0M208.5 312.6h0M208.4 314.3h0M209.6 304.2h0M210.3 305.6h0M210.3 306.3h0M209.8 307.3h0M209.9 308.6h0M209.8 309.5h0M210.0 311.0h0M210.0 312.6h0M209.9 313.1h0M210.2 316.0h0M210.9 304.2h0M210.7 305.5h0M211.5 306.3h0M211.1 307.3h0M211.1 308.4h0M211.4 310.0h0M211.3 311.3h0M211.3 312.6h0M211.5 313.2h0M211.2 325.9h0M212.6 304.2h0M211.9 305.0h0M211.9 306.9h0M212.5 307.3h0M212.1 308.6h0M212.6 309.6h0M212.1 311.1h0M212.0 311.9h0M212.6 313.6h0M212.6 316.7h0M213.1 304.2h0M213.4 305.6h0M213.5 306.9h0M213.8 308.0h0M213.8 308.8h0M213.6 309.9h0M213.3 311.4h0M213.5 312.0h0M213.4 313.2h0M213.4 315.2h0M213.3 316.5h0M213.0 321.0h0M214.7 304.2h0M214.2 305.4h0M214.5 306.7h0M214.8 307.9h0M214.3 309.2h0M214.2 309.9h0M214.4 311.2h0M214.7 311.9h0M214.6 313.3h0M215.0 314.5h0M214.1 315.4h0M215.6 304.2h0M215.6 305.3h0M216.0 306.6h0M215.4 307.8h0M215.9 309.2h0M216.1 309.7h0M215.4 311.5h0M215.7 312.6h0M215.4 313.1h0M215.3 314.5h0M216.9 304.2h0M217.1 304.9h0M217.1 306.1h0M216.8 307.3h0M217.0 308.8h0M217.1 309.5h0M217.3 311.0h0M217.2 311.8h0M217.0 313.2h0M217.0 316.7h0M218.4 304.2h0M217.9 305.7h0M218.2 306.4h0M218.1 307.8h0M217.6 308.8h0M218.3 309.8h0M218.3 311.4h0M218.4 311.9h0M217.6 313.3h0M218.9 304.2h0M219.2 305.5h0M218.9 306.4h0M219.4 307.9h0M219.4 308.7h0M218.9 309.8h0M218.8 310.7h0M219.4 312.6h0M220.4 304.2h0M220.1 305.0h0M220.1 306.3h0M220.7 307.6h0M220.5 308.3h0M219.9 309.5h0M220.3 311.1h0M219.9 311.9h0M221.0 304.2h0M221.5 305.3h0M221.2 306.2h0M221.5 307.6h0M221.3 309.0h0M221.4 310.2h0M221.1 310.9h0M221.5 312.4h0M221.6 313.2h0M221.0 314.6h0M222.7 304.2h0M222.7 305.7h0M222.5 306.9h0M222.3 307.6h0M222.2 309.0h0M222.5 309.6h0M223.0 310.8h0M222.6 312.1h0M222.3 313.3h0M222.7 314.6h0M222.4 320.2h0M223.9 304.2h0M224.1 305.0h0M224.0 306.3h0M224.1 307.8h0M224.1 308.7h0M223.4 310.2h0M223.5 310.7h0M223.5 312.1h0M223.7 313.4h0M224.0 315.0h0M224.7 304.2h0M225.0 304.9h0M224.7 306.2h0M225.0 308.0h0M225.1 309.0h0M224.5 309.6h0M224.7 311.0h0M225.3 311.9h0M225.2 312.9h0M225.8 304.2h0M225.6 305.7h0M226.2 306.8h0M225.9 307.3h0M226.4 308.9h0M226.3 310.0h0M226.3 310.8h0M225.7 312.4h0M226.1 313.8h0M226.4 316.4h0M227.4 304.2h0M227.3 305.4h0M227.5 306.3h0M227.2 307.7h0M227.3 308.4h0M227.6 310.2h0M227.6 310.9h0M226.8 319.0h0M228.4 304.2h0M227.9 305.2h0M228.5 306.0h0M228.3 307.6h0M228.6 308.9h0M228.2 309.5h0M228.1 310.9h0M228.7 311.8h0M229.4 304.2h0M229.6 305.5h0M229.2 306.6h0M229.7 307.2h0M229.3 308.5h0M230.8 304.2h0M230.4 305.4h0M231.0 306.7h0M230.4 308.0h0M231.0 309.0h0M231.9 304.2h0M231.7 305.2h0M232.0 306.1h0M231.4 307.2h0M231.4 308.5h0M233.0 304.2h0M232.6 305.7h0M233.4 306.5h0M233.0 307.5h0M233.0 308.5h0M232.6 309.6h0M233.8 304.2h0M234.0 305.2h0M234.2 306.4h0M235.6 304.2h0M235.3 305.7h0M236.5 304.2h0M236.6 305.6h0M236.1 306.3h0M237.6 304.2h0M237.9 305.3h0M238.4 304.2h0M240.0 304.2h0M240.1 304.9h0M241.3 304.2h0M242.0 304.2h0M243.3 304.2h0M244.4 304.2h0M245.6 304.2h0M246.7 304.2h0M247.9 304.2h0M249.0 304.2h0M250.2 304.2h0M251.3 304.2h0M252.5 304.2h0M253.6 304.2h0M254.8 304.2h0M255.9 304.2h0M257.1 304.2h0M258.2 304.2h0M259.4 304.2h0M260.5 304.2h0M261.7 304.2h0M262.8 304.2h0M264.0 304.2h0M265.1 304.2h0M266.3 304.2h0M267.4 304.2h0M60.9 304.2h0M84.5 310.1h0M87.1 317.1h0M87.5 322.1h0M87.5 326.5h0M89.9 336.3h0M84.9 345.7h0M91.9 371.2h0M94.7 319.9h0M96.9 318.2h0M96.5 330.4h0M101.3 341.3h0M104.1 349.4h0M102.4 351.5h0M99.7 354.8h0M99.1 360.3h0M101.3 360.9h0M101.3 362.5h0M101.3 369.7h0M99.7 382.1h0M103.5 319.9h0M104.1 327.5h0M107.8 326.5h0M110.0 318.8h0M115.5 323.2h0M115.5 326.5h0M117.6 331.5h0M121.4 341.7h0M117.6 366.8h0M117.2 371.2h0M124.2 321.0h0M125.3 324.3h0M126.4 325.4h0M134.0 318.8h0M136.2 328.6h0M138.4 323.2h0M140.6 325.4h0M139.0 336.3h0M141.6 341.7h0M139.0 348.9h0M141.6 361.8h0M143.8 331.9h0M144.9 324.3h0M147.1 328.6h0M149.9 346.1h0M152.6 324.9h0M152.6 334.1h0M153.6 336.3h0M154.7 359.2h0M154.7 329.7h0M158.4 339.1h0M159.1 324.9h0M160.2 326.5h0M161.3 333.0h0M164.6 343.5h0M165.6 329.7h0M162.8 372.3h0M164.6 371.2h0M166.7 370.1h0M168.9 367.9h0M169.6 365.7h0M162.4 394.8h0M169.6 347.2h0M89.3 313.4h0M91.5 312.3h0M119.8 318.8h0M129.6 319.9h0M148.2 321.0h0M163.5 322.1h0M276.3 304.2h0M267.1 307.9h0M266.0 304.2h0M259.5 304.2h0M259.0 311.8h0M259.0 317.1h0M257.3 320.6h0M254.0 317.7h0M254.0 323.2h0M252.9 310.1h0M249.6 307.9h0M248.6 311.8h0M245.3 323.2h0M243.1 325.4h0M244.2 313.4h0M240.9 312.3h0M244.6 349.4h0M239.4 396.3h0M235.5 341.3h0M235.0 352.6h0M231.5 355.3h0M231.5 360.9h0M231.5 365.7h0M231.5 369.0h0M226.7 361.8h0M221.9 348.9h0M219.7 341.7h0M216.3 367.3h0M217.6 400.0h0M213.2 343.9h0M216.9 336.3h0M216.9 331.9h0M220.2 329.7h0M222.4 333.0h0M224.5 335.2h0M210.4 323.2h0M213.6 324.3h0M215.8 325.4h0M204.9 323.2h0M202.7 326.5h0M202.7 329.7h0M200.5 333.0h0M197.3 327.5h0M198.4 323.2h0M195.7 347.2h0M194.0 343.9h0M191.8 338.5h0M188.5 341.7h0M185.3 348.3h0M187.9 351.5h0M187.9 366.8h0M182.0 355.5h0M177.0 357.0h0M178.1 370.1h0M172.2 396.3h0M170.0 347.2h0M170.0 357.0h0M170.0 366.8h0M179.2 343.9h0M172.2 339.5h0M172.2 331.9h0M178.7 327.5h0M182.0 333.0h0M183.1 335.2h0M186.4 336.3h0M179.8 323.2h0M174.4 322.1h0M190.7 325.4h0M189.6 321.0h0M195.1 315.5h0M225.6 321.0h0M227.8 323.2h0M230.0 322.1h0M232.2 321.0h0M234.4 322.1h0M235.5 324.3h0M234.4 327.5h0M232.2 329.7h0M230.0 330.8h0M227.8 327.5h0M225.6 326.5h0M228.9 325.4h0M232.2 325.4h0M233.3 318.8h0M228.9 318.8h0M224.5 329.7h0M235.5 329.7h0M236.6 310.1h0M238.7 307.9h0M242.0 306.8h0M246.4 305.7h0M256.2 306.8h0M262.7 306.2h0" stroke="#1f77b4" stroke-width="3.9" stroke-linecap="round" fill="none"/>
<path d="M64.80 405.12v3.2M99.30 405.12v3.2M133.80 405.12v3.2M168.30 405.12v3.2M202.80 405.12v3.2M237.30 405.12v3.2M271.80 405.12v3.2M50.40 304.17h-3.2M50.40 335.82h-3.2M50.40 367.47h-3.2M50.40 399.12h-3.2" stroke="#111" stroke-width="1.0" fill="none"/>
<rect x="50.4" y="299.32" width="236.60" height="105.8" fill="none" stroke="#262626" stroke-width="1.0"/>
<text x="64.80" y="419.24" text-anchor="middle">50</text>
<text x="99.30" y="419.24" text-anchor="middle">100</text>
<text x="133.80" y="419.24" text-anchor="middle">150</text>
<text x="168.30" y="419.24" text-anchor="middle">200</text>
<text x="202.80" y="419.24" text-anchor="middle">250</text>
<text x="237.30" y="419.24" text-anchor="middle">300</text>
<text x="271.80" y="419.24" text-anchor="middle">350</text>
<text x="43.80" y="307.99" text-anchor="end">0</text>
<text x="43.80" y="339.64" text-anchor="end">−20</text>
<text x="43.80" y="371.29" text-anchor="end">−40</text>
<text x="43.80" y="402.94" text-anchor="end">−60</text>
<text transform="translate(17.2 352.22) rotate(-90)" text-anchor="middle">Degradation rate</text>
<text x="168.70" y="432.62" text-anchor="middle">Radiation</text>
<rect x="55.00" y="383.32" width="49.28" height="17.0" rx="1.6" fill="#fff" fill-opacity="0.8" stroke="#d0d0d0" stroke-width="0.8"/>
<text x="58.10" y="394.92" font-size="9.5"><tspan font-style="italic">r</tspan> = -0.03</text>
</g>
<g>
<path d="M357.0 304.2h0M358.3 304.2h0M359.9 304.2h0M360.8 304.2h0M360.8 305.3h0M361.7 304.2h0M361.9 304.9h0M363.0 304.2h0M363.3 305.0h0M362.5 306.9h0M363.9 304.2h0M364.1 304.9h0M364.1 306.0h0M365.5 304.2h0M365.5 305.1h0M365.2 306.3h0M366.6 304.2h0M366.3 305.8h0M366.5 306.1h0M366.0 307.8h0M367.3 304.2h0M367.9 305.6h0M367.1 306.7h0M367.9 307.6h0M368.3 304.2h0M368.8 305.5h0M368.6 306.5h0M368.4 307.8h0M369.0 308.4h0M370.2 304.2h0M369.9 305.3h0M369.5 306.7h0M370.2 307.5h0M370.8 304.2h0M370.7 305.1h0M371.3 306.5h0M370.6 307.2h0M372.1 304.2h0M372.1 305.6h0M372.3 306.7h0M372.2 307.7h0M373.6 304.2h0M372.9 305.6h0M373.4 306.9h0M373.6 307.5h0M374.1 304.2h0M374.7 305.2h0M374.6 306.3h0M374.3 307.5h0M374.4 308.5h0M374.5 309.8h0M375.6 304.2h0M375.1 305.2h0M375.3 306.3h0M375.2 307.7h0M375.3 308.6h0M375.4 310.3h0M376.6 304.2h0M377.1 305.7h0M376.8 306.1h0M377.1 307.6h0M377.5 304.2h0M378.0 305.6h0M377.7 306.3h0M377.7 307.4h0M377.4 308.8h0M378.1 309.7h0M378.1 315.0h0M379.0 304.2h0M379.2 305.1h0M379.2 306.9h0M378.8 307.7h0M378.9 308.8h0M380.5 304.2h0M379.9 305.8h0M380.3 306.9h0M379.8 307.8h0M381.7 304.2h0M380.9 305.7h0M381.0 306.1h0M381.3 307.2h0M381.0 309.0h0M381.1 313.3h0M382.2 304.2h0M382.0 305.8h0M382.4 306.6h0M382.7 307.7h0M382.5 308.8h0M382.3 310.1h0M382.6 313.1h0M383.3 304.2h0M383.3 305.4h0M383.9 306.8h0M383.5 307.4h0M383.8 308.5h0M383.2 312.0h0M384.7 304.2h0M384.6 305.1h0M384.4 306.7h0M384.4 307.9h0M384.6 308.9h0M384.4 311.3h0M385.8 304.2h0M385.6 305.0h0M385.8 306.5h0M386.2 307.3h0M386.0 308.4h0M385.7 310.1h0M386.8 304.2h0M387.3 305.5h0M387.1 306.7h0M386.7 307.2h0M387.4 309.0h0M387.0 310.0h0M388.0 304.2h0M388.6 305.3h0M388.5 306.5h0M388.0 307.4h0M387.9 308.5h0M388.6 310.0h0M389.6 304.2h0M389.0 305.5h0M389.0 306.1h0M389.5 307.9h0M389.0 308.8h0M389.2 309.9h0M388.9 311.2h0M390.2 304.2h0M390.9 305.2h0M390.6 306.2h0M390.2 307.8h0M390.2 308.9h0M390.4 310.2h0M390.7 311.2h0M390.1 312.2h0M390.8 314.4h0M391.5 304.2h0M392.0 305.4h0M391.7 306.9h0M391.2 307.7h0M391.9 308.9h0M391.5 309.5h0M392.0 311.1h0M391.9 313.0h0M392.8 304.2h0M392.7 305.3h0M393.1 306.5h0M392.9 307.8h0M392.7 308.4h0M393.1 310.0h0M392.5 311.8h0M392.4 313.5h0M394.3 304.2h0M393.9 305.2h0M394.3 306.2h0M393.9 307.8h0M393.9 308.4h0M393.6 311.1h0M395.4 304.2h0M395.4 305.1h0M395.4 306.2h0M394.9 307.8h0M395.1 308.7h0M395.0 310.8h0M396.4 304.2h0M396.4 304.9h0M395.9 306.5h0M396.3 307.6h0M396.2 308.8h0M396.4 309.8h0M396.0 313.5h0M397.1 304.2h0M397.6 305.6h0M397.5 306.1h0M397.2 307.5h0M397.8 308.7h0M397.4 310.0h0M397.3 310.7h0M398.9 304.2h0M398.3 305.6h0M398.5 306.6h0M398.9 307.9h0M398.7 308.4h0M398.4 309.8h0M398.4 311.1h0M399.7 304.2h0M399.7 304.9h0M400.1 306.8h0M399.9 307.8h0M400.0 309.1h0M399.9 310.0h0M399.5 313.5h0M401.2 304.2h0M400.7 304.9h0M401.0 306.4h0M400.9 307.9h0M400.8 308.4h0M400.7 309.6h0M400.8 311.2h0M400.6 312.4h0M400.4 326.5h0M402.1 304.2h0M401.6 305.3h0M402.3 306.4h0M401.8 307.3h0M402.3 308.8h0M402.4 309.7h0M401.6 311.1h0M403.4 304.2h0M402.9 305.7h0M402.9 306.7h0M403.0 307.3h0M403.0 308.4h0M403.2 309.6h0M403.5 311.2h0M402.8 312.0h0M403.3 313.3h0M404.4 304.2h0M404.6 305.4h0M404.3 306.3h0M404.4 308.0h0M404.5 308.4h0M404.5 310.3h0M404.5 311.3h0M404.3 311.9h0M404.5 313.8h0M405.9 304.2h0M405.7 305.2h0M405.6 306.2h0M405.1 307.4h0M405.9 308.8h0M405.6 309.8h0M405.6 311.2h0M405.9 311.9h0M405.4 313.7h0M406.8 304.2h0M406.4 305.1h0M406.8 306.6h0M406.4 307.6h0M406.3 308.9h0M406.6 310.0h0M406.7 311.2h0M406.4 312.3h0M406.9 313.0h0M406.5 314.2h0M406.3 315.7h0M406.6 316.5h0M406.8 317.8h0M408.0 304.2h0M407.4 305.2h0M408.1 306.1h0M407.6 307.8h0M407.7 309.0h0M408.0 309.5h0M407.9 311.4h0M408.1 312.6h0M408.2 313.1h0M408.2 314.8h0M407.3 315.7h0M407.6 318.0h0M408.0 325.1h0M408.6 304.2h0M409.2 305.5h0M408.9 306.6h0M408.9 308.0h0M409.2 309.1h0M408.5 309.5h0M409.3 310.9h0M408.9 311.9h0M409.3 313.1h0M409.1 314.9h0M408.9 315.6h0M408.9 316.9h0M410.1 304.2h0M409.8 305.4h0M410.4 306.5h0M410.3 307.7h0M409.8 308.4h0M410.1 310.2h0M410.0 310.9h0M410.3 312.6h0M410.1 313.2h0M409.8 314.3h0M410.2 315.7h0M411.4 304.2h0M411.1 305.3h0M411.6 306.9h0M410.8 307.5h0M410.9 308.4h0M411.4 310.2h0M411.5 311.1h0M411.4 312.6h0M411.3 313.3h0M411.3 314.7h0M412.3 304.2h0M412.2 305.0h0M412.2 306.2h0M412.2 307.3h0M412.5 308.5h0M412.7 309.9h0M412.3 311.0h0M412.0 311.9h0M412.7 313.4h0M412.8 315.9h0M413.7 304.2h0M413.7 305.0h0M413.2 306.3h0M413.8 308.0h0M413.9 308.6h0M413.4 310.0h0M413.3 311.5h0M413.9 311.8h0M413.5 313.3h0M413.8 315.5h0M413.6 316.8h0M413.7 317.7h0M414.7 304.2h0M414.5 305.4h0M414.3 306.5h0M415.1 307.6h0M414.6 308.7h0M414.4 310.1h0M414.6 311.4h0M414.3 312.3h0M414.3 313.0h0M416.2 304.2h0M416.2 305.3h0M415.4 306.1h0M415.4 307.2h0M416.1 309.1h0M416.1 309.9h0M415.4 311.1h0M415.5 312.6h0M415.7 313.3h0M416.5 304.2h0M416.7 305.4h0M417.1 306.1h0M416.7 307.3h0M416.9 309.1h0M417.0 309.9h0M417.1 310.7h0M417.3 312.3h0M417.0 313.6h0M418.3 304.2h0M418.2 305.7h0M417.8 306.3h0M417.8 307.6h0M417.8 309.1h0M418.0 310.1h0M418.2 311.3h0M418.5 312.4h0M418.5 313.8h0M419.2 304.2h0M419.3 305.2h0M419.2 306.5h0M419.0 308.1h0M418.8 309.1h0M419.2 309.6h0M419.2 310.8h0M419.6 312.1h0M418.9 313.1h0M420.6 304.2h0M420.0 304.9h0M420.5 306.4h0M420.0 307.4h0M420.3 308.4h0M420.8 310.2h0M420.2 311.3h0M420.8 312.4h0M420.5 313.2h0M420.4 314.7h0M420.4 315.9h0M421.8 304.2h0M421.6 305.7h0M421.2 306.2h0M421.8 307.7h0M422.0 308.9h0M422.0 309.8h0M421.4 311.3h0M421.8 312.3h0M421.6 313.2h0M421.9 314.9h0M421.7 315.4h0M422.7 304.2h0M423.0 305.3h0M423.0 306.0h0M423.1 307.2h0M422.4 308.5h0M422.8 310.2h0M422.9 310.7h0M422.8 311.8h0M423.0 313.8h0M422.3 314.3h0M422.3 315.8h0M424.3 304.2h0M423.5 305.4h0M424.2 306.1h0M423.8 307.7h0M423.6 308.8h0M423.6 309.7h0M423.4 311.0h0M424.3 312.1h0M424.0 313.2h0M424.2 314.3h0M424.0 316.0h0M423.6 318.3h0M424.7 304.2h0M424.7 305.4h0M425.0 306.5h0M425.2 307.9h0M425.4 309.2h0M425.3 309.7h0M425.3 311.4h0M424.8 312.2h0M424.9 314.8h0M424.6 317.2h0M425.9 304.2h0M425.8 305.4h0M426.0 306.9h0M425.7 307.3h0M425.8 309.1h0M425.9 310.3h0M426.6 310.9h0M425.9 311.8h0M425.7 315.5h0M427.1 304.2h0M427.1 305.6h0M427.1 306.9h0M427.6 307.6h0M427.6 308.7h0M427.2 309.5h0M427.3 310.9h0M427.5 311.9h0M427.0 313.3h0M428.3 304.2h0M428.8 305.3h0M428.1 306.2h0M428.5 307.4h0M428.6 308.4h0M428.6 310.0h0M428.0 310.9h0M429.8 304.2h0M429.7 305.0h0M429.5 306.8h0M429.7 307.4h0M430.0 309.1h0M429.6 309.6h0M429.3 311.2h0M429.6 312.1h0M431.1 304.2h0M430.7 305.2h0M430.5 306.7h0M430.9 307.9h0M430.8 308.9h0M430.9 309.7h0M431.1 311.3h0M430.8 312.4h0M430.5 313.1h0M431.5 304.2h0M431.6 305.0h0M431.9 306.4h0M431.6 307.2h0M432.2 308.8h0M431.9 310.3h0M431.7 310.8h0M432.2 312.5h0M431.9 313.7h0M431.7 314.2h0M431.9 315.6h0M431.9 319.3h0M431.6 321.3h0M432.8 304.2h0M433.1 305.1h0M433.4 306.9h0M432.9 307.8h0M433.3 308.4h0M433.0 310.0h0M433.2 311.0h0M432.9 312.4h0M432.7 313.4h0M433.3 314.3h0M432.7 315.3h0M434.1 304.2h0M434.6 304.9h0M433.9 306.6h0M434.6 307.8h0M434.0 308.8h0M434.2 309.7h0M433.8 311.4h0M434.1 312.1h0M434.6 313.4h0M434.2 314.6h0M435.5 304.2h0M435.6 305.0h0M435.0 306.7h0M435.4 307.3h0M435.0 309.2h0M435.7 309.8h0M435.8 310.8h0M435.0 312.2h0M434.9 313.5h0M435.1 319.1h0M436.8 304.2h0M436.1 305.5h0M436.6 306.6h0M436.8 307.4h0M436.8 309.1h0M436.3 309.9h0M436.3 311.4h0M436.8 312.1h0M436.7 314.2h0M437.5 304.2h0M437.5 305.5h0M437.2 306.5h0M437.2 307.5h0M437.3 308.4h0M437.7 309.6h0M437.7 310.9h0M437.5 311.9h0M437.8 315.9h0M438.4 304.2h0M439.0 305.4h0M438.4 306.5h0M438.7 307.4h0M438.5 308.9h0M438.8 309.7h0M438.4 311.2h0M438.9 312.3h0M438.5 313.2h0M439.2 316.5h0M439.7 304.2h0M439.5 305.0h0M439.9 306.4h0M439.6 307.3h0M440.1 308.8h0M439.9 309.9h0M440.0 310.6h0M440.1 311.8h0M439.5 313.6h0M439.9 315.4h0M441.1 304.2h0M440.8 305.2h0M440.8 306.4h0M440.7 307.4h0M440.7 308.5h0M441.5 310.3h0M440.9 311.1h0M441.0 312.3h0M440.8 313.7h0M441.5 318.3h0M441.5 319.4h0M440.7 320.2h0M441.1 321.8h0M442.3 304.2h0M441.9 305.5h0M442.3 306.5h0M442.2 307.3h0M442.5 308.6h0M442.1 310.1h0M442.3 311.2h0M441.8 312.4h0M442.4 313.5h0M442.1 314.8h0M441.8 319.4h0M442.2 320.1h0M442.4 321.1h0M443.8 304.2h0M443.2 305.6h0M443.3 306.6h0M443.8 307.2h0M443.5 308.7h0M443.1 309.5h0M443.7 311.1h0M443.3 311.9h0M443.2 313.6h0M443.0 314.4h0M443.7 315.4h0M443.7 318.0h0M443.5 319.1h0M443.3 321.2h0M444.6 304.2h0M444.5 305.4h0M444.5 306.5h0M444.2 307.8h0M444.8 308.7h0M444.6 309.9h0M444.1 311.0h0M445.0 312.7h0M444.8 313.8h0M444.8 314.2h0M445.0 315.3h0M444.3 319.2h0M445.9 304.2h0M445.6 304.9h0M445.5 306.0h0M445.3 307.9h0M446.1 309.0h0M445.6 309.6h0M445.4 311.5h0M445.7 312.6h0M445.8 313.2h0M445.6 314.1h0M445.9 315.4h0M446.1 317.2h0M445.7 317.8h0M445.6 318.7h0M446.1 326.4h0M446.7 304.2h0M446.4 304.9h0M447.0 306.6h0M447.1 307.9h0M447.3 308.9h0M447.2 309.9h0M446.9 311.3h0M446.5 311.9h0M446.9 313.3h0M447.1 314.8h0M447.2 315.9h0M446.9 319.0h0M446.9 320.1h0M448.3 304.2h0M448.3 305.5h0M447.9 306.5h0M447.7 307.9h0M448.0 309.1h0M447.6 309.6h0M447.8 311.1h0M448.2 312.3h0M448.3 312.9h0M448.3 314.7h0M448.2 315.3h0M447.8 316.7h0M447.6 324.7h0M448.9 304.2h0M448.7 305.5h0M449.4 306.6h0M449.6 307.6h0M448.8 309.1h0M449.4 309.7h0M448.9 311.0h0M448.7 312.0h0M449.3 313.3h0M448.9 314.9h0M449.0 315.6h0M449.6 316.5h0M449.2 318.2h0M448.8 321.1h0M449.1 323.8h0M449.9 304.2h0M449.9 305.0h0M450.7 306.1h0M450.6 307.8h0M450.6 308.7h0M450.7 309.5h0M450.4 311.2h0M450.1 312.3h0M450.4 313.7h0M450.4 314.9h0M450.0 315.7h0M451.6 304.2h0M451.6 305.4h0M451.1 306.3h0M451.4 307.7h0M451.5 309.0h0M451.7 309.6h0M451.0 311.1h0M451.6 311.8h0M451.6 313.1h0M452.4 304.2h0M452.7 305.0h0M452.4 306.5h0M452.5 307.6h0M452.3 309.1h0M452.3 309.8h0M452.3 310.6h0M452.6 311.8h0M452.4 313.1h0M453.0 314.9h0M452.7 315.4h0M452.9 316.9h0M453.5 304.2h0M454.1 305.2h0M453.8 306.9h0M453.7 307.2h0M453.6 308.9h0M453.4 309.5h0M453.7 311.2h0M453.9 311.8h0M453.6 313.5h0M454.1 314.9h0M453.7 315.5h0M453.4 316.6h0M453.6 318.3h0M453.8 320.7h0M453.4 323.6h0M455.0 304.2h0M454.5 305.4h0M455.3 306.5h0M454.6 307.3h0M455.0 308.8h0M454.5 310.1h0M454.5 310.7h0M454.9 312.1h0M454.7 313.3h0M454.6 314.4h0M454.7 315.7h0M455.1 316.8h0M454.5 317.7h0M454.7 318.7h0M454.8 320.5h0M454.8 334.0h0M456.2 304.2h0M456.0 305.4h0M455.9 306.2h0M456.3 307.3h0M456.1 309.2h0M456.0 310.0h0M455.6 310.9h0M455.9 312.6h0M456.5 313.6h0M456.3 314.2h0M455.9 315.9h0M456.2 317.0h0M456.2 318.3h0M456.5 319.2h0M455.7 320.2h0M455.7 321.3h0M456.4 325.1h0M456.1 325.9h0M456.2 332.6h0M456.9 304.2h0M457.5 305.0h0M457.6 306.6h0M457.6 307.6h0M457.5 308.8h0M457.3 309.9h0M457.3 311.3h0M457.6 312.5h0M457.6 313.3h0M457.6 314.8h0M457.4 315.3h0M456.8 316.9h0M457.6 317.6h0M457.0 319.2h0M457.6 319.9h0M457.6 321.2h0M457.6 322.9h0M457.3 323.7h0M456.8 325.2h0M457.6 325.8h0M457.5 330.8h0M458.7 304.2h0M457.9 305.4h0M458.0 306.5h0M458.4 307.3h0M458.8 308.8h0M458.3 309.6h0M458.0 311.2h0M458.0 312.3h0M458.2 313.1h0M457.9 314.3h0M457.9 316.0h0M458.4 316.5h0M458.6 318.0h0M458.0 319.5h0M458.0 320.0h0M458.1 321.6h0M459.5 304.2h0M459.9 305.5h0M459.2 306.3h0M459.7 307.7h0M459.6 309.0h0M459.5 309.5h0M459.1 310.7h0M459.2 312.0h0M459.6 313.6h0M459.8 314.4h0M459.3 315.2h0M459.7 316.8h0M459.4 318.2h0M459.8 319.5h0M459.6 320.4h0M459.6 321.1h0M459.9 329.6h0M459.7 332.1h0M460.6 304.2h0M460.6 305.1h0M460.3 306.3h0M460.6 307.8h0M460.3 308.9h0M460.4 309.7h0M460.9 311.4h0M460.5 312.6h0M460.5 313.7h0M460.9 314.3h0M460.4 315.5h0M460.6 316.9h0M460.5 317.6h0M461.1 319.5h0M461.0 322.3h0M461.7 304.2h0M461.5 304.9h0M461.9 306.1h0M461.6 307.5h0M461.8 309.2h0M461.8 309.6h0M462.2 310.9h0M461.8 312.1h0M461.7 313.6h0M462.2 314.5h0M461.8 315.5h0M462.0 317.1h0M463.3 304.2h0M462.9 305.4h0M463.3 306.3h0M463.0 307.5h0M462.8 308.4h0M462.7 309.7h0M462.7 311.0h0M463.3 312.4h0M462.9 312.9h0M463.1 314.4h0M463.4 315.6h0M463.0 316.5h0M463.0 321.7h0M464.0 304.2h0M463.7 305.7h0M464.0 306.7h0M464.2 307.4h0M463.7 308.3h0M464.5 309.5h0M464.1 310.9h0M463.9 312.0h0M464.4 313.1h0M464.4 314.5h0M463.9 316.9h0M464.9 304.2h0M465.0 305.2h0M465.2 306.5h0M465.1 307.3h0M464.9 308.5h0M465.0 310.0h0M465.3 311.3h0M465.1 312.6h0M464.9 313.4h0M465.6 314.9h0M465.5 315.4h0M465.2 323.0h0M466.0 304.2h0M466.4 305.6h0M466.5 306.5h0M466.1 307.3h0M466.5 308.8h0M466.2 310.1h0M466.4 311.3h0M466.1 312.4h0M466.6 313.0h0M466.0 314.8h0M466.3 315.8h0M466.7 316.6h0M466.6 317.8h0M466.7 319.1h0M467.2 304.2h0M467.3 305.5h0M467.2 306.3h0M467.4 307.7h0M467.9 309.0h0M467.5 309.7h0M467.4 310.9h0M467.7 312.2h0M467.3 313.2h0M467.5 314.1h0M467.9 316.0h0M467.3 316.7h0M467.7 319.2h0M468.9 304.2h0M468.8 305.7h0M468.9 306.9h0M468.4 307.3h0M469.0 308.4h0M468.7 310.1h0M468.3 311.4h0M468.9 311.8h0M469.0 313.8h0M468.6 314.6h0M468.8 315.9h0M468.9 316.6h0M469.8 304.2h0M470.1 305.2h0M469.5 306.2h0M469.9 307.7h0M470.2 308.8h0M470.0 309.9h0M470.1 311.0h0M469.5 312.6h0M470.3 313.3h0M469.9 314.1h0M470.2 315.7h0M469.5 317.0h0M469.5 318.2h0M470.1 319.3h0M470.2 322.4h0M469.7 324.0h0M470.0 325.1h0M471.3 304.2h0M470.8 305.1h0M470.7 306.8h0M470.7 307.7h0M470.9 308.7h0M471.0 310.0h0M470.7 311.3h0M470.9 312.6h0M471.0 313.2h0M470.6 314.5h0M470.6 315.8h0M471.3 317.2h0M470.8 320.1h0M472.5 304.2h0M472.5 305.8h0M472.2 306.4h0M471.8 307.7h0M472.4 309.0h0M472.4 309.6h0M472.4 311.5h0M472.0 312.4h0M471.8 313.2h0M472.0 314.8h0M472.3 315.6h0M472.1 317.3h0M471.9 317.8h0M472.2 318.8h0M471.7 322.3h0M471.7 328.7h0M473.6 304.2h0M473.7 305.4h0M473.0 306.8h0M472.9 307.4h0M473.3 308.9h0M472.9 310.2h0M473.5 310.7h0M473.6 312.2h0M472.9 313.2h0M473.6 314.9h0M473.4 315.7h0M473.3 316.4h0M473.4 318.2h0M473.1 319.1h0M472.9 322.1h0M474.4 304.2h0M474.9 305.3h0M474.4 306.8h0M474.6 308.0h0M474.8 309.1h0M474.4 310.3h0M474.1 311.2h0M474.4 312.4h0M474.3 313.3h0M474.9 314.2h0M474.6 315.3h0M474.6 317.3h0M474.4 318.2h0M474.6 319.0h0M474.4 320.1h0M475.3 304.2h0M475.2 305.3h0M475.4 306.3h0M475.7 307.5h0M475.9 308.4h0M475.7 309.7h0M475.6 311.0h0M475.7 312.6h0M476.0 313.3h0M475.5 314.3h0M475.3 316.0h0M475.6 317.0h0M475.8 318.0h0M475.5 319.0h0M475.8 323.8h0M475.7 325.7h0M476.6 304.2h0M476.9 305.3h0M476.9 306.9h0M476.8 307.3h0M476.8 308.4h0M477.0 310.3h0M476.8 311.4h0M476.3 312.1h0M476.6 313.7h0M476.7 314.6h0M476.8 315.5h0M477.2 316.9h0M476.5 317.8h0M476.5 319.5h0M477.0 320.3h0M476.8 324.5h0M476.4 328.0h0M477.8 304.2h0M477.7 305.0h0M477.9 306.1h0M477.5 307.5h0M478.0 308.5h0M477.8 309.7h0M477.7 310.8h0M478.1 312.7h0M477.6 313.2h0M477.8 314.8h0M477.5 315.6h0M478.1 317.2h0M477.8 317.9h0M477.5 318.7h0M477.5 320.3h0M478.0 326.1h0M478.8 304.2h0M479.0 305.1h0M479.1 306.9h0M479.4 307.7h0M478.8 308.9h0M479.3 309.6h0M478.7 311.5h0M478.6 311.9h0M478.8 313.4h0M479.0 314.1h0M479.3 315.9h0M479.4 317.1h0M479.1 318.4h0M479.4 319.0h0M479.2 323.6h0M479.2 324.9h0M480.3 304.2h0M479.9 305.4h0M480.1 306.5h0M480.2 307.7h0M480.6 308.9h0M479.9 309.7h0M480.4 311.4h0M479.8 312.1h0M480.3 313.1h0M480.6 314.6h0M479.9 315.8h0M479.9 316.8h0M480.6 317.7h0M480.0 319.5h0M480.4 320.0h0M480.3 321.2h0M480.5 322.9h0M480.2 326.9h0M481.0 304.2h0M481.0 305.1h0M481.3 306.8h0M481.4 307.5h0M481.6 308.4h0M481.4 309.7h0M481.1 310.7h0M481.4 312.0h0M481.6 313.6h0M481.6 314.8h0M481.5 315.7h0M481.6 317.0h0M481.8 317.8h0M481.1 319.3h0M481.2 320.7h0M481.4 321.2h0M481.5 328.3h0M482.5 304.2h0M482.4 305.6h0M482.3 306.9h0M482.5 307.5h0M482.8 309.0h0M482.6 309.7h0M482.2 310.6h0M482.8 312.0h0M482.8 313.6h0M482.4 314.3h0M482.6 316.1h0M482.8 316.6h0M482.2 318.3h0M482.5 319.2h0M482.1 320.2h0M482.9 322.6h0M482.1 331.1h0M483.6 304.2h0M484.1 305.7h0M483.7 306.5h0M484.0 307.2h0M483.3 308.5h0M483.6 310.1h0M484.1 311.3h0M484.1 312.1h0M484.1 313.4h0M483.4 314.7h0M483.6 315.6h0M484.1 316.6h0M483.5 318.4h0M483.2 318.8h0M483.3 320.3h0M483.7 323.3h0M484.6 304.2h0M485.2 305.1h0M484.8 306.7h0M484.7 307.3h0M484.6 308.4h0M484.5 309.9h0M484.4 311.0h0M484.9 312.2h0M484.8 313.7h0M484.6 314.3h0M484.5 315.3h0M484.5 316.4h0M484.4 317.7h0M484.8 318.9h0M484.6 320.5h0M486.1 304.2h0M485.6 305.7h0M485.8 306.2h0M486.1 308.0h0M486.1 309.1h0M486.1 309.9h0M486.2 311.5h0M485.6 312.6h0M485.7 313.5h0M486.2 314.7h0M485.8 315.8h0M485.8 317.1h0M486.3 320.6h0M486.4 321.7h0M486.8 304.2h0M487.5 305.3h0M487.2 306.6h0M487.5 308.0h0M486.7 309.2h0M487.2 309.6h0M487.1 310.7h0M486.7 311.8h0M487.5 313.1h0M487.4 314.4h0M487.1 315.8h0M487.4 316.8h0M487.5 317.7h0M487.9 304.2h0M488.5 305.3h0M488.5 306.1h0M487.9 307.4h0M488.4 309.1h0M488.6 310.1h0M487.9 311.4h0M488.7 311.9h0M488.5 313.8h0M487.9 314.5h0M488.2 315.8h0M488.0 317.0h0M488.5 317.6h0M488.1 318.9h0M489.1 304.2h0M489.6 305.3h0M489.0 306.3h0M489.5 307.3h0M489.0 308.6h0M489.1 310.2h0M489.8 310.8h0M489.2 311.8h0M489.6 313.6h0M489.4 314.4h0M489.6 315.9h0M489.4 317.1h0M489.7 319.2h0M490.4 304.2h0M490.9 305.3h0M490.3 306.2h0M490.6 307.3h0M490.9 308.4h0M490.9 310.3h0M490.3 310.8h0M490.9 312.0h0M490.5 313.0h0M490.4 314.1h0M490.1 316.0h0M490.6 322.9h0M491.9 304.2h0M491.3 305.0h0M491.8 306.6h0M491.3 307.5h0M492.0 309.1h0M491.7 310.2h0M491.8 311.0h0M491.3 312.1h0M491.5 313.3h0M491.9 314.6h0M491.3 315.9h0M491.7 321.4h0M493.2 304.2h0M493.1 305.8h0M492.6 306.1h0M493.1 308.0h0M492.4 309.2h0M492.9 310.2h0M492.9 311.2h0M493.3 312.6h0M493.2 313.2h0M492.6 314.2h0M492.6 315.9h0M493.0 322.5h0M494.4 304.2h0M494.3 305.5h0M493.8 306.5h0M493.6 308.0h0M493.8 308.6h0M494.4 310.0h0M494.4 311.5h0M494.4 311.8h0M493.9 313.0h0M494.0 314.4h0M493.7 315.8h0M494.3 316.9h0M494.0 318.1h0M494.4 323.3h0M495.4 304.2h0M495.6 305.1h0M494.8 306.1h0M495.6 307.8h0M495.0 309.1h0M495.5 309.5h0M495.6 310.9h0M495.1 312.1h0M494.9 313.6h0M495.4 314.5h0M495.5 315.8h0M495.3 316.9h0M495.5 317.7h0M495.4 324.0h0M495.3 325.3h0M496.6 304.2h0M496.1 305.2h0M496.5 306.2h0M496.7 307.8h0M496.3 309.0h0M496.2 309.9h0M496.0 310.8h0M496.1 311.8h0M496.7 313.7h0M496.1 314.7h0M495.9 316.0h0M496.1 316.8h0M496.6 317.6h0M496.6 324.9h0M497.0 304.2h0M497.2 304.9h0M497.1 306.1h0M497.8 307.7h0M497.7 308.7h0M497.3 310.3h0M497.4 311.4h0M497.5 312.6h0M497.6 313.4h0M497.6 314.3h0M497.4 315.5h0M497.9 316.6h0M497.8 317.6h0M497.9 318.7h0M497.5 321.8h0M497.8 329.6h0M498.8 304.2h0M499.0 305.3h0M498.3 306.9h0M498.9 307.4h0M498.3 308.7h0M498.7 309.8h0M498.4 311.2h0M498.8 312.1h0M498.7 313.2h0M498.6 314.8h0M498.8 315.8h0M498.4 317.1h0M498.2 318.0h0M498.5 319.3h0M498.3 320.0h0M498.2 321.2h0M498.8 326.9h0M498.8 328.4h0M499.8 304.2h0M499.7 305.1h0M499.4 306.7h0M499.6 308.0h0M499.8 308.4h0M499.6 310.0h0M499.9 310.7h0M499.5 312.3h0M500.1 313.1h0M500.2 314.9h0M499.4 315.8h0M499.4 316.8h0M499.5 317.9h0M499.5 318.8h0M499.3 320.1h0M499.9 321.6h0M500.2 322.8h0M499.6 324.7h0M500.1 328.6h0M499.5 329.8h0M500.1 330.9h0M500.5 304.2h0M501.2 305.4h0M501.3 306.4h0M501.1 307.5h0M501.3 309.2h0M500.7 309.7h0M501.1 311.1h0M500.5 312.1h0M501.1 313.1h0M501.2 314.1h0M500.7 315.5h0M501.1 317.1h0M500.8 317.6h0M501.3 319.1h0M500.7 320.2h0M501.1 321.0h0M500.6 322.7h0M501.2 327.4h0M502.3 304.2h0M501.9 305.1h0M502.1 306.7h0M502.3 307.4h0M502.1 308.9h0M502.0 310.3h0M501.7 311.2h0M502.2 312.1h0M502.4 313.5h0M502.3 314.5h0M501.7 315.5h0M502.4 316.7h0M501.9 318.0h0M502.2 319.1h0M502.0 328.4h0M503.6 304.2h0M503.1 305.1h0M503.1 306.5h0M502.9 307.9h0M503.4 309.1h0M503.3 310.1h0M503.4 311.3h0M503.1 312.0h0M503.3 313.0h0M503.3 314.8h0M502.8 315.2h0M503.4 316.7h0M503.5 317.8h0M502.8 323.7h0M504.0 304.2h0M504.1 305.0h0M504.4 306.1h0M504.1 307.9h0M504.4 308.9h0M504.3 310.0h0M504.7 311.3h0M504.5 312.0h0M504.7 313.4h0M504.1 314.1h0M504.5 315.9h0M504.3 317.2h0M504.0 317.7h0M504.7 319.2h0M504.7 320.0h0M504.6 321.4h0M504.4 325.2h0M504.7 327.9h0M505.6 304.2h0M505.9 305.0h0M505.2 306.0h0M505.6 308.0h0M505.5 308.3h0M505.6 310.1h0M505.3 310.8h0M505.9 312.1h0M505.3 313.3h0M505.4 314.6h0M505.1 315.7h0M505.5 317.0h0M505.5 318.3h0M505.3 319.5h0M505.9 320.3h0M505.7 321.1h0M505.4 325.0h0M506.9 304.2h0M506.7 305.3h0M506.3 306.5h0M506.8 307.7h0M507.0 308.7h0M506.9 310.0h0M506.3 311.0h0M506.9 312.4h0M507.0 313.2h0M506.8 314.6h0M506.9 315.8h0M507.0 316.5h0M506.8 318.2h0M506.8 319.0h0M506.5 320.0h0M506.2 321.8h0M506.4 322.1h0M507.0 323.7h0M506.4 324.6h0M506.6 327.2h0M506.7 336.0h0M507.7 304.2h0M508.1 305.1h0M507.7 306.3h0M507.5 307.4h0M508.0 308.6h0M507.9 309.7h0M507.6 311.0h0M507.9 312.2h0M507.6 313.5h0M507.7 314.7h0M508.0 315.7h0M507.8 316.9h0M507.4 318.3h0M507.5 319.2h0M507.5 320.2h0M507.7 321.7h0M507.7 322.2h0M507.4 323.7h0M507.8 325.6h0M507.8 328.6h0M508.9 304.2h0M509.4 305.0h0M508.9 306.5h0M508.9 308.0h0M509.1 309.1h0M509.1 310.1h0M509.2 310.7h0M508.5 312.3h0M508.8 313.1h0M509.2 314.9h0M508.8 315.8h0M509.3 317.1h0M509.1 318.1h0M508.8 319.2h0M508.8 320.6h0M508.7 321.7h0M508.6 323.3h0M509.4 326.0h0M508.8 332.7h0M510.1 304.2h0M510.2 305.4h0M510.1 306.8h0M510.1 307.3h0M510.2 309.0h0M509.9 309.8h0M510.2 311.2h0M509.9 312.3h0M510.3 313.4h0M510.0 314.7h0M510.0 315.3h0M510.4 317.1h0M509.8 318.1h0M511.3 304.2h0M511.6 305.3h0M511.0 306.2h0M510.9 307.6h0M510.9 309.0h0M511.6 309.8h0M511.7 311.2h0M511.4 312.3h0M511.3 313.6h0M511.7 314.1h0M511.7 316.0h0M511.2 316.9h0M511.1 320.5h0M511.3 329.8h0M512.6 304.2h0M512.5 305.0h0M512.8 306.6h0M512.7 307.9h0M512.4 309.1h0M512.1 309.5h0M512.1 311.4h0M512.3 312.7h0M512.2 313.5h0M513.6 304.2h0M513.4 305.3h0M513.3 306.4h0M513.8 307.5h0M513.4 308.8h0M513.6 310.1h0M513.6 311.2h0M514.0 312.6h0M513.1 313.0h0M513.6 314.5h0M513.6 318.4h0M514.5 304.2h0M515.1 305.0h0M514.8 306.7h0M514.7 307.6h0M514.4 308.8h0M514.3 310.1h0M514.5 311.4h0M514.4 312.6h0M514.3 313.3h0M514.5 315.8h0M515.8 304.2h0M516.1 305.1h0M516.3 306.2h0M516.0 307.9h0M516.1 308.4h0M516.2 310.0h0M515.5 311.2h0M516.2 312.1h0M515.7 314.4h0M516.6 304.2h0M517.0 305.4h0M517.4 306.9h0M516.9 307.7h0M517.0 308.9h0M517.0 309.9h0M516.9 310.8h0M516.9 313.5h0M518.1 304.2h0M517.9 305.7h0M518.1 306.9h0M518.0 307.4h0M518.1 308.9h0M517.9 309.7h0M519.2 304.2h0M519.2 305.3h0M519.0 306.6h0M519.1 307.9h0M518.9 308.8h0M520.2 304.2h0M520.5 305.3h0M520.3 306.9h0M520.4 307.2h0M520.2 309.6h0M521.2 304.2h0M521.6 305.5h0M521.5 306.1h0M521.7 315.4h0M523.0 304.2h0M522.4 305.1h0M522.8 306.6h0M523.1 307.2h0M524.2 304.2h0M523.7 305.5h0M524.0 306.3h0M524.3 308.0h0M524.3 308.6h0M525.4 304.2h0M525.4 305.5h0M525.4 306.3h0M526.5 304.2h0M525.9 305.6h0M526.9 304.2h0M527.6 305.2h0M528.7 304.2h0M528.4 305.4h0M528.6 307.8h0M530.1 304.2h0M531.1 304.2h0M532.0 304.2h0M316.4 304.2h0M320.7 304.2h0M320.7 309.7h0M321.2 345.7h0M330.5 304.2h0M331.2 306.2h0M337.1 304.2h0M337.5 307.9h0M346.3 304.2h0M354.1 306.2h0M367.6 317.7h0M368.7 322.1h0M369.8 322.7h0M369.2 326.5h0M375.3 314.5h0M378.6 313.4h0M385.1 318.8h0M385.5 330.8h0M380.3 341.7h0M379.6 359.8h0M381.8 360.7h0M383.4 361.8h0M375.7 369.0h0M374.8 371.2h0M384.7 382.8h0M368.7 391.9h0M390.6 318.8h0M396.0 319.9h0M397.1 323.2h0M398.2 326.5h0M397.8 330.8h0M401.5 333.0h0M402.6 336.3h0M403.6 339.5h0M402.6 343.9h0M405.2 349.4h0M408.4 352.2h0M411.3 354.8h0M409.1 360.3h0M408.4 361.8h0M409.1 369.7h0M408.0 341.7h0M408.4 336.3h0M409.1 333.0h0M408.4 328.6h0M408.0 325.4h0M414.1 322.1h0M414.6 326.5h0M419.6 343.9h0M419.6 391.9h0M417.8 325.4h0M420.0 344.7h0M422.3 325.4h0M428.0 327.7h0M428.6 335.6h0M432.5 334.5h0M433.6 325.4h0M434.8 358.8h0M437.7 345.9h0M439.3 369.7h0M443.4 341.3h0M444.5 335.6h0M444.5 328.8h0M448.4 366.3h0M449.5 370.9h0M449.1 348.8h0M449.5 334.5h0M450.7 331.1h0M456.4 331.1h0M458.6 355.4h0M459.8 333.4h0M462.0 337.9h0M463.2 339.0h0M465.5 372.0h0M466.6 369.7h0M468.2 365.2h0M468.9 345.9h0M470.0 331.1h0M472.3 357.2h0M473.4 368.6h0M473.9 348.1h0M474.5 336.8h0M476.8 361.8h0M478.0 334.5h0M479.5 336.8h0M482.5 341.3h0M485.9 341.3h0M485.9 331.1h0M489.3 330.0h0M491.6 336.1h0M492.7 357.2h0M493.2 355.0h0M493.2 360.6h0M493.2 365.2h0M493.2 369.7h0M494.3 344.0h0M496.1 349.3h0M498.4 334.5h0M498.9 352.2h0M498.9 341.8h0M498.9 367.0h0M503.0 345.9h0M505.9 349.3h0M501.8 331.1h0M507.5 330.0h0M511.6 367.9h0M512.0 326.5h0M512.7 332.2h0M513.2 334.5h0M512.7 344.0h0M424.5 394.7h0M426.4 395.9h0M493.2 400.0h0M521.6 396.3h0M527.3 352.7h0M526.8 320.9h0M526.8 323.1h0M526.8 325.4h0M527.3 328.8h0M525.7 314.0h0M530.9 310.6h0M520.0 314.0h0M513.2 322.0h0" stroke="#1f77b4" stroke-width="3.9" stroke-linecap="round" fill="none"/>
<path d="M335.70 405.12v3.2M384.55 405.12v3.2M433.40 405.12v3.2M482.25 405.12v3.2M531.10 405.12v3.2M305.70 304.17h-3.2M305.70 335.82h-3.2M305.70 367.47h-3.2M305.70 399.12h-3.2" stroke="#111" stroke-width="1.0" fill="none"/>
<rect x="305.7" y="299.32" width="236.30" height="105.8" fill="none" stroke="#262626" stroke-width="1.0"/>
<text x="335.70" y="419.24" text-anchor="middle">270</text>
<text x="384.55" y="419.24" text-anchor="middle">280</text>
<text x="433.40" y="419.24" text-anchor="middle">290</text>
<text x="482.25" y="419.24" text-anchor="middle">300</text>
<text x="531.10" y="419.24" text-anchor="middle">310</text>
<text x="423.85" y="432.62" text-anchor="middle">Max temperature</text>
<rect x="310.30" y="383.32" width="49.28" height="17.0" rx="1.6" fill="#fff" fill-opacity="0.8" stroke="#d0d0d0" stroke-width="0.8"/>
<text x="313.40" y="394.92" font-size="9.5"><tspan font-style="italic">r</tspan> = -0.02</text>
</g>
<g>
<path d="M90.3 450.3h0M91.5 450.3h0M92.3 450.3h0M94.2 450.3h0M94.9 450.3h0M95.8 450.3h0M97.6 450.3h0M97.7 458.3h0M98.8 450.3h0M99.5 450.3h0M100.8 450.3h0M100.9 451.2h0M101.4 450.3h0M101.7 451.2h0M103.1 450.3h0M103.4 451.1h0M104.4 450.3h0M104.5 451.3h0M105.1 450.3h0M105.4 451.0h0M106.4 450.3h0M106.2 451.7h0M106.3 459.7h0M107.6 450.3h0M108.0 451.4h0M108.4 450.3h0M108.9 451.6h0M109.1 452.6h0M109.5 450.3h0M109.9 451.6h0M111.0 450.3h0M111.3 451.7h0M110.9 456.5h0M112.6 450.3h0M111.8 451.7h0M112.4 452.3h0M113.3 450.3h0M113.6 451.4h0M113.7 453.0h0M113.4 456.8h0M114.2 450.3h0M114.1 451.5h0M114.9 452.5h0M114.7 453.4h0M115.3 450.3h0M115.8 451.6h0M115.6 452.6h0M115.7 453.5h0M116.7 450.3h0M117.1 451.5h0M117.0 452.4h0M116.7 457.1h0M117.7 450.3h0M117.6 451.9h0M118.2 453.0h0M117.8 453.3h0M118.2 454.6h0M118.7 450.3h0M119.5 451.4h0M119.4 453.1h0M119.4 453.4h0M119.1 454.7h0M118.8 457.5h0M119.9 450.3h0M120.5 451.7h0M120.0 452.5h0M119.9 454.2h0M121.1 450.3h0M121.8 451.5h0M121.5 453.0h0M121.6 453.7h0M121.2 456.2h0M121.8 456.8h0M122.2 450.3h0M123.0 451.3h0M122.4 452.8h0M122.8 453.8h0M122.9 455.0h0M122.6 456.2h0M123.6 450.3h0M123.3 451.4h0M123.9 452.7h0M123.6 453.9h0M123.9 455.1h0M124.1 456.1h0M123.7 458.3h0M125.2 450.3h0M125.0 451.3h0M125.3 452.7h0M125.1 453.7h0M124.8 455.1h0M125.2 456.0h0M125.2 456.8h0M125.9 450.3h0M126.0 451.3h0M126.3 452.3h0M125.7 453.4h0M126.0 455.1h0M126.3 455.8h0M127.6 450.3h0M127.5 451.1h0M127.1 452.9h0M127.2 453.7h0M127.4 455.3h0M126.8 456.5h0M128.3 450.3h0M128.4 451.5h0M128.7 452.9h0M128.1 453.4h0M128.7 454.5h0M129.3 450.3h0M129.8 451.4h0M129.1 452.2h0M129.8 453.4h0M129.9 454.8h0M130.6 450.3h0M130.8 451.4h0M130.5 452.9h0M130.7 453.4h0M131.0 454.5h0M130.9 457.2h0M130.8 459.8h0M131.9 450.3h0M131.8 451.8h0M131.9 452.9h0M132.1 454.2h0M131.6 455.4h0M131.8 455.9h0M132.9 450.3h0M133.3 451.7h0M132.6 452.5h0M132.7 453.5h0M132.9 454.9h0M132.8 456.5h0M133.1 457.0h0M133.3 459.9h0M134.5 450.3h0M133.8 451.6h0M133.7 452.3h0M133.7 454.2h0M133.8 455.3h0M134.1 456.1h0M133.8 457.3h0M134.4 458.0h0M133.6 459.3h0M134.9 450.3h0M134.9 451.8h0M135.1 452.5h0M135.0 453.3h0M134.9 454.6h0M135.6 455.8h0M135.2 457.6h0M135.3 460.4h0M136.0 450.3h0M136.1 451.9h0M136.2 452.8h0M136.5 453.7h0M136.5 455.2h0M136.5 456.2h0M136.3 456.8h0M136.4 458.4h0M136.0 459.4h0M137.2 450.3h0M137.5 451.4h0M137.4 452.3h0M137.5 453.5h0M137.3 455.4h0M137.4 455.7h0M137.5 457.4h0M137.3 458.5h0M137.6 459.2h0M137.3 461.5h0M138.3 450.3h0M138.6 451.2h0M138.5 452.3h0M138.3 454.1h0M138.6 454.7h0M139.1 455.9h0M138.5 457.1h0M138.7 458.8h0M138.8 459.1h0M139.0 460.7h0M138.4 461.7h0M138.6 464.1h0M140.0 450.3h0M140.2 451.9h0M140.0 453.1h0M139.5 453.8h0M139.7 455.1h0M139.5 456.4h0M139.9 457.0h0M139.9 458.7h0M139.7 459.5h0M139.8 460.9h0M140.9 450.3h0M141.4 451.1h0M140.7 453.0h0M140.6 454.2h0M141.3 455.3h0M141.1 455.7h0M140.6 457.6h0M140.6 458.5h0M141.4 459.3h0M141.3 461.0h0M141.1 464.6h0M141.7 450.3h0M142.3 451.9h0M142.1 452.5h0M142.5 453.8h0M142.5 454.6h0M142.3 456.1h0M142.1 457.7h0M142.3 458.3h0M142.1 459.2h0M142.2 460.6h0M142.2 461.7h0M142.2 463.4h0M141.7 469.0h0M143.3 450.3h0M143.2 451.1h0M143.0 452.4h0M143.1 453.7h0M142.9 455.0h0M142.9 456.1h0M143.0 457.0h0M143.4 458.0h0M143.4 459.3h0M143.4 460.4h0M142.9 461.7h0M143.3 463.2h0M143.5 466.6h0M143.4 469.0h0M142.9 469.8h0M144.8 450.3h0M144.6 451.2h0M144.6 453.0h0M144.3 453.3h0M144.4 455.0h0M144.4 456.1h0M144.7 457.1h0M144.4 458.5h0M144.0 459.6h0M144.5 460.9h0M144.4 461.5h0M144.1 465.6h0M145.7 450.3h0M145.8 451.4h0M145.8 452.3h0M145.9 453.5h0M145.5 455.1h0M145.3 456.2h0M145.4 457.6h0M145.3 458.0h0M145.7 459.8h0M145.5 460.3h0M146.9 450.3h0M147.1 451.6h0M146.6 452.2h0M146.9 453.3h0M146.9 455.2h0M146.9 456.0h0M146.6 457.7h0M146.3 458.4h0M146.3 459.6h0M146.9 460.7h0M146.7 461.5h0M146.4 463.2h0M147.1 465.5h0M148.3 450.3h0M148.2 451.2h0M147.8 452.6h0M147.7 453.9h0M148.2 455.3h0M147.9 455.8h0M147.7 457.4h0M147.6 458.3h0M148.1 459.9h0M147.6 460.8h0M147.4 462.2h0M148.2 466.9h0M148.8 450.3h0M148.6 451.5h0M149.2 453.0h0M149.1 454.2h0M149.1 454.7h0M149.2 456.5h0M149.0 456.9h0M148.8 458.6h0M148.8 460.0h0M149.0 461.0h0M149.1 461.8h0M148.7 465.7h0M149.0 466.2h0M149.2 467.3h0M148.8 471.4h0M149.9 450.3h0M149.7 451.4h0M150.3 452.4h0M150.1 453.4h0M150.2 455.1h0M149.8 456.2h0M150.5 456.8h0M150.5 458.7h0M149.8 459.3h0M149.8 461.7h0M151.3 450.3h0M151.0 451.3h0M150.9 452.2h0M151.4 453.4h0M151.5 455.2h0M151.0 455.6h0M151.2 457.3h0M151.6 458.0h0M152.1 450.3h0M152.2 451.5h0M152.9 452.7h0M152.6 453.8h0M152.3 454.5h0M152.7 455.8h0M152.9 458.6h0M153.7 450.3h0M153.8 451.8h0M153.6 452.8h0M153.6 454.2h0M153.9 455.1h0M153.5 455.7h0M154.8 450.3h0M155.0 451.8h0M155.1 452.2h0M154.9 453.5h0M155.1 455.2h0M154.6 455.9h0M154.6 457.0h0M154.9 458.6h0M155.2 459.6h0M155.2 460.3h0M154.9 462.7h0M155.9 450.3h0M155.5 451.5h0M156.0 452.6h0M155.5 453.5h0M156.0 454.8h0M156.3 455.7h0M156.1 456.9h0M155.7 458.2h0M156.3 461.7h0M156.9 450.3h0M156.9 451.2h0M156.7 453.0h0M157.3 453.5h0M157.3 454.6h0M156.9 456.2h0M157.2 457.5h0M157.2 458.0h0M157.2 459.7h0M157.1 460.7h0M156.9 461.7h0M158.1 450.3h0M158.6 451.8h0M158.1 452.5h0M158.0 453.5h0M157.9 454.9h0M157.8 456.5h0M158.6 457.6h0M158.0 458.6h0M158.4 459.4h0M158.1 460.5h0M159.3 450.3h0M159.6 451.6h0M159.3 452.7h0M159.4 453.9h0M159.0 454.6h0M158.9 456.0h0M159.0 457.1h0M159.6 458.0h0M159.3 459.2h0M159.5 460.5h0M158.9 461.6h0M160.1 450.3h0M160.8 451.0h0M160.1 452.9h0M160.2 454.1h0M160.3 455.1h0M160.6 455.9h0M160.6 457.0h0M160.2 458.0h0M160.4 459.2h0M160.9 460.3h0M160.4 461.6h0M162.0 450.3h0M162.1 451.7h0M161.6 453.1h0M161.8 453.9h0M162.0 454.5h0M161.5 455.8h0M161.3 457.1h0M161.4 458.3h0M161.6 459.5h0M161.9 460.7h0M162.0 461.8h0M161.7 467.6h0M163.0 450.3h0M163.0 451.3h0M163.2 452.3h0M163.2 453.4h0M162.4 455.4h0M163.1 455.8h0M163.2 457.3h0M162.9 458.0h0M162.9 459.3h0M163.1 460.9h0M162.7 461.6h0M162.4 462.7h0M163.7 450.3h0M164.1 451.1h0M164.2 452.3h0M163.6 453.7h0M163.6 454.7h0M164.3 456.3h0M164.4 457.5h0M164.0 458.1h0M163.9 459.6h0M163.9 460.8h0M163.9 462.2h0M163.9 464.0h0M165.2 450.3h0M165.5 451.1h0M164.9 453.0h0M164.8 453.5h0M165.4 454.6h0M165.4 456.0h0M165.0 457.0h0M165.1 458.2h0M165.4 459.8h0M164.9 460.4h0M166.2 450.3h0M166.0 451.5h0M166.2 452.5h0M166.3 454.2h0M166.3 455.0h0M166.4 456.5h0M165.9 456.9h0M166.4 458.2h0M166.4 459.8h0M166.0 463.3h0M166.5 470.6h0M167.1 450.3h0M167.3 451.5h0M167.5 452.6h0M167.5 453.4h0M167.8 454.8h0M167.8 456.3h0M167.0 457.3h0M167.0 458.5h0M167.7 459.1h0M167.8 460.8h0M167.1 463.4h0M168.4 450.3h0M168.9 451.4h0M168.8 452.8h0M168.5 453.7h0M168.1 454.7h0M168.7 456.1h0M168.2 457.3h0M168.9 458.5h0M168.8 459.5h0M168.1 460.3h0M169.7 450.3h0M169.6 451.5h0M169.7 452.5h0M169.9 453.8h0M169.6 454.7h0M169.7 456.3h0M169.4 456.8h0M170.0 458.4h0M169.9 459.2h0M171.0 450.3h0M170.8 451.4h0M170.6 453.0h0M171.0 454.0h0M170.5 455.4h0M171.0 455.8h0M170.9 457.2h0M171.0 458.0h0M171.1 459.9h0M171.1 462.8h0M172.4 450.3h0M171.7 451.1h0M172.1 452.7h0M171.7 453.5h0M171.7 454.6h0M172.0 456.0h0M171.9 457.6h0M172.2 458.4h0M172.2 459.1h0M172.0 461.1h0M173.3 450.3h0M173.3 451.3h0M173.0 452.5h0M173.3 453.9h0M173.2 454.8h0M173.5 456.0h0M173.2 457.1h0M173.6 458.5h0M173.1 459.6h0M173.2 460.3h0M174.3 450.3h0M174.0 451.2h0M174.0 452.9h0M174.5 453.7h0M174.1 455.3h0M174.1 455.7h0M174.2 457.4h0M174.2 458.0h0M173.9 460.8h0M175.8 450.3h0M175.2 451.3h0M175.3 452.6h0M175.7 453.4h0M175.3 454.7h0M175.1 456.3h0M175.2 456.8h0M175.3 458.2h0M176.5 450.3h0M176.7 451.8h0M176.7 452.2h0M177.0 453.9h0M177.0 454.9h0M176.7 455.9h0M176.2 457.2h0M177.0 458.3h0M176.8 459.3h0M177.8 450.3h0M177.3 451.1h0M178.0 452.7h0M177.8 454.2h0M177.7 455.2h0M177.6 456.2h0M177.9 457.1h0M177.4 458.2h0M177.5 461.5h0M178.7 450.3h0M179.0 451.5h0M178.9 452.8h0M178.5 453.9h0M178.6 454.9h0M179.3 456.3h0M178.9 457.3h0M178.9 458.1h0M179.2 459.6h0M178.8 460.3h0M178.8 475.2h0M179.6 450.3h0M179.6 451.4h0M180.2 452.2h0M180.1 453.4h0M179.9 454.5h0M180.2 456.1h0M180.5 457.3h0M179.6 458.2h0M181.1 450.3h0M181.0 451.6h0M180.9 452.3h0M181.4 454.0h0M181.0 455.3h0M181.2 455.7h0M181.1 457.1h0M181.3 458.7h0M181.4 459.3h0M181.4 466.6h0M182.2 450.3h0M182.0 451.1h0M182.7 452.5h0M182.7 454.2h0M182.5 455.0h0M182.1 455.9h0M182.2 457.1h0M182.0 458.7h0M181.9 459.5h0M183.8 450.3h0M183.5 451.8h0M183.1 453.1h0M183.3 453.4h0M183.3 454.8h0M183.9 456.2h0M183.5 457.1h0M183.8 458.0h0M183.3 459.3h0M183.6 461.0h0M183.8 461.8h0M183.6 462.8h0M184.2 450.3h0M185.1 451.9h0M184.9 453.1h0M185.0 453.3h0M184.5 454.5h0M184.3 456.1h0M185.0 457.1h0M185.0 458.7h0M184.8 459.7h0M184.3 460.8h0M184.3 461.8h0M185.1 463.7h0M184.3 467.7h0M184.9 470.0h0M185.4 450.3h0M186.0 451.4h0M186.2 452.8h0M185.5 453.5h0M185.7 454.5h0M186.0 456.5h0M185.4 456.9h0M186.2 458.1h0M185.5 459.5h0M185.7 460.6h0M185.5 461.4h0M186.6 450.3h0M186.8 451.2h0M187.4 452.6h0M187.2 453.5h0M187.0 455.1h0M187.3 455.8h0M187.4 457.6h0M187.2 458.7h0M187.1 459.7h0M186.9 460.7h0M188.3 450.3h0M187.8 451.1h0M188.5 452.4h0M188.2 453.8h0M188.4 454.9h0M187.7 456.0h0M188.5 456.8h0M188.2 458.2h0M188.0 459.5h0M187.8 466.8h0M189.6 450.3h0M189.6 451.2h0M189.3 452.6h0M188.8 453.4h0M189.3 454.7h0M189.2 456.4h0M189.6 457.3h0M189.3 458.2h0M189.3 459.2h0M189.4 460.8h0M190.3 450.3h0M190.6 451.8h0M190.7 452.3h0M190.3 453.4h0M190.3 455.2h0M190.2 456.1h0M190.2 457.5h0M190.3 458.3h0M190.6 459.5h0M190.6 460.7h0M191.3 450.3h0M191.7 451.0h0M191.7 452.3h0M191.9 454.2h0M191.7 455.0h0M191.8 455.7h0M192.0 457.6h0M191.9 458.4h0M191.6 459.6h0M191.9 460.6h0M191.8 462.8h0M192.7 450.3h0M192.6 451.7h0M192.5 452.7h0M193.1 453.6h0M192.7 454.7h0M193.0 455.8h0M192.5 456.9h0M193.0 458.5h0M192.9 459.2h0M193.0 460.6h0M192.5 465.1h0M194.2 450.3h0M193.8 451.7h0M193.4 452.2h0M193.5 454.0h0M193.9 455.1h0M193.7 456.3h0M194.2 457.3h0M193.6 458.2h0M193.4 459.9h0M193.9 460.2h0M193.5 464.1h0M195.3 450.3h0M195.4 451.8h0M195.4 452.9h0M195.3 454.0h0M194.6 455.3h0M195.3 456.2h0M195.4 457.0h0M194.9 458.0h0M195.1 459.9h0M195.0 460.3h0M195.0 463.4h0M196.6 450.3h0M196.4 451.7h0M196.5 452.6h0M196.5 453.6h0M196.1 454.8h0M196.4 456.0h0M196.2 457.0h0M196.2 458.7h0M195.8 459.4h0M196.1 460.5h0M196.4 461.4h0M195.9 467.8h0M197.1 450.3h0M197.5 451.6h0M197.4 452.2h0M197.2 453.6h0M197.0 455.0h0M197.7 456.5h0M197.1 457.5h0M197.6 458.3h0M196.9 459.4h0M197.2 460.3h0M197.6 462.0h0M197.5 463.3h0M197.7 467.3h0M198.9 450.3h0M198.2 451.8h0M198.1 453.0h0M198.3 454.2h0M198.1 454.6h0M198.0 455.6h0M198.7 456.9h0M198.1 458.7h0M198.5 459.4h0M198.4 460.4h0M198.9 461.5h0M198.4 462.6h0M198.5 464.6h0M199.9 450.3h0M199.5 451.7h0M199.4 452.4h0M199.5 453.9h0M199.3 455.0h0M199.8 455.8h0M200.0 457.2h0M199.4 458.4h0M199.8 459.6h0M199.5 461.0h0M199.5 461.7h0M199.4 463.2h0M200.9 450.3h0M201.0 451.8h0M201.0 452.6h0M201.0 454.1h0M200.9 455.0h0M200.4 456.1h0M200.5 457.4h0M200.7 458.4h0M200.6 459.1h0M200.7 460.6h0M200.4 461.6h0M200.9 465.3h0M202.1 450.3h0M202.2 451.3h0M202.1 452.4h0M201.7 453.8h0M202.3 454.9h0M202.1 456.4h0M201.8 457.0h0M202.0 458.2h0M201.7 459.1h0M202.3 460.6h0M202.2 461.5h0M202.3 463.0h0M202.2 466.8h0M203.4 450.3h0M202.9 451.7h0M203.2 452.3h0M203.1 453.5h0M202.7 454.6h0M203.0 456.3h0M202.7 457.1h0M203.4 458.4h0M203.5 459.4h0M203.1 460.6h0M203.3 461.4h0M203.2 463.3h0M203.3 467.6h0M204.1 450.3h0M204.6 451.2h0M204.2 452.5h0M204.4 453.4h0M204.5 454.6h0M203.9 455.7h0M203.8 457.3h0M204.3 458.2h0M204.3 459.3h0M204.3 460.8h0M204.1 461.4h0M205.5 450.3h0M205.1 451.9h0M205.8 452.5h0M205.2 453.9h0M205.7 455.3h0M205.7 456.2h0M205.6 457.6h0M204.9 458.7h0M205.7 459.3h0M205.5 460.8h0M205.2 461.8h0M206.5 450.3h0M206.8 451.6h0M206.2 453.1h0M206.9 453.5h0M206.2 455.0h0M206.6 455.8h0M206.5 457.2h0M206.9 458.7h0M206.6 459.4h0M206.9 460.5h0M207.3 450.3h0M207.8 451.7h0M207.8 452.8h0M208.0 453.8h0M207.6 454.9h0M207.4 455.7h0M207.7 456.9h0M207.7 458.1h0M207.6 459.1h0M207.8 460.3h0M207.7 464.5h0M208.9 450.3h0M209.2 451.2h0M208.5 452.3h0M208.5 454.0h0M208.9 455.2h0M208.5 456.2h0M209.0 456.8h0M209.1 458.7h0M208.7 459.6h0M208.4 460.5h0M209.1 470.3h0M209.8 450.3h0M209.8 451.7h0M210.1 452.2h0M209.6 454.0h0M210.2 455.0h0M209.6 456.4h0M209.5 457.5h0M210.0 458.1h0M209.7 459.4h0M209.5 461.1h0M210.3 463.2h0M211.1 450.3h0M211.2 451.2h0M211.2 452.8h0M211.2 453.6h0M211.1 454.6h0M211.0 455.9h0M210.7 457.1h0M210.9 458.1h0M210.7 459.2h0M210.7 460.6h0M211.4 464.6h0M212.1 450.3h0M212.7 451.3h0M212.5 452.9h0M212.5 454.2h0M212.3 455.0h0M212.4 456.4h0M212.1 457.6h0M212.0 458.1h0M212.5 459.1h0M211.9 462.1h0M212.4 463.2h0M212.3 466.5h0M213.5 450.3h0M213.2 451.7h0M213.0 452.2h0M213.5 453.4h0M213.7 454.8h0M213.5 455.8h0M213.1 457.7h0M213.0 458.2h0M213.5 460.8h0M214.2 450.3h0M214.2 451.9h0M214.5 452.9h0M214.3 453.6h0M214.4 455.1h0M214.7 456.4h0M214.6 456.8h0M214.4 458.6h0M215.6 450.3h0M215.8 451.6h0M215.9 452.2h0M215.3 453.9h0M216.0 454.7h0M215.7 455.7h0M216.1 457.5h0M215.6 457.9h0M215.5 459.1h0M217.1 450.3h0M217.1 451.3h0M216.9 452.9h0M216.9 453.5h0M216.4 455.1h0M217.1 456.4h0M216.9 457.3h0M216.7 460.4h0M218.0 450.3h0M218.1 451.4h0M217.9 452.4h0M218.2 453.4h0M217.6 454.6h0M218.3 456.0h0M217.8 456.9h0M217.8 458.6h0M218.1 459.9h0M217.6 460.5h0M218.3 461.6h0M219.2 450.3h0M219.1 451.1h0M219.1 452.3h0M218.7 453.9h0M218.8 455.0h0M218.9 456.4h0M219.3 456.8h0M218.8 458.3h0M219.2 459.8h0M219.1 460.7h0M218.8 464.0h0M219.1 467.6h0M220.7 450.3h0M220.4 451.8h0M220.6 452.7h0M220.1 454.1h0M220.5 454.6h0M220.7 455.7h0M220.4 457.6h0M220.1 458.4h0M219.9 459.8h0M220.4 461.1h0M220.6 461.6h0M220.6 462.7h0M220.7 466.8h0M221.2 450.3h0M221.1 451.3h0M221.1 452.5h0M221.2 453.7h0M221.5 455.3h0M221.8 456.2h0M221.7 457.6h0M221.8 458.8h0M221.9 459.4h0M221.2 460.6h0M221.8 463.7h0M223.0 450.3h0M222.4 451.5h0M222.4 452.9h0M222.3 453.4h0M222.5 454.5h0M222.5 456.3h0M222.3 457.3h0M222.3 458.2h0M222.9 459.1h0M222.7 460.5h0M222.4 461.5h0M223.3 450.3h0M223.7 451.5h0M224.0 453.1h0M224.1 454.0h0M223.3 454.9h0M224.0 456.2h0M223.7 456.8h0M224.0 458.6h0M223.5 459.4h0M224.2 460.5h0M223.6 461.5h0M223.8 462.6h0M223.3 463.7h0M223.8 465.4h0M225.2 450.3h0M225.3 451.8h0M225.0 452.4h0M225.2 454.2h0M225.2 454.5h0M225.3 456.4h0M225.3 456.9h0M224.9 458.5h0M225.1 459.5h0M224.9 460.5h0M224.6 461.5h0M226.2 450.3h0M225.6 451.2h0M225.8 452.4h0M226.2 453.7h0M226.2 454.9h0M225.8 455.9h0M226.1 457.2h0M226.4 458.6h0M226.4 459.5h0M226.0 460.6h0M225.8 462.2h0M226.5 465.4h0M227.3 450.3h0M227.5 451.1h0M227.4 452.7h0M226.9 453.4h0M227.2 455.3h0M226.9 456.2h0M227.3 457.6h0M227.3 458.7h0M226.9 459.5h0M227.0 460.4h0M227.2 461.6h0M227.1 462.7h0M227.2 466.6h0M227.4 468.9h0M227.0 470.0h0M228.7 450.3h0M228.6 451.1h0M228.4 452.3h0M228.4 454.2h0M228.4 455.2h0M228.0 455.7h0M228.7 457.2h0M228.6 458.1h0M228.0 459.6h0M228.6 460.3h0M228.5 461.5h0M228.6 463.2h0M228.4 468.4h0M229.6 450.3h0M229.2 451.4h0M229.2 452.5h0M229.5 453.8h0M229.3 455.3h0M229.8 455.6h0M229.3 457.5h0M229.1 458.1h0M229.2 459.6h0M229.8 460.5h0M229.8 462.2h0M229.7 466.4h0M230.4 450.3h0M230.7 451.2h0M230.7 452.3h0M230.9 453.4h0M230.3 455.4h0M230.4 456.0h0M230.8 456.8h0M230.9 458.3h0M230.5 459.6h0M230.4 461.0h0M231.1 463.1h0M231.5 450.3h0M231.6 451.7h0M231.5 452.3h0M231.8 453.8h0M231.6 454.8h0M232.0 456.3h0M231.5 457.1h0M231.5 458.1h0M232.0 459.3h0M231.4 460.9h0M231.7 462.1h0M231.7 462.6h0M233.3 450.3h0M233.3 451.3h0M233.1 452.3h0M233.3 453.5h0M233.2 455.3h0M232.7 455.8h0M233.2 457.5h0M232.8 458.8h0M233.4 459.1h0M234.4 450.3h0M233.8 451.1h0M233.9 452.6h0M233.9 453.6h0M234.2 454.8h0M234.4 456.0h0M234.4 457.6h0M234.3 458.1h0M234.1 459.9h0M234.8 450.3h0M235.4 451.2h0M235.5 452.8h0M234.8 453.6h0M234.9 455.3h0M235.2 455.9h0M235.1 457.6h0M235.3 458.6h0M235.2 459.4h0M234.9 461.1h0M235.3 461.8h0M236.1 450.3h0M236.1 451.9h0M236.4 453.0h0M236.2 454.0h0M236.5 454.7h0M236.4 455.9h0M236.6 457.3h0M236.2 458.7h0M236.3 459.7h0M236.4 460.9h0M236.7 462.0h0M236.8 462.7h0M236.6 464.3h0M236.1 469.9h0M236.7 472.1h0M236.0 475.4h0M237.4 450.3h0M237.8 451.2h0M237.7 452.7h0M237.4 453.6h0M237.2 455.1h0M237.9 455.7h0M237.9 457.4h0M237.5 458.2h0M237.6 459.5h0M237.9 460.8h0M238.0 462.1h0M237.9 463.2h0M237.6 464.2h0M238.6 450.3h0M238.9 451.4h0M238.5 452.8h0M239.1 453.8h0M238.3 454.7h0M238.5 456.1h0M238.9 457.7h0M238.7 458.1h0M238.8 459.2h0M238.8 460.8h0M238.4 461.4h0M238.4 462.9h0M239.1 464.5h0M239.1 467.3h0M238.9 468.8h0M239.1 473.1h0M239.0 474.7h0M239.9 450.3h0M239.9 451.4h0M239.5 452.8h0M240.2 453.4h0M239.9 455.3h0M239.6 456.5h0M240.0 457.0h0M240.2 458.4h0M239.7 459.6h0M239.8 460.6h0M239.4 461.9h0M240.1 463.2h0M240.1 464.4h0M239.9 465.2h0M239.8 466.5h0M239.5 467.4h0M240.3 468.7h0M240.6 450.3h0M241.2 451.4h0M241.3 452.3h0M240.8 454.0h0M240.7 454.9h0M240.8 455.7h0M240.9 457.4h0M241.0 458.1h0M240.9 459.1h0M241.0 460.6h0M240.9 461.7h0M240.8 462.7h0M240.6 463.8h0M241.0 465.6h0M240.7 466.7h0M241.8 450.3h0M242.3 451.5h0M241.7 452.3h0M242.1 454.1h0M242.6 455.3h0M242.1 456.1h0M242.1 457.4h0M242.1 458.3h0M242.3 459.3h0M242.1 460.6h0M241.8 461.8h0M242.2 463.2h0M242.0 464.2h0M242.4 465.5h0M241.9 466.8h0M242.3 467.2h0M242.4 473.6h0M243.6 450.3h0M243.5 451.4h0M243.2 452.9h0M243.4 454.0h0M243.5 455.3h0M243.5 455.8h0M243.5 456.9h0M243.1 457.9h0M243.2 459.8h0M243.0 460.3h0M243.3 461.7h0M243.6 462.5h0M243.5 463.7h0M243.5 465.4h0M243.7 466.3h0M243.5 467.9h0M243.3 470.2h0M244.7 450.3h0M244.5 451.8h0M244.2 452.7h0M244.4 453.4h0M244.8 454.7h0M244.5 455.8h0M244.5 457.0h0M244.1 458.8h0M244.5 459.7h0M244.6 461.0h0M244.7 462.2h0M244.8 462.6h0M244.9 464.1h0M244.9 465.2h0M244.8 466.3h0M244.3 468.0h0M244.4 468.7h0M244.1 469.7h0M244.7 474.6h0M245.7 450.3h0M245.6 451.3h0M245.3 452.5h0M245.6 453.5h0M245.2 454.9h0M245.9 455.7h0M245.5 457.0h0M245.8 458.7h0M246.0 459.3h0M245.3 461.1h0M245.9 462.2h0M246.0 462.7h0M245.2 464.0h0M245.9 465.6h0M245.4 466.7h0M246.9 450.3h0M247.0 451.9h0M246.3 452.2h0M246.9 454.1h0M247.0 455.3h0M246.7 456.1h0M246.7 457.7h0M246.6 458.4h0M246.7 459.4h0M246.5 460.9h0M246.9 462.1h0M246.3 463.1h0M246.8 464.5h0M247.1 467.2h0M246.8 470.9h0M246.9 473.3h0M247.6 450.3h0M247.5 451.8h0M248.2 452.2h0M247.8 454.0h0M247.9 455.4h0M247.6 455.7h0M247.6 457.6h0M248.1 458.2h0M248.3 459.4h0M247.9 460.4h0M247.7 461.5h0M248.3 463.3h0M247.9 463.9h0M248.0 471.3h0M249.4 450.3h0M249.3 451.7h0M249.4 452.2h0M248.8 453.8h0M249.5 455.3h0M249.1 455.7h0M249.5 457.2h0M248.7 458.4h0M249.5 459.6h0M249.4 460.3h0M248.8 461.9h0M249.3 462.6h0M248.8 472.0h0M250.6 450.3h0M250.5 451.1h0M250.2 452.6h0M250.1 454.1h0M250.0 455.3h0M250.1 456.1h0M250.1 456.8h0M250.1 458.5h0M250.5 459.2h0M249.8 460.7h0M250.1 461.8h0M250.0 462.8h0M250.5 464.9h0M250.1 470.1h0M251.0 450.3h0M251.8 451.1h0M251.1 452.6h0M251.5 453.4h0M251.7 455.2h0M251.0 455.9h0M251.7 457.1h0M251.3 458.7h0M251.0 459.6h0M251.4 460.4h0M251.4 461.5h0M251.8 463.8h0M251.7 465.1h0M251.3 466.0h0M252.7 450.3h0M252.7 451.6h0M252.2 452.5h0M252.8 453.7h0M252.8 454.5h0M252.9 455.8h0M252.4 457.1h0M252.3 458.5h0M252.6 459.5h0M252.9 460.3h0M252.6 461.8h0M252.8 463.3h0M252.1 465.7h0M253.3 450.3h0M253.6 451.9h0M254.1 452.5h0M253.4 453.8h0M253.9 455.0h0M254.0 455.8h0M253.6 457.0h0M253.6 458.2h0M253.6 459.7h0M253.3 460.6h0M254.0 462.2h0M253.6 462.8h0M254.0 466.2h0M254.5 450.3h0M254.7 451.2h0M255.2 452.3h0M254.5 454.2h0M254.5 454.6h0M254.5 456.5h0M255.0 457.3h0M254.9 458.4h0M255.2 459.5h0M254.8 460.8h0M255.2 461.4h0M254.4 462.8h0M256.1 450.3h0M256.1 451.4h0M256.3 452.8h0M255.6 453.8h0M256.2 454.5h0M256.1 456.5h0M255.5 457.0h0M256.2 458.5h0M256.3 459.5h0M255.5 460.9h0M255.5 462.2h0M255.6 463.1h0M255.5 465.0h0M255.9 466.2h0M257.1 450.3h0M257.5 451.4h0M257.1 452.7h0M257.2 453.9h0M257.2 454.9h0M257.3 456.2h0M256.9 457.2h0M257.4 458.5h0M257.5 459.8h0M256.8 460.8h0M257.1 461.8h0M257.3 463.4h0M257.4 466.6h0M257.1 468.0h0M256.9 469.1h0M258.2 450.3h0M257.8 451.2h0M258.0 452.8h0M258.2 454.0h0M258.1 454.8h0M258.3 455.9h0M257.8 457.3h0M258.6 458.2h0M258.3 459.3h0M258.2 460.9h0M258.1 461.5h0M258.7 462.7h0M258.3 470.8h0M258.3 473.3h0M257.9 477.0h0M259.6 450.3h0M259.0 451.9h0M259.8 452.3h0M259.7 453.8h0M259.8 454.6h0M259.6 456.3h0M259.1 456.8h0M259.8 458.7h0M259.5 459.9h0M259.1 460.5h0M259.4 461.6h0M260.4 450.3h0M260.8 451.2h0M260.5 452.7h0M260.2 453.6h0M260.4 455.1h0M260.4 456.0h0M260.4 457.3h0M260.1 458.3h0M260.2 460.0h0M260.6 460.8h0M260.3 461.5h0M260.7 462.6h0M260.6 468.5h0M261.7 450.3h0M261.7 451.3h0M261.9 452.5h0M261.9 454.1h0M261.9 454.6h0M261.4 455.8h0M261.6 456.8h0M262.1 458.5h0M261.5 459.5h0M261.5 460.5h0M261.4 461.7h0M261.7 463.1h0M261.8 468.0h0M263.1 450.3h0M262.6 451.8h0M262.8 452.6h0M263.3 453.5h0M263.1 454.7h0M262.7 456.0h0M262.5 457.0h0M262.5 458.8h0M262.7 459.8h0M263.1 460.7h0M262.8 461.6h0M263.1 463.0h0M263.0 466.5h0M263.8 450.3h0M263.7 451.2h0M264.3 452.2h0M263.8 453.7h0M263.7 454.8h0M263.9 456.4h0M263.9 457.4h0M264.4 458.5h0M263.9 459.7h0M264.1 460.5h0M264.2 463.9h0M264.8 450.3h0M265.0 451.7h0M265.1 452.2h0M264.7 454.0h0M265.0 455.1h0M265.0 456.2h0M265.5 457.1h0M265.2 458.4h0M266.0 450.3h0M266.5 451.2h0M266.4 452.4h0M266.6 453.5h0M266.2 454.6h0M267.1 450.3h0M267.2 451.2h0M267.6 452.5h0M267.3 454.2h0M267.7 455.0h0M267.6 456.0h0M268.5 450.3h0M268.7 451.9h0M268.2 452.8h0M269.0 453.6h0M269.0 459.4h0M269.9 450.3h0M269.6 451.2h0M269.9 452.8h0M269.8 453.5h0M269.5 455.0h0M270.7 450.3h0M270.5 451.7h0M272.0 450.3h0M60.9 450.3h0M65.7 450.3h0M66.4 455.7h0M69.2 450.3h0M69.2 452.2h0M76.2 450.3h0M76.6 454.3h0M80.5 450.3h0M89.3 450.3h0M91.5 452.8h0M66.4 491.7h0M104.5 457.2h0M105.0 462.6h0M107.8 463.7h0M105.0 468.1h0M105.0 472.5h0M110.0 459.4h0M113.9 462.2h0M114.8 466.6h0M121.4 468.1h0M125.3 469.2h0M125.3 471.4h0M125.7 477.9h0M125.3 485.5h0M129.6 480.1h0M131.8 476.8h0M131.8 482.3h0M129.6 487.7h0M131.8 469.2h0M127.5 506.3h0M128.6 506.9h0M105.6 507.8h0M113.3 515.7h0M123.5 517.2h0M106.3 528.8h0M116.1 538.4h0M134.0 540.8h0M142.7 541.6h0M140.6 468.1h0M142.1 473.5h0M142.1 476.8h0M146.0 468.1h0M148.2 470.3h0M149.3 472.5h0M150.4 479.0h0M149.3 482.3h0M151.5 487.7h0M152.6 491.0h0M147.8 492.1h0M144.9 489.9h0M147.1 495.4h0M150.8 498.6h0M149.9 500.8h0M151.0 506.3h0M151.0 508.5h0M151.5 515.7h0M153.6 471.4h0M155.8 470.3h0M158.4 470.3h0M160.2 476.8h0M162.4 480.1h0M163.5 472.5h0M166.3 505.2h0M169.6 516.1h0M170.0 516.5h0M177.0 517.2h0M178.1 512.8h0M174.4 472.5h0M179.8 477.9h0M180.9 487.7h0M183.1 482.3h0M185.3 475.7h0M189.2 495.4h0M190.1 485.5h0M192.5 474.6h0M192.9 481.2h0M198.4 473.5h0M203.8 494.3h0M203.8 482.3h0M206.0 480.1h0M204.9 474.6h0M212.5 501.9h0M212.5 480.1h0M214.7 483.4h0M214.7 486.6h0M218.4 516.1h0M218.4 518.3h0M220.2 511.3h0M221.3 492.7h0M223.5 503.0h0M225.0 487.7h0M227.8 513.9h0M226.7 475.7h0M231.1 477.9h0M231.1 481.2h0M234.8 542.3h0M235.5 500.8h0M235.5 506.9h0M235.5 511.7h0M235.5 516.1h0M236.6 476.8h0M238.7 475.7h0M238.7 489.9h0M239.8 489.9h0M242.0 481.2h0M242.0 498.6h0M242.0 503.0h0M241.6 507.8h0M242.0 512.8h0M244.2 495.4h0M246.4 482.3h0M247.9 546.2h0M251.8 487.7h0M252.5 495.4h0M256.2 493.2h0M257.9 499.1h0M259.5 481.2h0M259.5 477.9h0M261.2 490.3h0M265.4 513.9h0M269.9 472.0h0M266.0 464.8h0M266.0 468.1h0M259.5 474.6h0M251.8 474.6h0M245.3 474.6h0M222.4 474.6h0M218.0 475.7h0M276.3 450.3h0" stroke="#1f77b4" stroke-width="3.9" stroke-linecap="round" fill="none"/>
<path d="M75.00 551.28v3.2M126.70 551.28v3.2M178.40 551.28v3.2M230.10 551.28v3.2M281.80 551.28v3.2M50.40 450.33h-3.2M50.40 481.98h-3.2M50.40 513.63h-3.2M50.40 545.28h-3.2" stroke="#111" stroke-width="1.0" fill="none"/>
<rect x="50.4" y="445.48" width="236.60" height="105.8" fill="none" stroke="#262626" stroke-width="1.0"/>
<text x="75.00" y="565.40" text-anchor="middle">260</text>
<text x="126.70" y="565.40" text-anchor="middle">270</text>
<text x="178.40" y="565.40" text-anchor="middle">280</text>
<text x="230.10" y="565.40" text-anchor="middle">290</text>
<text x="281.80" y="565.40" text-anchor="middle">300</text>
<text x="43.80" y="454.15" text-anchor="end">0</text>
<text x="43.80" y="485.80" text-anchor="end">−20</text>
<text x="43.80" y="517.45" text-anchor="end">−40</text>
<text x="43.80" y="549.10" text-anchor="end">−60</text>
<text transform="translate(17.2 498.38) rotate(-90)" text-anchor="middle">Degradation rate</text>
<text x="168.70" y="578.78" text-anchor="middle">Min temperature</text>
<rect x="55.00" y="529.48" width="49.28" height="17.0" rx="1.6" fill="#fff" fill-opacity="0.8" stroke="#d0d0d0" stroke-width="0.8"/>
<text x="58.10" y="541.08" font-size="9.5"><tspan font-style="italic">r</tspan> = -0.02</text>
</g>
<g>
<path d="M329.5 450.3h0M330.7 450.3h0M331.8 450.3h0M333.2 450.3h0M333.8 450.3h0M334.9 450.3h0M336.0 450.3h0M337.7 450.3h0M338.9 450.3h0M340.0 450.3h0M339.5 452.9h0M340.7 450.3h0M341.9 450.3h0M341.9 461.7h0M343.6 450.3h0M344.4 450.3h0M346.0 450.3h0M346.0 451.2h0M346.7 450.3h0M347.1 451.4h0M347.6 450.3h0M347.8 451.6h0M348.7 450.3h0M349.4 451.2h0M350.1 450.3h0M351.0 450.3h0M351.7 451.8h0M352.6 450.3h0M352.3 451.2h0M352.5 458.7h0M354.0 450.3h0M353.3 451.3h0M354.5 450.3h0M354.9 451.1h0M356.1 450.3h0M355.6 451.3h0M356.1 452.5h0M356.1 454.7h0M356.4 456.2h0M357.2 450.3h0M357.4 451.2h0M357.3 452.8h0M357.1 454.2h0M357.6 454.7h0M358.1 450.3h0M358.6 451.1h0M358.3 452.5h0M358.4 454.0h0M358.7 455.2h0M358.7 455.8h0M357.9 457.5h0M358.1 458.4h0M359.4 450.3h0M359.2 451.3h0M359.5 452.5h0M359.3 453.6h0M359.1 455.2h0M359.1 456.5h0M360.4 450.3h0M360.8 451.6h0M360.4 452.6h0M360.2 453.6h0M360.9 455.2h0M360.4 456.1h0M360.6 457.4h0M361.4 450.3h0M361.7 451.3h0M362.2 452.9h0M361.5 453.7h0M361.9 455.0h0M361.4 458.1h0M362.7 450.3h0M363.1 451.8h0M363.3 452.7h0M362.8 453.7h0M362.6 455.2h0M362.8 456.1h0M363.2 458.4h0M364.0 450.3h0M363.8 451.5h0M363.9 453.0h0M364.3 453.8h0M363.6 455.1h0M365.2 450.3h0M365.0 451.4h0M364.9 452.4h0M365.3 453.8h0M365.0 454.7h0M365.5 455.9h0M365.6 456.9h0M365.9 450.3h0M366.0 451.5h0M366.1 452.3h0M366.3 454.1h0M366.2 455.1h0M366.0 457.3h0M367.4 450.3h0M367.2 451.6h0M367.2 452.2h0M367.1 454.2h0M367.1 454.6h0M367.9 455.7h0M368.5 450.3h0M368.6 451.0h0M369.0 452.6h0M368.2 454.0h0M368.9 454.9h0M369.9 450.3h0M369.5 451.4h0M370.0 452.4h0M369.9 453.7h0M370.1 455.3h0M369.4 455.9h0M369.6 457.4h0M370.7 450.3h0M371.4 451.3h0M371.4 452.6h0M371.1 453.7h0M370.9 455.2h0M371.2 456.5h0M372.1 450.3h0M372.1 451.3h0M372.0 452.9h0M372.3 454.2h0M372.0 455.1h0M372.3 456.1h0M372.0 457.2h0M372.5 458.0h0M373.0 450.3h0M373.7 451.7h0M373.0 453.0h0M372.8 453.9h0M373.3 454.6h0M372.9 456.3h0M372.9 457.4h0M373.6 458.5h0M374.6 450.3h0M374.4 451.0h0M374.5 453.0h0M374.8 454.1h0M374.5 455.2h0M374.7 455.7h0M374.1 457.3h0M374.2 458.6h0M374.5 462.0h0M374.7 462.7h0M375.5 450.3h0M375.2 451.3h0M375.8 453.1h0M376.0 453.9h0M375.8 455.0h0M375.6 456.4h0M375.2 457.2h0M376.0 458.2h0M375.5 459.4h0M377.0 450.3h0M376.7 451.3h0M376.3 452.7h0M376.9 453.6h0M377.1 454.9h0M376.7 456.5h0M376.7 456.9h0M376.4 458.4h0M376.9 459.5h0M376.6 460.5h0M377.0 462.6h0M376.9 466.0h0M377.5 450.3h0M377.8 451.8h0M377.9 452.2h0M378.0 453.8h0M377.7 454.9h0M377.6 456.5h0M377.6 456.8h0M377.6 458.3h0M378.1 459.7h0M377.9 460.7h0M378.1 462.2h0M377.6 463.8h0M378.6 450.3h0M379.0 451.4h0M378.9 452.9h0M379.3 454.1h0M379.2 455.0h0M378.8 455.9h0M379.1 457.4h0M378.9 458.5h0M379.2 459.5h0M379.2 460.9h0M378.6 461.6h0M378.6 462.7h0M379.1 468.5h0M378.6 476.0h0M380.2 450.3h0M379.7 451.9h0M380.0 452.7h0M379.9 453.8h0M380.5 455.0h0M380.3 456.3h0M380.0 457.1h0M379.8 458.3h0M380.2 459.5h0M380.2 460.4h0M380.1 461.7h0M380.0 462.9h0M380.0 467.3h0M381.2 450.3h0M381.2 451.5h0M381.2 452.2h0M381.6 453.3h0M381.1 455.1h0M380.9 455.9h0M380.9 457.1h0M381.5 458.1h0M381.7 460.0h0M381.2 460.5h0M381.1 462.1h0M382.0 450.3h0M382.2 451.5h0M382.4 453.0h0M382.3 453.8h0M382.7 454.9h0M382.6 455.8h0M382.2 457.4h0M382.8 458.4h0M382.5 459.8h0M382.7 460.3h0M382.1 464.1h0M383.2 450.3h0M383.9 451.9h0M383.8 452.9h0M383.2 453.4h0M384.0 455.2h0M383.9 456.5h0M383.9 457.4h0M385.1 450.3h0M385.0 451.1h0M384.4 452.7h0M384.4 453.8h0M384.9 455.3h0M385.2 455.7h0M384.5 456.9h0M384.6 459.5h0M384.4 461.5h0M384.5 464.2h0M386.1 450.3h0M385.7 451.2h0M385.6 452.6h0M385.9 454.2h0M386.2 454.8h0M385.5 456.4h0M385.9 457.4h0M386.3 460.9h0M386.3 463.1h0M387.4 450.3h0M387.2 451.1h0M387.2 452.2h0M387.4 453.4h0M387.5 455.0h0M387.1 456.1h0M386.9 456.9h0M386.8 458.1h0M386.8 460.6h0M387.0 465.5h0M388.2 450.3h0M388.6 451.6h0M388.5 453.0h0M388.4 453.8h0M388.6 454.6h0M387.8 456.2h0M388.6 457.6h0M387.9 458.8h0M388.1 459.3h0M389.2 450.3h0M389.0 451.9h0M389.0 452.3h0M389.3 453.6h0M389.0 454.9h0M389.7 456.4h0M389.5 457.4h0M389.8 458.0h0M389.4 462.8h0M390.6 450.3h0M390.4 451.8h0M390.2 452.7h0M390.8 453.7h0M390.8 455.0h0M390.2 456.1h0M390.8 457.0h0M390.2 458.0h0M391.6 450.3h0M391.9 451.2h0M391.4 452.7h0M391.4 453.6h0M391.9 455.0h0M391.6 455.9h0M392.1 457.3h0M391.3 458.4h0M391.7 459.8h0M391.3 460.4h0M392.8 450.3h0M392.4 451.5h0M393.2 452.3h0M392.5 453.8h0M392.7 454.6h0M392.7 456.3h0M392.4 457.1h0M392.6 458.5h0M392.7 459.5h0M394.0 450.3h0M394.3 451.6h0M394.2 452.3h0M393.9 453.5h0M393.9 454.7h0M394.3 455.8h0M394.3 456.8h0M394.0 458.7h0M393.5 459.1h0M393.6 460.9h0M394.1 461.7h0M394.0 462.7h0M393.9 464.4h0M394.3 466.5h0M393.5 468.3h0M394.9 450.3h0M395.2 451.1h0M395.0 452.4h0M394.9 453.4h0M395.2 454.8h0M395.5 456.3h0M395.0 457.0h0M394.8 458.6h0M394.9 459.6h0M395.3 460.4h0M394.7 462.0h0M395.5 463.2h0M394.9 464.2h0M395.3 467.7h0M394.7 468.7h0M396.1 450.3h0M396.0 451.7h0M396.1 452.3h0M396.0 454.0h0M396.4 454.8h0M396.6 455.9h0M396.4 456.9h0M396.6 458.6h0M395.9 459.4h0M396.7 460.7h0M396.4 462.0h0M396.3 463.0h0M396.1 464.5h0M395.8 465.7h0M396.5 474.3h0M397.4 450.3h0M397.8 451.1h0M397.1 452.5h0M397.8 453.8h0M397.2 454.7h0M397.2 456.4h0M397.5 457.4h0M397.7 458.1h0M397.6 459.6h0M397.2 460.6h0M397.5 462.0h0M397.8 463.2h0M397.4 463.9h0M397.0 467.7h0M398.5 450.3h0M398.6 451.5h0M398.7 453.0h0M398.6 453.5h0M398.7 455.2h0M398.4 455.7h0M398.5 456.8h0M398.3 458.5h0M398.4 459.9h0M398.4 460.4h0M398.9 461.7h0M398.5 464.5h0M398.3 469.7h0M399.8 450.3h0M399.6 451.5h0M399.7 452.3h0M399.9 453.4h0M399.7 455.2h0M399.5 456.1h0M399.4 457.4h0M399.9 458.6h0M399.8 459.3h0M399.7 460.6h0M399.9 461.5h0M399.6 465.0h0M401.3 450.3h0M401.0 451.3h0M401.1 452.6h0M401.1 453.9h0M400.8 454.5h0M400.5 456.0h0M401.1 457.6h0M401.0 458.6h0M401.0 459.9h0M400.9 460.5h0M400.9 461.7h0M400.8 462.7h0M401.0 464.5h0M401.2 467.7h0M400.8 468.6h0M402.2 450.3h0M401.6 451.8h0M402.2 452.6h0M402.0 454.0h0M402.1 454.7h0M402.2 455.6h0M402.3 457.2h0M402.0 458.5h0M401.9 459.4h0M402.4 460.9h0M402.4 462.3h0M402.0 465.4h0M401.6 467.2h0M401.6 471.4h0M402.0 479.0h0M403.4 450.3h0M402.9 451.7h0M403.2 452.4h0M403.6 453.9h0M403.5 455.1h0M403.5 456.3h0M403.5 457.1h0M403.2 458.6h0M403.1 459.8h0M402.7 460.3h0M403.0 461.9h0M402.7 463.2h0M403.5 463.7h0M404.6 450.3h0M404.2 451.6h0M404.3 452.6h0M404.3 453.6h0M404.3 454.5h0M404.7 456.2h0M403.9 456.9h0M404.6 458.7h0M404.4 459.3h0M403.9 460.3h0M404.5 461.9h0M404.5 462.9h0M404.3 463.8h0M403.9 465.4h0M404.1 468.8h0M405.7 450.3h0M405.5 451.4h0M405.3 452.4h0M405.8 454.2h0M405.2 455.0h0M405.9 455.8h0M405.2 457.2h0M405.1 458.5h0M405.1 459.5h0M405.1 460.6h0M405.4 461.5h0M405.7 463.0h0M405.4 464.0h0M405.0 466.5h0M406.6 450.3h0M407.0 451.8h0M407.0 452.6h0M406.4 453.5h0M406.5 454.7h0M406.9 456.2h0M406.5 456.8h0M406.6 458.2h0M406.9 459.1h0M406.8 460.6h0M406.6 462.0h0M406.8 472.3h0M407.8 450.3h0M407.7 451.3h0M407.6 453.0h0M408.1 454.0h0M407.5 455.2h0M407.8 456.1h0M407.7 457.3h0M407.9 458.4h0M407.7 459.4h0M407.4 460.9h0M407.8 461.5h0M407.5 462.7h0M407.9 469.1h0M407.5 470.1h0M409.1 450.3h0M408.5 451.5h0M409.1 452.2h0M408.9 454.0h0M408.6 455.2h0M408.5 455.6h0M409.3 457.1h0M408.6 458.6h0M409.3 459.2h0M408.7 460.2h0M408.8 461.9h0M408.5 462.7h0M409.1 464.3h0M408.6 465.2h0M408.9 466.4h0M409.1 467.7h0M409.6 450.3h0M410.3 451.8h0M410.2 452.7h0M409.6 454.2h0M409.9 455.0h0M410.4 456.4h0M409.9 456.9h0M410.1 458.6h0M410.0 459.2h0M409.9 460.4h0M410.1 462.2h0M409.9 463.4h0M409.7 464.1h0M409.7 470.6h0M410.0 478.8h0M411.3 450.3h0M410.8 451.2h0M410.9 452.8h0M411.3 453.9h0M410.9 455.3h0M411.4 455.9h0M411.5 457.1h0M411.3 458.3h0M410.8 459.9h0M411.0 460.8h0M411.0 461.7h0M411.1 462.7h0M410.8 464.0h0M411.5 467.3h0M411.9 450.3h0M412.7 451.6h0M412.5 452.9h0M412.1 453.9h0M412.4 455.1h0M412.4 456.2h0M412.2 457.1h0M412.5 458.6h0M412.7 459.7h0M412.2 460.5h0M412.0 462.2h0M412.1 463.0h0M412.7 464.6h0M412.1 468.0h0M412.8 468.6h0M413.6 450.3h0M413.5 451.4h0M413.1 452.9h0M413.6 453.4h0M413.5 455.4h0M413.2 455.6h0M413.9 457.6h0M413.1 458.8h0M413.3 459.9h0M413.6 461.0h0M413.7 462.2h0M413.8 462.9h0M413.8 463.8h0M415.1 450.3h0M414.5 451.5h0M414.5 452.8h0M415.1 453.4h0M414.2 455.3h0M415.0 456.1h0M414.4 457.3h0M414.5 458.4h0M415.1 459.6h0M414.3 460.4h0M414.3 461.9h0M414.6 463.3h0M414.7 464.3h0M415.0 465.4h0M414.4 466.1h0M414.5 470.6h0M416.1 450.3h0M415.7 451.5h0M416.0 453.0h0M415.6 454.1h0M416.0 454.9h0M415.7 456.1h0M415.4 456.8h0M415.6 458.2h0M415.6 459.3h0M416.2 460.7h0M416.2 462.0h0M415.8 463.0h0M416.1 464.5h0M415.6 465.5h0M415.4 466.5h0M416.2 469.2h0M417.4 450.3h0M417.3 451.5h0M416.7 452.8h0M416.5 453.5h0M417.0 455.2h0M417.4 456.2h0M417.0 456.9h0M416.6 458.1h0M417.3 459.2h0M416.9 460.8h0M417.0 461.6h0M416.8 462.8h0M416.9 464.2h0M416.7 465.2h0M416.8 469.9h0M417.4 472.6h0M418.5 450.3h0M418.3 451.7h0M418.4 453.0h0M418.4 453.6h0M418.4 455.0h0M417.8 456.1h0M418.0 457.4h0M417.7 458.5h0M417.8 459.8h0M417.7 461.1h0M417.7 462.0h0M417.7 462.8h0M418.5 463.8h0M417.7 469.0h0M418.1 470.1h0M419.0 450.3h0M419.4 451.3h0M419.3 452.7h0M419.1 453.8h0M419.5 454.9h0M419.0 455.7h0M419.2 456.9h0M418.9 458.0h0M419.0 459.5h0M419.1 460.2h0M419.5 461.5h0M419.4 463.4h0M419.0 465.5h0M418.9 466.3h0M420.1 450.3h0M420.5 451.2h0M420.3 452.2h0M420.4 453.4h0M420.7 455.0h0M420.8 456.5h0M420.3 457.1h0M420.4 458.6h0M420.5 459.7h0M420.3 460.5h0M420.2 461.4h0M420.8 463.4h0M420.6 464.2h0M420.8 466.3h0M421.6 450.3h0M421.3 451.5h0M421.1 452.8h0M421.5 453.5h0M421.9 455.2h0M421.4 456.5h0M421.8 456.8h0M421.1 458.8h0M421.3 459.2h0M421.1 460.8h0M421.9 461.4h0M421.7 462.7h0M421.5 465.7h0M421.8 466.1h0M421.2 477.1h0M422.3 450.3h0M423.0 451.1h0M422.4 452.5h0M423.0 453.6h0M422.7 454.9h0M422.5 456.0h0M422.9 457.5h0M422.7 458.7h0M422.9 459.9h0M422.4 460.3h0M422.3 462.2h0M422.6 463.1h0M422.8 465.6h0M422.3 467.6h0M423.9 450.3h0M424.0 451.7h0M423.7 452.6h0M424.1 453.4h0M424.2 454.7h0M423.6 456.5h0M423.4 457.2h0M424.2 458.0h0M423.5 460.0h0M423.6 461.1h0M423.9 462.0h0M423.8 463.2h0M423.5 466.1h0M424.0 470.2h0M424.0 472.4h0M424.7 450.3h0M425.3 451.4h0M424.8 452.5h0M425.3 453.4h0M424.9 454.6h0M425.1 456.4h0M424.8 457.0h0M425.2 458.2h0M425.0 459.9h0M424.7 461.0h0M425.1 461.8h0M425.3 462.6h0M425.0 465.7h0M426.5 450.3h0M425.7 451.4h0M425.9 452.4h0M426.0 453.7h0M426.2 455.2h0M426.0 456.2h0M426.3 457.6h0M426.3 458.6h0M426.4 460.0h0M426.3 460.7h0M426.0 462.2h0M425.8 463.4h0M425.8 464.2h0M426.5 467.9h0M425.9 470.3h0M427.5 450.3h0M427.4 451.5h0M427.0 452.7h0M427.7 454.2h0M426.9 454.8h0M427.4 456.2h0M426.9 457.1h0M427.6 458.7h0M427.7 459.5h0M427.3 460.5h0M427.4 461.7h0M427.0 462.7h0M427.2 464.8h0M427.4 469.1h0M428.1 450.3h0M428.6 451.6h0M428.3 452.5h0M428.7 453.8h0M428.4 454.5h0M428.8 455.6h0M428.1 457.2h0M428.4 457.9h0M428.5 459.8h0M428.3 460.5h0M428.3 462.0h0M428.5 463.2h0M429.8 450.3h0M429.8 451.8h0M430.0 453.0h0M429.3 453.9h0M429.6 454.6h0M429.2 456.4h0M429.3 457.1h0M429.5 458.2h0M429.5 459.8h0M429.8 460.9h0M429.2 462.2h0M429.6 463.7h0M431.0 450.3h0M430.6 451.5h0M431.2 452.4h0M430.8 454.1h0M430.5 455.3h0M430.8 456.4h0M431.1 457.6h0M430.8 458.1h0M430.7 459.5h0M430.9 460.7h0M430.4 463.4h0M431.9 450.3h0M432.3 451.3h0M432.0 452.7h0M432.0 454.0h0M431.5 454.9h0M431.6 456.4h0M432.0 457.2h0M432.0 458.6h0M431.6 459.2h0M432.3 460.4h0M432.3 461.5h0M433.2 450.3h0M433.2 451.1h0M433.0 452.7h0M432.8 453.6h0M432.9 454.6h0M432.8 455.8h0M432.7 456.8h0M433.3 458.3h0M432.7 459.8h0M433.0 460.7h0M432.8 462.1h0M432.7 466.9h0M433.8 450.3h0M433.9 451.9h0M433.9 452.3h0M434.4 453.6h0M434.3 454.7h0M433.8 455.7h0M434.4 457.0h0M434.1 458.1h0M434.1 459.8h0M433.9 460.8h0M434.2 461.7h0M434.4 463.3h0M434.1 463.7h0M433.8 468.0h0M435.6 450.3h0M435.1 451.6h0M435.0 452.9h0M435.2 453.5h0M434.9 454.8h0M435.0 456.0h0M435.8 457.5h0M435.5 458.3h0M435.3 460.0h0M435.6 460.7h0M435.1 462.1h0M435.7 462.6h0M435.6 463.9h0M435.6 465.2h0M435.2 467.9h0M435.3 468.5h0M436.6 450.3h0M436.8 451.7h0M436.5 452.5h0M436.7 454.1h0M436.8 455.1h0M436.2 455.8h0M436.1 457.5h0M436.6 458.5h0M436.7 459.7h0M436.2 460.7h0M436.9 462.2h0M436.9 463.2h0M436.1 464.1h0M436.5 465.0h0M436.6 466.7h0M436.5 475.4h0M437.3 450.3h0M437.8 451.8h0M437.8 452.8h0M437.2 453.8h0M437.3 455.1h0M438.1 455.6h0M437.4 456.8h0M437.9 458.3h0M437.5 459.4h0M437.3 460.8h0M437.5 462.2h0M437.5 463.0h0M438.0 463.8h0M437.7 465.6h0M437.6 466.1h0M437.3 467.8h0M437.4 471.4h0M437.4 474.3h0M437.4 481.8h0M438.9 450.3h0M438.8 451.7h0M439.1 452.3h0M438.5 453.3h0M438.9 454.7h0M438.4 455.8h0M438.5 457.2h0M438.5 458.3h0M438.6 459.9h0M439.0 460.5h0M438.8 462.0h0M439.0 463.1h0M438.6 464.3h0M438.8 465.4h0M438.9 466.2h0M439.1 467.4h0M439.1 471.8h0M438.7 473.4h0M439.8 450.3h0M440.1 451.7h0M440.0 452.7h0M440.4 453.8h0M440.4 455.0h0M440.1 456.0h0M439.9 456.9h0M440.2 458.0h0M439.5 459.8h0M440.0 461.0h0M440.0 461.7h0M439.9 463.0h0M439.7 463.7h0M440.0 465.1h0M440.1 468.0h0M440.3 470.1h0M439.7 471.2h0M440.0 473.8h0M440.4 474.7h0M440.9 450.3h0M441.4 451.2h0M440.7 453.0h0M440.7 453.9h0M440.9 455.1h0M441.0 455.9h0M441.0 457.5h0M440.8 458.4h0M441.2 459.4h0M441.4 460.6h0M440.9 461.6h0M441.3 463.1h0M441.5 463.7h0M441.2 465.3h0M441.4 467.3h0M442.2 450.3h0M442.6 451.1h0M442.4 452.8h0M442.5 453.5h0M442.6 454.7h0M442.2 455.7h0M442.3 456.9h0M442.0 458.3h0M442.6 459.8h0M442.0 460.5h0M442.1 462.1h0M442.7 462.9h0M442.6 463.8h0M442.6 465.5h0M443.7 450.3h0M443.3 451.3h0M443.5 452.5h0M443.6 453.9h0M443.3 454.9h0M443.5 455.8h0M443.5 457.4h0M443.3 458.8h0M443.7 459.9h0M443.8 460.4h0M443.7 462.1h0M443.5 463.1h0M443.8 465.7h0M443.2 466.6h0M444.2 450.3h0M444.2 451.3h0M445.0 452.8h0M444.5 453.9h0M444.2 454.9h0M444.6 455.7h0M444.8 457.7h0M444.7 458.2h0M444.1 459.2h0M444.1 460.4h0M444.9 461.9h0M444.5 468.9h0M445.7 450.3h0M445.8 451.8h0M445.3 452.3h0M445.9 453.8h0M445.4 455.2h0M445.6 455.8h0M446.0 456.8h0M445.5 457.9h0M445.3 459.7h0M446.1 463.2h0M446.8 450.3h0M446.8 451.8h0M446.9 452.7h0M446.6 453.4h0M446.6 454.5h0M446.5 456.1h0M446.7 457.3h0M447.2 458.5h0M446.8 459.8h0M447.2 460.3h0M446.9 461.8h0M446.4 464.0h0M446.8 469.1h0M447.0 472.3h0M448.1 450.3h0M447.8 451.5h0M447.6 452.2h0M448.1 453.9h0M448.0 455.1h0M447.9 456.0h0M447.8 457.3h0M447.7 458.8h0M447.7 459.7h0M448.2 460.5h0M448.4 461.5h0M448.1 463.0h0M447.7 465.0h0M449.0 450.3h0M449.2 451.3h0M449.5 453.1h0M449.1 453.8h0M448.9 455.2h0M449.4 456.2h0M449.4 456.9h0M449.0 458.5h0M449.5 459.4h0M448.8 460.4h0M448.8 462.0h0M449.4 462.6h0M448.9 464.4h0M449.1 464.9h0M449.6 473.6h0M450.2 450.3h0M450.7 451.5h0M450.2 453.0h0M450.5 453.4h0M450.6 455.0h0M450.3 456.2h0M450.5 457.7h0M450.5 458.5h0M450.2 459.6h0M450.5 460.6h0M450.0 461.9h0M450.6 462.7h0M450.6 463.8h0M450.0 465.5h0M450.6 466.4h0M450.1 471.2h0M451.7 450.3h0M451.0 451.5h0M451.4 452.9h0M451.6 453.6h0M451.8 454.6h0M451.3 456.2h0M451.7 457.4h0M451.2 458.0h0M451.7 459.6h0M451.4 460.6h0M451.5 461.8h0M451.5 462.7h0M451.7 464.2h0M451.5 465.7h0M451.5 468.0h0M451.2 468.5h0M451.4 476.8h0M452.7 450.3h0M453.0 451.4h0M452.7 452.9h0M452.7 454.0h0M452.9 454.9h0M452.5 455.8h0M452.6 456.9h0M452.7 458.4h0M452.9 459.7h0M453.0 461.1h0M452.2 461.8h0M452.8 462.8h0M453.0 464.4h0M452.5 465.1h0M452.9 466.2h0M452.3 468.0h0M453.7 450.3h0M453.6 451.6h0M454.1 452.9h0M454.0 454.2h0M453.9 455.4h0M453.8 456.2h0M453.9 457.1h0M453.9 458.5h0M454.1 459.9h0M453.4 460.7h0M453.6 462.3h0M453.6 463.4h0M453.5 464.5h0M453.9 465.1h0M453.5 473.8h0M454.7 450.3h0M455.0 451.1h0M454.8 452.8h0M454.8 454.0h0M455.3 454.8h0M455.0 456.0h0M455.0 456.9h0M455.3 458.0h0M454.6 459.5h0M455.2 460.9h0M454.5 461.6h0M455.0 462.6h0M455.3 464.0h0M455.2 468.8h0M455.9 450.3h0M455.8 451.5h0M456.1 452.7h0M456.3 453.5h0M456.2 455.3h0M456.3 456.3h0M456.3 457.1h0M455.9 458.2h0M456.1 459.4h0M456.0 460.8h0M455.7 462.1h0M456.4 463.1h0M456.5 466.6h0M457.6 450.3h0M457.5 451.5h0M457.4 452.5h0M457.4 453.8h0M457.3 455.3h0M457.5 455.6h0M456.9 457.2h0M457.4 458.3h0M457.4 459.2h0M457.1 460.9h0M457.4 464.9h0M458.5 450.3h0M458.8 451.7h0M458.4 452.6h0M458.7 454.2h0M458.0 454.7h0M458.3 455.7h0M458.0 457.6h0M458.1 458.2h0M458.0 459.4h0M458.3 462.6h0M458.7 464.3h0M459.9 450.3h0M459.8 451.3h0M459.4 453.0h0M459.3 454.1h0M459.7 455.2h0M459.8 455.7h0M459.2 457.1h0M459.1 458.0h0M459.9 459.4h0M460.2 450.3h0M460.4 451.5h0M461.1 452.4h0M460.3 453.3h0M460.5 454.6h0M460.3 455.9h0M460.5 457.3h0M461.0 458.3h0M461.0 465.1h0M461.5 450.3h0M461.4 451.3h0M461.8 453.1h0M461.6 454.2h0M462.0 454.5h0M462.2 455.6h0M461.6 457.2h0M461.8 458.2h0M462.2 463.0h0M463.1 450.3h0M463.2 451.3h0M462.6 452.4h0M462.7 454.1h0M462.5 455.0h0M462.8 455.9h0M462.6 457.7h0M463.3 458.8h0M462.8 459.2h0M464.4 450.3h0M464.5 451.2h0M464.2 452.4h0M464.2 454.0h0M464.4 455.3h0M463.7 455.7h0M464.0 457.1h0M464.0 458.4h0M464.1 459.9h0M464.2 465.0h0M464.9 450.3h0M465.5 451.5h0M465.3 452.9h0M465.3 454.1h0M465.4 455.3h0M465.1 455.9h0M465.4 457.7h0M465.0 458.2h0M465.0 459.1h0M466.3 450.3h0M466.0 451.2h0M466.4 453.1h0M466.6 453.4h0M466.5 454.6h0M466.1 456.5h0M466.6 457.6h0M466.6 458.1h0M467.4 450.3h0M467.5 451.4h0M467.8 453.0h0M467.8 454.1h0M468.0 455.2h0M467.3 456.3h0M467.4 457.0h0M467.2 458.8h0M468.3 450.3h0M469.0 451.5h0M468.5 452.6h0M468.4 454.0h0M468.7 454.5h0M468.8 456.3h0M469.1 458.7h0M469.6 450.3h0M469.9 451.8h0M470.3 452.3h0M469.4 453.6h0M469.6 455.4h0M469.7 456.3h0M470.1 457.2h0M471.1 450.3h0M470.9 451.3h0M470.8 453.0h0M471.1 453.9h0M470.7 455.1h0M470.8 456.5h0M471.9 450.3h0M472.4 451.5h0M472.0 452.8h0M472.3 454.0h0M472.3 454.9h0M472.1 456.3h0M472.6 457.0h0M473.4 450.3h0M473.3 451.3h0M473.0 453.0h0M473.2 453.8h0M473.5 455.0h0M474.3 450.3h0M474.9 451.6h0M474.1 452.4h0M474.6 453.6h0M474.5 454.5h0M474.2 456.0h0M475.6 450.3h0M475.7 451.6h0M475.7 452.9h0M475.7 453.6h0M475.7 454.8h0M475.8 455.8h0M476.6 450.3h0M477.1 451.4h0M477.1 452.9h0M477.2 453.7h0M477.1 454.7h0M476.3 455.8h0M476.6 459.4h0M478.1 450.3h0M478.2 451.8h0M477.5 452.4h0M478.1 454.1h0M477.7 455.0h0M478.0 455.9h0M479.1 450.3h0M478.7 451.2h0M478.8 452.4h0M479.0 453.6h0M479.2 454.9h0M480.2 450.3h0M480.1 451.5h0M479.9 452.3h0M480.5 454.0h0M480.4 455.3h0M480.5 456.2h0M480.1 458.1h0M481.1 450.3h0M481.4 451.7h0M481.0 452.4h0M481.6 454.1h0M481.4 454.8h0M482.5 450.3h0M482.4 451.0h0M482.5 452.2h0M482.9 453.5h0M482.1 455.7h0M483.6 450.3h0M483.8 451.5h0M483.4 452.4h0M483.6 453.7h0M483.9 455.1h0M484.8 450.3h0M484.5 451.9h0M484.6 452.9h0M485.1 453.9h0M484.5 454.5h0M485.7 450.3h0M485.5 451.4h0M485.6 452.2h0M486.1 453.4h0M486.7 450.3h0M487.0 451.7h0M486.7 453.0h0M488.4 450.3h0M488.1 451.6h0M488.6 452.2h0M489.2 450.3h0M489.1 451.1h0M489.4 452.3h0M489.8 455.8h0M490.3 450.3h0M490.1 451.5h0M490.4 452.3h0M491.9 450.3h0M491.9 451.4h0M492.6 450.3h0M493.3 451.2h0M493.8 450.3h0M494.7 450.3h0M495.3 451.4h0M496.2 450.3h0M497.3 450.3h0M498.6 450.3h0M499.7 450.3h0M500.9 450.3h0M502.0 450.3h0M503.2 450.3h0M504.3 450.3h0M316.4 450.3h0M317.5 450.3h0M317.5 456.1h0M317.0 460.0h0M327.7 457.6h0M330.5 456.5h0M338.2 457.6h0M332.7 469.2h0M337.1 468.1h0M338.8 472.5h0M347.6 470.3h0M351.7 460.9h0M358.9 461.5h0M349.7 517.2h0M342.1 538.4h0M363.7 542.3h0M386.6 546.0h0M365.5 464.8h0M366.6 468.1h0M366.6 476.8h0M368.7 475.7h0M370.9 480.1h0M369.8 468.1h0M373.1 470.3h0M375.3 472.5h0M378.6 475.7h0M377.5 464.8h0M382.9 469.2h0M383.6 477.9h0M384.0 480.1h0M384.0 482.3h0M389.5 477.9h0M389.9 481.2h0M393.8 475.7h0M394.9 473.5h0M392.7 485.5h0M398.2 475.7h0M399.3 477.9h0M399.3 482.3h0M400.4 485.5h0M384.0 487.7h0M381.8 490.3h0M370.3 495.8h0M386.8 495.4h0M385.5 501.5h0M385.5 506.9h0M373.1 506.3h0M375.3 507.4h0M384.7 512.4h0M385.1 513.9h0M385.1 515.7h0M398.8 493.6h0M404.7 487.7h0M408.0 487.7h0M412.4 487.7h0M412.4 489.9h0M398.2 507.8h0M397.1 528.8h0M406.9 512.8h0M409.8 517.2h0M414.6 505.2h0M417.8 506.3h0M419.6 507.8h0M419.6 516.1h0M415.6 481.2h0M417.8 483.4h0M408.0 470.3h0M409.1 472.5h0M415.6 473.5h0M418.9 475.7h0M505.2 450.3h0M509.8 450.3h0M512.7 450.3h0M520.0 450.3h0M527.3 450.3h0M531.4 450.3h0M530.7 468.7h0M420.0 486.2h0M420.0 498.7h0M420.0 507.8h0M420.0 515.7h0M423.4 503.2h0M424.5 473.7h0M423.4 479.4h0M428.0 482.1h0M428.0 490.7h0M428.0 492.5h0M431.4 497.5h0M433.2 499.8h0M434.1 491.4h0M437.0 495.3h0M437.0 481.6h0M440.5 507.8h0M442.3 503.2h0M445.0 483.9h0M445.5 494.8h0M449.1 511.2h0M449.5 491.9h0M451.4 513.5h0M451.8 480.5h0M453.6 490.7h0M453.6 498.7h0M454.1 481.6h0M454.1 485.0h0M454.1 514.6h0M454.5 516.9h0M454.5 518.7h0M457.5 477.1h0M465.5 515.7h0M468.2 516.4h0M467.7 501.6h0M466.6 479.8h0M468.9 472.5h0M474.5 473.7h0M475.0 464.6h0M480.2 472.5h0M480.2 482.1h0M479.5 487.8h0M480.9 466.9h0M483.6 471.4h0M484.8 495.3h0M491.6 477.8h0M490.9 461.2h0M495.5 458.5h0M500.2 460.0h0M499.5 453.9h0M426.4 541.4h0M427.3 540.7h0M463.2 470.3h0M450.7 473.7h0M445.0 478.2h0M440.5 477.1h0M433.6 473.7h0" stroke="#1f77b4" stroke-width="3.9" stroke-linecap="round" fill="none"/>
<path d="M327.20 551.28v3.2M374.60 551.28v3.2M422.00 551.28v3.2M469.40 551.28v3.2M516.80 551.28v3.2M305.70 450.33h-3.2M305.70 481.98h-3.2M305.70 513.63h-3.2M305.70 545.28h-3.2" stroke="#111" stroke-width="1.0" fill="none"/>
<rect x="305.7" y="445.48" width="236.30" height="105.8" fill="none" stroke="#262626" stroke-width="1.0"/>
<text x="327.20" y="565.40" text-anchor="middle">2</text>
<text x="374.60" y="565.40" text-anchor="middle">3</text>
<text x="422.00" y="565.40" text-anchor="middle">4</text>
<text x="469.40" y="565.40" text-anchor="middle">5</text>
<text x="516.80" y="565.40" text-anchor="middle">6</text>
<text x="423.85" y="578.78" text-anchor="middle">Wind speed</text>
<rect x="491.55" y="529.48" width="45.85" height="17.0" rx="1.6" fill="#fff" fill-opacity="0.8" stroke="#d0d0d0" stroke-width="0.8"/>
<text x="494.65" y="541.08" font-size="9.5"><tspan font-style="italic">r</tspan> = 0.01</text>
</g>
<g>
<path d="M61.3 596.5h0M61.3 596.5h0M62.6 596.5h0M64.0 596.5h0M64.9 596.5h0M66.6 596.5h0M67.5 596.5h0M68.9 596.5h0M69.9 596.5h0M70.5 596.5h0M72.1 596.5h0M73.3 596.5h0M73.9 596.5h0M75.1 596.5h0M76.6 596.5h0M77.6 596.5h0M79.0 596.5h0M79.9 596.5h0M81.6 596.5h0M81.9 596.5h0M83.2 596.5h0M84.9 596.5h0M85.4 596.5h0M86.6 596.5h0M88.0 596.5h0M89.4 596.5h0M90.7 596.5h0M91.4 596.5h0M93.0 596.5h0M94.2 596.5h0M94.8 596.5h0M96.3 596.5h0M96.9 596.5h0M98.1 596.5h0M99.6 596.5h0M100.4 596.5h0M102.0 596.5h0M102.9 596.5h0M103.8 596.5h0M105.4 596.5h0M106.7 596.5h0M107.2 596.5h0M108.8 596.5h0M109.8 596.5h0M110.7 596.5h0M112.4 596.5h0M113.3 596.5h0M114.8 596.5h0M116.0 596.5h0M116.9 596.5h0M117.6 596.5h0M118.7 596.5h0M120.7 596.5h0M121.1 596.5h0M123.0 596.5h0M124.1 596.5h0M124.4 596.5h0M126.4 596.5h0M127.5 596.5h0M128.3 596.5h0M129.1 596.5h0M130.4 596.5h0M131.6 596.5h0M132.9 596.5h0M133.6 596.5h0M135.0 596.5h0M136.0 596.5h0M137.6 596.5h0M138.4 596.5h0M139.8 596.5h0M141.2 596.5h0M141.8 596.5h0M143.1 596.5h0M144.5 596.5h0M145.2 596.5h0M146.6 596.5h0M148.1 596.5h0M148.6 596.5h0M150.6 596.5h0M151.2 596.5h0M152.4 596.5h0M153.4 596.5h0M154.8 596.5h0M156.1 596.5h0M156.8 596.5h0M157.8 596.5h0M159.1 596.5h0M160.9 596.5h0M161.9 596.5h0M163.0 596.5h0M164.0 596.5h0M165.4 596.5h0M166.7 596.5h0M167.4 596.5h0M168.2 596.5h0M169.5 596.5h0M171.1 596.5h0M171.7 596.5h0M172.9 596.5h0M173.9 596.5h0M175.1 596.5h0M176.6 596.5h0M177.4 596.5h0M178.7 596.5h0M179.6 596.5h0M181.5 596.5h0M182.5 596.5h0M183.5 596.5h0M184.4 596.5h0M185.7 596.5h0M186.7 596.5h0M188.3 596.5h0M188.9 596.5h0M190.0 596.5h0M191.7 596.5h0M192.7 596.5h0M193.7 596.5h0M194.8 596.5h0M196.5 596.5h0M197.1 596.5h0M198.7 596.5h0M199.2 596.5h0M200.6 596.5h0M201.6 596.5h0M203.4 596.5h0M204.5 596.5h0M205.5 596.5h0M206.1 596.5h0M208.0 596.5h0M208.7 596.5h0M210.2 596.5h0M211.3 596.5h0M212.3 596.5h0M213.1 596.5h0M214.9 596.5h0M215.7 596.5h0M216.9 596.5h0M217.8 596.5h0M219.0 596.5h0M61.9 597.8h0M62.5 597.4h0M64.0 597.7h0M64.8 597.7h0M65.9 597.4h0M66.9 597.7h0M68.2 597.8h0M69.7 598.0h0M70.4 597.4h0M72.2 597.6h0M73.2 597.9h0M73.9 597.6h0M75.5 597.2h0M76.7 597.9h0M77.3 598.0h0M78.6 598.0h0M79.9 598.0h0M81.4 597.6h0M82.0 598.1h0M83.7 598.1h0M85.0 597.6h0M85.9 597.3h0M86.7 597.4h0M88.4 597.3h0M89.5 597.5h0M90.7 597.4h0M91.9 597.6h0M92.7 598.0h0M93.5 597.9h0M95.4 597.5h0M96.2 597.4h0M96.9 598.0h0M98.7 597.8h0M99.3 597.4h0M100.7 597.5h0M101.5 597.7h0M102.8 597.8h0M104.1 597.6h0M105.2 597.6h0M106.4 597.6h0M107.7 598.0h0M108.4 597.7h0M109.6 597.5h0M110.8 597.4h0M112.5 598.1h0M113.5 597.7h0M114.1 597.5h0M115.9 597.2h0M116.7 597.3h0M118.4 597.6h0M118.9 598.0h0M120.6 597.3h0M121.5 598.0h0M122.1 597.7h0M123.6 597.5h0M125.0 597.6h0M126.3 597.6h0M127.0 597.4h0M128.1 597.4h0M129.3 597.4h0M131.4 597.2h0M132.5 598.1h0M133.6 597.2h0M135.1 597.9h0M136.0 597.5h0M137.7 597.7h0M138.8 597.4h0M139.4 597.2h0M142.8 597.2h0M147.5 597.3h0M153.4 597.5h0M156.7 597.7h0M159.5 597.6h0M166.6 597.4h0M169.6 597.5h0M172.9 597.9h0M178.8 598.0h0M208.9 598.0h0M62.0 598.4h0M62.3 598.4h0M63.6 598.6h0M65.2 599.1h0M65.8 598.4h0M67.3 598.6h0M68.1 599.0h0M69.5 598.9h0M71.2 599.1h0M71.6 599.1h0M73.5 598.8h0M74.5 598.5h0M75.3 599.2h0M77.0 599.0h0M77.3 598.6h0M78.5 598.9h0M79.6 598.9h0M80.8 598.4h0M82.6 598.7h0M83.3 598.8h0M84.5 598.6h0M86.0 598.7h0M86.8 598.7h0M87.8 598.4h0M89.0 598.9h0M90.4 598.9h0M91.6 599.0h0M92.7 598.3h0M93.6 598.8h0M95.2 598.9h0M96.2 598.6h0M97.2 598.8h0M98.5 598.7h0M99.7 598.8h0M100.6 599.0h0M101.4 598.7h0M102.7 599.1h0M104.3 598.6h0M105.5 599.2h0M106.7 598.5h0M107.6 599.0h0M108.8 598.8h0M109.5 599.1h0M111.2 598.4h0M112.6 599.0h0M113.1 599.0h0M114.3 598.6h0M116.0 598.8h0M116.6 599.0h0M117.8 598.4h0M123.5 598.6h0M124.9 598.9h0M126.4 598.7h0M137.5 598.7h0M164.9 598.8h0M61.3 599.9h0M61.6 599.9h0M63.2 600.3h0M64.1 599.9h0M65.3 599.5h0M66.0 599.5h0M67.3 599.8h0M68.1 600.3h0M69.4 599.6h0M70.9 599.9h0M72.1 599.9h0M72.7 600.2h0M74.0 599.7h0M75.3 600.1h0M76.4 599.9h0M77.7 599.9h0M79.0 599.5h0M80.4 599.6h0M80.8 600.2h0M82.6 600.2h0M83.1 599.7h0M84.7 600.2h0M85.5 600.2h0M86.5 600.2h0M88.2 600.1h0M89.3 600.1h0M90.6 599.8h0M91.6 599.9h0M92.6 600.3h0M93.8 600.3h0M95.3 600.2h0M95.7 599.6h0M97.5 599.5h0M98.8 599.8h0M99.3 599.8h0M101.1 599.8h0M102.0 599.7h0M102.8 599.5h0M108.5 600.4h0M109.5 599.9h0M110.8 600.2h0M122.3 599.8h0M183.9 599.8h0M61.3 601.1h0M61.8 601.2h0M62.6 600.9h0M63.6 601.4h0M65.4 601.3h0M65.9 600.9h0M67.5 600.8h0M68.2 600.7h0M69.9 601.5h0M70.4 601.5h0M71.8 601.4h0M72.8 601.5h0M74.1 600.9h0M75.7 601.1h0M76.7 601.1h0M77.9 601.2h0M79.0 601.4h0M80.0 600.9h0M81.2 601.0h0M82.5 600.9h0M83.4 601.0h0M84.8 601.2h0M85.5 601.5h0M86.5 600.8h0M87.9 601.0h0M89.1 600.8h0M90.1 600.7h0M91.2 601.1h0M92.9 601.2h0M93.7 600.9h0M95.0 600.9h0M96.0 601.0h0M105.1 600.7h0M129.4 600.9h0M61.3 602.4h0M62.5 602.1h0M63.9 602.6h0M65.1 602.4h0M66.4 602.5h0M67.2 602.3h0M68.2 602.6h0M69.7 602.0h0M70.4 602.6h0M71.7 602.5h0M72.9 602.6h0M74.4 602.6h0M75.8 602.5h0M76.5 602.4h0M77.5 602.6h0M79.0 602.5h0M79.8 601.9h0M81.1 602.4h0M82.0 602.1h0M83.4 602.7h0M85.6 601.8h0M87.1 601.8h0M88.3 602.0h0M89.3 601.9h0M93.9 601.8h0M176.9 601.9h0M61.8 603.6h0M62.6 603.0h0M64.0 603.4h0M64.6 603.3h0M66.3 603.3h0M67.7 603.5h0M68.2 603.5h0M70.0 603.4h0M71.2 603.3h0M71.9 603.8h0M72.7 603.6h0M73.8 603.5h0M75.7 603.6h0M76.9 603.4h0M77.8 603.2h0M78.9 603.2h0M80.0 603.1h0M81.5 603.4h0M82.4 603.2h0M88.9 603.8h0M61.3 604.4h0M61.6 604.4h0M63.1 604.9h0M64.3 604.4h0M64.7 604.8h0M66.6 604.4h0M67.1 604.7h0M68.6 604.7h0M69.5 604.5h0M71.2 604.9h0M72.2 604.5h0M72.8 604.5h0M74.1 604.5h0M75.0 604.9h0M76.2 604.4h0M77.7 604.5h0M79.0 604.2h0M81.5 604.8h0M61.3 605.5h0M61.7 606.0h0M63.1 606.0h0M63.5 606.1h0M64.6 605.9h0M66.0 606.0h0M67.4 605.9h0M68.2 606.0h0M69.8 605.4h0M70.4 605.5h0M72.2 605.4h0M72.9 606.0h0M74.3 605.8h0M75.1 605.5h0M76.1 605.5h0M77.7 605.5h0M61.8 606.6h0M62.8 606.5h0M64.0 607.2h0M65.1 606.7h0M66.6 607.2h0M67.0 607.2h0M68.6 606.4h0M69.4 607.2h0M71.0 607.2h0M72.0 606.5h0M73.2 606.8h0M74.6 606.5h0M75.6 606.8h0M76.2 607.3h0M62.8 608.1h0M64.2 607.9h0M65.1 607.6h0M66.4 608.0h0M67.6 607.7h0M68.8 608.0h0M69.6 607.8h0M71.1 607.6h0M72.2 607.6h0M72.7 607.9h0M73.8 608.4h0M75.6 607.5h0M61.6 609.3h0M63.1 609.2h0M63.9 609.5h0M65.1 609.0h0M66.4 608.9h0M67.0 609.6h0M68.9 609.1h0M69.7 609.2h0M70.6 609.5h0M71.8 609.5h0M73.3 609.2h0M73.8 609.3h0M75.7 608.8h0M61.7 609.9h0M62.9 610.0h0M63.9 610.0h0M65.4 610.1h0M66.6 610.1h0M67.5 610.3h0M68.1 610.0h0M69.6 610.7h0M71.0 610.6h0M71.8 610.1h0M73.5 610.3h0M74.4 610.6h0M61.9 611.5h0M62.9 611.9h0M63.6 611.8h0M65.4 611.3h0M66.6 611.6h0M67.2 611.4h0M68.2 611.7h0M69.7 611.0h0M71.1 611.6h0M71.8 611.7h0M73.2 611.2h0M74.2 611.2h0M61.8 613.0h0M62.9 612.5h0M63.6 612.3h0M64.8 612.7h0M65.9 612.8h0M67.6 612.6h0M68.4 612.5h0M69.9 612.5h0M70.4 612.8h0M72.2 612.7h0M62.0 613.9h0M63.1 613.9h0M64.1 613.4h0M65.4 613.5h0M65.8 614.0h0M67.6 613.9h0M68.5 613.6h0M69.6 614.0h0M70.6 613.4h0M71.5 613.3h0M73.0 613.3h0M61.4 614.8h0M62.5 614.5h0M63.5 614.9h0M65.3 614.7h0M65.8 615.2h0M67.4 615.0h0M68.4 615.1h0M69.9 615.0h0M70.8 614.6h0M61.3 615.9h0M62.0 615.7h0M62.9 616.4h0M63.5 616.2h0M65.3 615.7h0M65.9 616.2h0M67.7 616.1h0M68.3 616.2h0M70.0 615.8h0M71.0 616.3h0M62.9 616.8h0M63.7 617.0h0M64.8 617.1h0M65.8 617.4h0M67.7 617.6h0M68.9 617.4h0M69.6 617.6h0M70.5 617.3h0M61.8 618.8h0M62.8 618.0h0M63.6 618.1h0M65.0 617.9h0M66.3 618.7h0M67.3 618.0h0M68.8 618.5h0M69.5 618.1h0M70.7 618.1h0M72.3 618.2h0M62.9 619.2h0M63.9 619.7h0M65.2 619.1h0M65.9 619.4h0M67.0 619.6h0M68.2 619.3h0M69.7 619.3h0M61.3 620.5h0M61.4 620.4h0M62.5 620.2h0M63.9 620.2h0M65.0 620.4h0M66.5 620.2h0M67.3 620.9h0M68.4 621.0h0M69.9 620.2h0M70.4 620.4h0M72.3 620.7h0M61.3 621.6h0M61.5 622.0h0M62.4 621.8h0M63.7 622.1h0M65.3 622.2h0M66.6 621.5h0M67.4 621.5h0M68.7 621.9h0M69.7 621.7h0M61.3 623.0h0M61.9 622.9h0M63.1 623.1h0M64.0 622.6h0M65.5 622.5h0M66.6 623.1h0M67.0 622.8h0M68.4 622.7h0M62.0 624.4h0M63.0 624.2h0M63.7 624.5h0M65.5 624.2h0M65.9 624.5h0M67.4 623.9h0M68.2 624.3h0M61.3 624.9h0M61.7 625.3h0M62.9 625.7h0M63.8 625.1h0M65.4 625.4h0M65.9 625.6h0M67.7 625.3h0M68.8 625.1h0M61.3 626.3h0M61.6 626.6h0M62.4 626.3h0M63.6 626.6h0M64.8 626.0h0M66.3 626.6h0M67.1 626.0h0M61.4 627.7h0M62.9 627.9h0M64.2 627.4h0M64.9 627.6h0M66.1 627.6h0M67.1 627.4h0M61.7 628.8h0M62.8 629.0h0M63.6 628.8h0M65.4 628.8h0M66.5 628.7h0M67.0 628.7h0M62.0 630.2h0M62.5 629.7h0M63.8 629.6h0M65.2 629.7h0M66.4 630.1h0M61.8 630.8h0M62.8 630.8h0M64.0 631.0h0M64.6 630.6h0M66.6 631.0h0M61.7 631.8h0M62.5 632.0h0M63.6 632.5h0M65.1 632.1h0M61.9 632.9h0M62.6 633.4h0M63.9 633.2h0M65.2 633.0h0M66.2 633.1h0M61.3 634.7h0M62.5 634.6h0M63.7 634.4h0M64.8 634.6h0M61.3 635.6h0M62.0 636.0h0M62.8 635.2h0M64.3 636.0h0M64.9 635.9h0M66.4 635.2h0M61.9 636.6h0M62.7 637.1h0M64.1 636.6h0M64.7 636.6h0M66.2 636.3h0M61.9 637.6h0M63.0 638.1h0M63.7 637.9h0M65.5 638.1h0M65.8 637.9h0M61.5 639.3h0M63.1 638.7h0M63.5 639.1h0M64.7 638.7h0M65.8 639.0h0M61.3 639.8h0M63.2 639.9h0M63.9 639.8h0M65.2 639.8h0M66.0 640.4h0M61.3 641.7h0M61.7 641.5h0M62.6 641.4h0M64.2 641.8h0M65.2 641.0h0M61.9 642.6h0M62.4 642.1h0M64.1 642.7h0M64.6 642.3h0M65.8 642.5h0M61.3 643.4h0M61.9 644.1h0M62.4 643.7h0M64.1 643.4h0M64.8 643.9h0M66.6 643.3h0M61.3 645.0h0M61.6 644.7h0M63.1 644.4h0M64.0 644.4h0M65.5 644.8h0M66.2 644.7h0M61.8 645.6h0M63.1 645.8h0M64.0 645.6h0M64.6 646.3h0M66.2 646.0h0M61.7 646.9h0M62.5 646.8h0M64.0 646.9h0M65.4 646.8h0M62.7 648.0h0M64.1 647.9h0M65.0 648.3h0M61.3 649.4h0M62.0 649.3h0M63.0 649.1h0M63.9 649.6h0M65.3 649.8h0M61.3 650.5h0M61.7 650.8h0M63.0 650.9h0M64.3 650.3h0M65.1 650.1h0M65.8 650.5h0M61.5 651.9h0M63.1 652.0h0M63.7 651.5h0M64.9 651.4h0M61.3 653.1h0M61.4 653.1h0M62.5 652.6h0M63.5 652.7h0M65.4 653.3h0M65.8 653.1h0M67.0 652.7h0M61.6 654.2h0M62.5 653.6h0M64.0 653.9h0M65.3 654.1h0M61.4 655.3h0M63.0 654.8h0M64.1 655.2h0M65.2 655.5h0M61.3 656.7h0M62.5 656.3h0M63.5 656.5h0M65.4 656.3h0M66.2 656.4h0M61.3 657.5h0M62.8 657.4h0M63.7 657.9h0M65.0 657.1h0M61.3 658.4h0M63.0 658.4h0M63.7 658.7h0M61.3 659.3h0M62.3 659.9h0M63.5 659.8h0M62.0 661.3h0M62.5 661.3h0M64.3 661.0h0M61.3 662.0h0M61.8 662.3h0M62.6 661.9h0M63.8 662.4h0M61.3 663.6h0M61.6 663.4h0M62.7 662.8h0M62.3 664.4h0M61.3 596.5h0M61.3 597.6h0M61.3 598.7h0M61.3 599.8h0M61.3 600.9h0M61.3 602.0h0M61.3 603.1h0M61.3 604.2h0M61.3 605.3h0M61.3 606.4h0M61.3 607.5h0M61.3 608.6h0M61.3 609.7h0M61.3 610.8h0M61.3 611.9h0M61.3 613.0h0M61.3 614.1h0M61.3 615.2h0M61.3 616.3h0M61.3 617.4h0M61.3 618.5h0M61.3 619.6h0M61.3 620.7h0M61.3 621.8h0M61.3 622.9h0M61.3 624.0h0M61.3 625.1h0M70.1 632.0h0M77.3 609.7h0M64.8 674.8h0M65.7 684.4h0M63.5 687.2h0M61.3 688.9h0M60.5 691.1h0M60.5 692.6h0M66.4 664.3h0M68.5 652.3h0M66.4 646.8h0M71.8 621.7h0M70.7 623.9h0M250.3 596.5h0M261.2 596.5h0M263.5 596.5h0M266.4 596.5h0M275.8 596.5h0" stroke="#1f77b4" stroke-width="3.9" stroke-linecap="round" fill="none"/>
<path d="M61.30 697.44v3.2M94.45 697.44v3.2M127.60 697.44v3.2M160.75 697.44v3.2M193.90 697.44v3.2M227.05 697.44v3.2M260.20 697.44v3.2M50.40 596.49h-3.2M50.40 628.14h-3.2M50.40 659.79h-3.2M50.40 691.44h-3.2" stroke="#111" stroke-width="1.0" fill="none"/>
<rect x="50.4" y="591.64" width="236.60" height="105.8" fill="none" stroke="#262626" stroke-width="1.0"/>
<text x="61.30" y="711.56" text-anchor="middle">0</text>
<text x="94.45" y="711.56" text-anchor="middle">250</text>
<text x="127.60" y="711.56" text-anchor="middle">500</text>
<text x="160.75" y="711.56" text-anchor="middle">750</text>
<text x="193.90" y="711.56" text-anchor="middle">1000</text>
<text x="227.05" y="711.56" text-anchor="middle">1250</text>
<text x="260.20" y="711.56" text-anchor="middle">1500</text>
<text x="43.80" y="600.31" text-anchor="end">0</text>
<text x="43.80" y="631.96" text-anchor="end">−20</text>
<text x="43.80" y="663.61" text-anchor="end">−40</text>
<text x="43.80" y="695.26" text-anchor="end">−60</text>
<text transform="translate(17.2 644.54) rotate(-90)" text-anchor="middle">Degradation rate</text>
<text x="168.70" y="724.94" text-anchor="middle">Freeze/thaw</text>
<rect x="236.55" y="675.64" width="45.85" height="17.0" rx="1.6" fill="#fff" fill-opacity="0.8" stroke="#d0d0d0" stroke-width="0.8"/>
<text x="239.65" y="687.24" font-size="9.5"><tspan font-style="italic">r</tspan> = 0.12</text>
</g>
<g>
<path d="M338.0 596.5h0M337.5 597.4h0M337.9 598.9h0M337.5 600.4h0M338.8 596.5h0M338.9 597.6h0M338.9 598.8h0M339.1 599.7h0M340.1 596.5h0M340.1 597.5h0M339.8 599.0h0M339.5 599.7h0M340.9 596.5h0M340.6 597.4h0M341.3 598.5h0M341.9 596.5h0M342.0 598.0h0M342.3 598.7h0M342.1 600.0h0M343.2 596.5h0M343.7 597.8h0M343.2 598.4h0M344.3 596.5h0M344.1 597.7h0M344.5 598.6h0M345.6 596.5h0M345.6 598.0h0M345.9 599.0h0M345.2 599.8h0M345.8 603.0h0M347.0 596.5h0M346.9 597.7h0M346.5 599.2h0M346.7 601.5h0M348.3 596.5h0M348.4 598.0h0M348.1 598.9h0M347.5 599.6h0M347.5 601.4h0M348.0 604.6h0M348.8 596.5h0M349.5 597.7h0M348.8 599.2h0M349.3 599.6h0M349.2 601.0h0M349.2 601.9h0M350.0 596.5h0M349.9 597.5h0M350.6 598.7h0M350.2 600.2h0M350.3 601.0h0M351.5 596.5h0M351.0 598.1h0M351.3 599.2h0M351.2 600.2h0M351.0 600.8h0M351.4 602.4h0M352.2 596.5h0M352.4 597.6h0M352.8 598.9h0M352.2 599.6h0M352.7 601.3h0M352.2 604.8h0M353.3 596.5h0M353.8 597.3h0M353.9 599.1h0M353.5 599.7h0M354.0 600.7h0M355.2 596.5h0M354.4 597.6h0M355.2 598.5h0M354.7 599.8h0M354.4 602.6h0M355.6 596.5h0M356.0 597.2h0M356.2 598.4h0M356.4 599.6h0M357.4 596.5h0M357.3 597.8h0M356.9 598.8h0M356.8 599.7h0M357.3 601.4h0M357.6 603.6h0M358.6 596.5h0M358.6 597.2h0M358.4 599.2h0M358.2 603.3h0M359.5 596.5h0M359.7 597.3h0M359.4 598.6h0M359.9 599.6h0M359.4 600.9h0M361.0 596.5h0M360.5 597.6h0M360.9 598.5h0M360.4 600.0h0M360.3 601.0h0M361.8 596.5h0M361.5 597.5h0M361.8 598.8h0M361.7 599.6h0M362.7 596.5h0M362.5 597.7h0M362.5 598.7h0M362.5 599.6h0M363.7 596.5h0M364.2 597.6h0M364.3 599.0h0M363.8 600.3h0M365.5 596.5h0M365.4 597.4h0M365.3 598.4h0M366.8 596.5h0M366.3 598.0h0M366.4 598.5h0M366.0 600.1h0M367.1 596.5h0M367.1 597.8h0M367.6 598.6h0M367.5 599.7h0M367.5 600.9h0M368.5 596.5h0M368.4 597.6h0M368.4 598.4h0M368.7 599.6h0M369.1 601.5h0M368.7 604.6h0M370.2 596.5h0M369.4 597.8h0M369.8 598.7h0M369.8 600.3h0M369.4 601.0h0M369.9 602.4h0M369.9 603.3h0M369.4 604.7h0M371.3 596.5h0M371.4 597.4h0M370.9 599.0h0M371.0 600.3h0M371.3 600.7h0M371.0 601.9h0M371.0 603.5h0M371.2 605.5h0M372.2 596.5h0M371.9 598.1h0M371.7 598.6h0M371.8 599.6h0M371.8 600.9h0M372.0 602.5h0M372.3 603.1h0M373.3 596.5h0M373.0 598.0h0M373.4 598.4h0M373.4 600.1h0M373.2 600.7h0M373.5 602.0h0M373.1 603.1h0M373.5 604.9h0M374.5 596.5h0M374.2 597.8h0M374.2 598.9h0M374.2 599.7h0M374.5 601.5h0M374.8 602.0h0M375.2 596.5h0M375.2 597.5h0M375.5 598.6h0M375.3 600.1h0M375.9 600.8h0M375.3 603.8h0M376.9 596.5h0M376.9 597.7h0M377.0 599.0h0M376.3 599.8h0M376.8 600.7h0M376.4 602.5h0M378.2 596.5h0M378.2 597.3h0M377.9 598.9h0M378.0 599.7h0M377.9 601.1h0M377.8 603.5h0M377.8 604.3h0M379.3 596.5h0M378.6 597.5h0M378.8 599.0h0M378.8 600.2h0M378.9 600.8h0M380.4 596.5h0M380.4 597.9h0M379.8 598.9h0M379.7 599.6h0M380.6 601.0h0M380.6 604.8h0M380.9 596.5h0M381.4 598.1h0M381.0 599.1h0M381.1 600.0h0M381.6 600.8h0M381.5 602.0h0M380.9 603.0h0M382.8 596.5h0M382.1 597.4h0M382.4 598.8h0M382.5 600.1h0M382.9 600.7h0M382.3 602.1h0M382.7 603.0h0M382.6 604.9h0M383.7 596.5h0M383.7 597.4h0M383.7 598.8h0M383.8 599.5h0M383.4 600.8h0M383.7 602.1h0M383.2 603.4h0M385.2 596.5h0M385.2 597.4h0M385.1 598.6h0M384.4 599.8h0M384.4 600.8h0M384.6 601.8h0M384.6 603.5h0M386.2 596.5h0M385.7 597.8h0M386.1 598.9h0M385.8 599.9h0M385.9 601.5h0M386.3 602.2h0M386.0 603.7h0M387.4 596.5h0M387.2 597.4h0M387.0 598.4h0M387.5 599.7h0M386.8 600.8h0M387.5 602.5h0M387.9 596.5h0M387.8 597.3h0M388.6 599.2h0M387.9 599.5h0M388.0 601.3h0M388.3 602.6h0M388.0 603.5h0M389.8 596.5h0M389.1 597.8h0M389.3 598.8h0M389.1 599.6h0M389.3 601.5h0M389.6 601.8h0M389.6 603.1h0M389.6 604.2h0M389.1 605.5h0M390.8 596.5h0M390.1 597.8h0M390.6 598.8h0M390.8 600.0h0M390.8 600.9h0M390.7 602.1h0M390.1 603.6h0M390.2 604.1h0M390.6 605.6h0M390.9 609.1h0M392.1 596.5h0M391.9 597.5h0M391.3 598.5h0M391.5 599.7h0M391.7 600.6h0M391.8 602.1h0M391.6 603.1h0M391.8 604.2h0M392.9 596.5h0M393.2 597.8h0M392.7 599.0h0M392.6 599.8h0M392.6 600.8h0M392.6 602.1h0M392.4 603.0h0M393.0 604.8h0M393.1 607.2h0M393.7 596.5h0M394.1 597.5h0M393.7 599.0h0M393.7 600.0h0M393.5 601.0h0M394.3 602.4h0M393.9 603.3h0M394.0 604.9h0M394.0 605.3h0M394.2 606.6h0M393.8 607.6h0M394.4 611.4h0M394.9 596.5h0M395.5 597.4h0M395.3 599.2h0M395.2 599.8h0M395.0 601.5h0M395.5 602.6h0M395.2 603.4h0M394.7 604.5h0M394.7 605.4h0M395.3 606.5h0M395.2 608.7h0M395.2 610.7h0M394.8 615.9h0M395.9 596.5h0M396.7 597.9h0M395.9 599.2h0M396.1 600.0h0M395.9 600.7h0M396.4 602.0h0M396.5 603.1h0M395.9 604.3h0M396.3 605.6h0M396.2 607.0h0M395.9 607.9h0M396.5 609.2h0M396.6 613.3h0M397.7 596.5h0M397.8 597.5h0M397.4 598.5h0M397.5 599.8h0M397.8 601.2h0M397.6 601.8h0M397.5 603.6h0M397.4 604.8h0M397.1 606.1h0M397.1 606.4h0M398.7 596.5h0M398.9 597.2h0M398.4 599.2h0M398.3 600.3h0M399.0 601.1h0M398.1 602.2h0M398.9 603.4h0M398.7 604.4h0M398.3 605.5h0M399.6 596.5h0M399.6 597.7h0M399.5 598.6h0M399.9 599.5h0M399.7 601.0h0M399.6 602.1h0M399.5 603.0h0M399.3 604.1h0M399.3 605.4h0M401.0 596.5h0M400.7 597.7h0M400.9 598.7h0M401.1 599.8h0M400.8 601.3h0M400.7 602.5h0M400.5 603.1h0M401.1 605.3h0M400.4 609.0h0M401.2 612.4h0M402.0 596.5h0M402.4 597.7h0M401.8 598.9h0M402.0 599.6h0M402.4 601.4h0M402.3 602.4h0M402.2 603.7h0M402.0 609.0h0M402.4 610.0h0M403.0 596.5h0M403.3 597.9h0M402.7 599.0h0M403.4 600.2h0M403.4 601.1h0M403.0 602.1h0M403.5 603.5h0M402.8 604.6h0M402.7 605.9h0M402.8 607.9h0M403.2 611.3h0M404.6 596.5h0M404.2 597.5h0M404.1 598.9h0M404.4 600.2h0M404.0 601.1h0M404.0 601.9h0M404.7 603.8h0M403.9 604.6h0M405.8 596.5h0M405.5 597.6h0M405.7 599.2h0M405.3 599.7h0M405.8 600.8h0M405.1 602.6h0M405.1 603.5h0M405.8 605.0h0M406.7 596.5h0M406.7 597.9h0M406.8 598.4h0M406.9 600.1h0M407.0 601.0h0M406.5 601.9h0M406.8 603.8h0M406.3 604.2h0M406.6 608.0h0M407.7 596.5h0M407.6 597.9h0M407.6 598.6h0M407.8 600.0h0M407.9 601.0h0M407.7 602.4h0M407.6 603.8h0M407.4 604.9h0M407.9 607.6h0M408.9 596.5h0M409.3 597.8h0M408.6 598.7h0M408.5 600.3h0M408.7 601.5h0M409.2 602.2h0M408.9 603.1h0M408.6 604.9h0M408.8 605.9h0M409.3 607.3h0M408.5 607.8h0M409.9 596.5h0M410.0 598.1h0M409.8 599.0h0M409.7 599.6h0M410.2 601.2h0M409.7 601.9h0M410.5 603.0h0M409.8 604.8h0M409.8 605.3h0M409.8 609.1h0M411.1 596.5h0M411.3 597.4h0M411.4 598.4h0M411.0 599.5h0M411.0 601.0h0M411.0 601.9h0M411.2 603.7h0M411.1 604.5h0M411.0 606.1h0M411.3 607.6h0M412.4 596.5h0M412.1 597.5h0M412.0 599.0h0M412.7 599.5h0M412.6 601.4h0M412.2 602.2h0M411.9 603.0h0M412.1 605.4h0M412.2 609.5h0M413.7 596.5h0M413.9 598.0h0M413.3 599.2h0M413.8 600.0h0M413.1 601.3h0M413.5 601.8h0M413.2 602.9h0M413.2 606.6h0M414.8 596.5h0M414.8 597.3h0M414.7 599.2h0M414.7 599.9h0M414.6 601.0h0M414.6 602.0h0M415.1 603.1h0M414.2 605.5h0M415.5 596.5h0M416.2 597.3h0M415.9 598.7h0M416.1 599.9h0M416.1 601.5h0M415.4 602.5h0M415.4 603.4h0M416.0 604.3h0M415.9 605.7h0M417.1 596.5h0M416.8 598.1h0M416.9 598.4h0M417.1 599.7h0M417.3 601.3h0M417.2 602.6h0M417.1 603.5h0M416.7 604.1h0M418.2 596.5h0M417.9 597.7h0M418.4 598.7h0M418.5 600.2h0M418.1 601.0h0M417.9 602.7h0M418.1 603.5h0M418.1 605.4h0M418.3 607.7h0M419.1 596.5h0M419.5 597.5h0M419.3 598.5h0M419.5 600.1h0M419.6 600.7h0M419.5 602.0h0M418.8 603.5h0M419.4 604.3h0M419.6 607.6h0M420.6 596.5h0M420.5 597.8h0M420.0 599.1h0M420.6 600.2h0M420.3 601.4h0M420.1 602.5h0M420.5 603.4h0M420.7 604.3h0M420.8 609.2h0M421.7 596.5h0M421.3 597.7h0M421.3 599.1h0M421.9 599.8h0M421.5 601.0h0M421.7 602.0h0M421.7 603.0h0M421.2 604.7h0M421.4 605.4h0M421.3 606.6h0M422.6 596.5h0M422.7 597.9h0M422.7 599.2h0M422.5 600.0h0M422.3 601.0h0M422.3 602.3h0M423.0 603.7h0M422.8 605.6h0M422.6 609.6h0M424.2 596.5h0M424.2 598.1h0M424.0 598.4h0M423.8 599.9h0M423.6 601.1h0M423.7 602.6h0M423.6 603.8h0M423.5 604.9h0M425.2 596.5h0M425.4 597.3h0M424.6 598.6h0M424.7 599.5h0M424.7 600.8h0M424.8 602.1h0M424.6 603.2h0M425.0 604.8h0M425.1 605.7h0M425.4 606.9h0M425.1 608.3h0M426.1 596.5h0M426.1 597.3h0M425.9 598.9h0M425.7 599.6h0M425.9 601.4h0M426.5 602.0h0M426.5 603.3h0M426.2 604.5h0M426.2 605.8h0M426.2 607.7h0M426.4 610.6h0M426.3 611.5h0M427.2 596.5h0M427.2 597.6h0M427.6 599.0h0M426.9 600.2h0M427.6 600.9h0M427.7 602.0h0M426.9 603.4h0M427.2 604.8h0M427.5 605.3h0M427.1 608.3h0M427.7 610.5h0M428.1 596.5h0M428.6 597.7h0M428.5 598.7h0M428.1 599.5h0M428.8 600.8h0M428.3 602.5h0M428.7 603.0h0M428.2 604.1h0M428.8 605.4h0M428.6 607.1h0M428.7 609.1h0M428.5 615.3h0M429.4 596.5h0M429.8 597.5h0M429.3 598.5h0M429.3 600.0h0M429.2 601.4h0M429.5 602.2h0M429.5 603.7h0M429.5 604.8h0M429.3 605.3h0M429.5 606.6h0M431.2 596.5h0M431.1 597.5h0M430.9 598.7h0M430.8 600.2h0M430.5 601.1h0M430.9 602.6h0M431.0 603.7h0M430.6 604.8h0M431.2 605.3h0M430.4 607.2h0M430.5 607.7h0M431.0 608.9h0M431.8 596.5h0M432.3 597.7h0M431.5 598.8h0M432.1 600.0h0M432.1 601.5h0M432.2 602.5h0M431.6 603.5h0M432.3 604.3h0M432.0 605.3h0M432.3 607.1h0M432.3 608.0h0M431.6 609.1h0M431.8 617.2h0M433.0 596.5h0M432.7 598.1h0M433.3 598.6h0M432.7 599.7h0M433.1 600.9h0M433.3 601.8h0M433.5 603.1h0M433.5 604.9h0M433.5 605.9h0M432.8 608.7h0M433.9 596.5h0M434.3 597.5h0M433.9 598.7h0M434.6 599.7h0M433.8 601.0h0M434.0 602.4h0M433.8 603.7h0M433.8 604.4h0M434.6 606.0h0M434.0 607.1h0M435.4 596.5h0M435.6 597.4h0M435.0 598.8h0M435.0 600.3h0M435.8 601.2h0M435.5 602.0h0M434.9 603.4h0M435.0 604.3h0M435.3 605.6h0M435.1 606.8h0M434.9 607.9h0M436.8 596.5h0M436.9 597.4h0M436.1 599.1h0M436.2 599.8h0M436.6 600.9h0M436.3 602.6h0M436.7 603.3h0M436.4 604.1h0M436.4 605.5h0M436.1 606.9h0M436.7 607.9h0M436.9 609.4h0M437.7 596.5h0M437.9 597.9h0M438.1 598.7h0M437.7 599.9h0M437.3 600.8h0M437.8 602.2h0M438.0 603.8h0M437.7 604.8h0M438.0 605.6h0M437.9 607.8h0M438.8 596.5h0M438.9 597.7h0M438.7 598.8h0M439.2 599.7h0M438.9 601.2h0M438.9 602.0h0M438.7 603.2h0M438.4 604.2h0M438.7 605.6h0M438.7 607.0h0M438.8 608.2h0M439.6 596.5h0M439.8 597.7h0M439.6 598.9h0M440.2 600.0h0M439.6 601.0h0M439.7 602.1h0M440.2 603.3h0M440.0 604.3h0M439.6 605.7h0M439.9 606.7h0M439.6 607.5h0M440.0 609.2h0M440.0 611.7h0M440.2 612.3h0M440.3 614.6h0M441.0 596.5h0M441.2 597.9h0M440.7 598.6h0M441.0 600.2h0M441.5 601.1h0M440.9 602.6h0M441.2 603.7h0M440.7 604.2h0M441.1 606.0h0M440.9 606.7h0M441.4 611.3h0M442.1 596.5h0M442.7 597.3h0M442.6 598.4h0M442.0 600.3h0M442.6 601.5h0M442.3 602.7h0M442.1 603.1h0M442.5 604.9h0M441.9 605.5h0M442.1 607.2h0M441.9 609.3h0M443.1 596.5h0M443.4 597.8h0M443.1 599.1h0M443.4 600.4h0M443.6 601.0h0M443.8 601.9h0M443.0 603.4h0M443.1 604.2h0M443.4 605.9h0M443.5 606.7h0M444.2 596.5h0M444.2 597.5h0M444.6 598.7h0M445.0 600.1h0M444.1 601.4h0M444.6 602.4h0M444.4 603.5h0M444.6 604.7h0M444.2 605.6h0M445.3 596.5h0M446.1 597.8h0M445.8 598.5h0M445.9 599.9h0M445.9 600.9h0M445.8 601.9h0M445.9 603.8h0M446.1 604.2h0M446.1 605.9h0M447.0 596.5h0M446.5 597.5h0M447.0 599.2h0M446.9 600.4h0M447.0 601.1h0M446.8 602.2h0M446.9 603.1h0M446.7 604.5h0M446.5 606.0h0M446.9 606.5h0M447.1 608.2h0M446.7 613.5h0M447.9 596.5h0M448.4 597.9h0M448.3 598.5h0M448.1 599.9h0M447.6 601.1h0M448.2 602.7h0M447.6 603.8h0M448.0 604.9h0M447.7 605.5h0M448.0 607.1h0M447.8 608.1h0M449.5 596.5h0M449.2 598.0h0M449.6 598.7h0M449.0 600.2h0M449.0 601.0h0M448.8 601.9h0M449.2 603.0h0M449.5 604.6h0M449.4 605.5h0M448.7 606.5h0M449.5 607.7h0M449.2 610.3h0M450.7 596.5h0M450.0 597.6h0M450.3 598.8h0M450.1 599.6h0M450.1 601.4h0M450.7 602.2h0M450.4 603.6h0M450.2 604.6h0M450.6 605.7h0M449.9 606.4h0M450.1 607.6h0M450.7 612.5h0M451.4 596.5h0M451.9 597.3h0M451.8 598.8h0M451.3 600.2h0M451.5 601.0h0M451.9 602.0h0M451.5 603.4h0M451.2 604.3h0M451.7 605.8h0M451.1 606.7h0M451.3 608.9h0M451.8 610.7h0M452.5 596.5h0M453.0 597.6h0M452.3 598.9h0M452.5 599.7h0M452.5 601.3h0M452.9 602.0h0M452.2 603.5h0M452.2 605.0h0M452.9 605.6h0M452.7 606.6h0M453.0 608.1h0M452.6 608.7h0M452.3 611.6h0M454.2 596.5h0M453.7 598.0h0M453.5 598.5h0M453.6 600.0h0M453.6 601.3h0M454.1 602.6h0M453.8 603.4h0M453.7 604.6h0M453.8 605.5h0M453.4 606.6h0M453.9 607.9h0M454.0 609.3h0M453.8 611.3h0M453.4 612.8h0M453.7 615.7h0M454.6 596.5h0M454.8 598.0h0M454.5 598.9h0M455.3 600.2h0M455.2 601.1h0M455.1 601.8h0M455.1 603.2h0M455.3 604.5h0M454.7 606.0h0M454.6 606.5h0M454.7 608.1h0M454.8 610.1h0M455.3 615.6h0M456.4 596.5h0M456.1 597.6h0M456.0 598.6h0M456.5 600.3h0M456.5 601.2h0M456.5 601.8h0M456.2 603.8h0M455.8 604.4h0M456.2 606.1h0M456.4 607.3h0M455.8 607.7h0M456.2 611.6h0M456.3 612.9h0M457.4 596.5h0M457.1 597.7h0M457.2 599.0h0M457.6 600.2h0M456.9 600.9h0M457.4 602.3h0M457.4 603.1h0M457.2 604.9h0M456.8 605.4h0M457.0 606.9h0M457.4 607.6h0M458.1 596.5h0M458.5 597.6h0M457.9 598.4h0M458.2 600.2h0M458.0 601.2h0M458.2 602.1h0M458.7 603.5h0M458.6 604.2h0M458.0 605.3h0M458.6 607.1h0M457.9 612.9h0M458.4 619.4h0M459.6 596.5h0M459.7 597.4h0M459.7 598.5h0M459.9 600.4h0M459.4 601.3h0M459.4 602.5h0M459.5 603.4h0M459.9 604.5h0M459.6 605.4h0M459.8 606.9h0M460.7 596.5h0M460.9 597.3h0M461.1 599.0h0M460.9 600.4h0M460.8 601.1h0M460.7 601.8h0M460.6 603.7h0M460.4 604.7h0M460.4 605.4h0M460.7 612.8h0M461.8 596.5h0M461.7 597.3h0M461.9 598.4h0M461.4 599.8h0M461.8 600.9h0M461.9 602.5h0M461.5 603.6h0M461.5 604.7h0M463.2 596.5h0M463.3 597.9h0M463.1 598.6h0M462.8 600.1h0M463.4 600.7h0M462.7 602.5h0M463.1 603.0h0M462.7 604.5h0M462.9 606.1h0M463.3 608.2h0M464.5 596.5h0M464.2 597.4h0M464.4 598.6h0M463.7 599.8h0M463.8 600.9h0M464.3 602.0h0M463.7 603.8h0M464.3 604.6h0M463.9 608.3h0M465.0 596.5h0M465.6 597.7h0M465.1 599.0h0M464.9 600.3h0M465.6 600.7h0M465.6 602.3h0M465.0 603.8h0M465.4 604.6h0M464.9 605.6h0M465.6 612.4h0M466.6 596.5h0M466.6 597.3h0M466.3 599.0h0M466.5 600.0h0M466.2 601.1h0M466.2 602.6h0M466.5 603.7h0M466.1 604.5h0M466.0 605.4h0M466.5 607.1h0M466.1 608.2h0M466.6 609.1h0M468.0 596.5h0M467.2 598.0h0M467.3 598.9h0M467.3 600.1h0M467.5 601.3h0M467.1 602.1h0M467.3 603.0h0M467.9 604.7h0M467.3 605.3h0M467.7 613.5h0M468.8 596.5h0M468.3 597.6h0M468.5 598.9h0M468.7 599.8h0M469.0 601.3h0M468.4 602.1h0M468.5 603.4h0M468.8 604.3h0M468.4 605.5h0M468.3 607.2h0M468.6 607.6h0M469.1 612.7h0M468.5 616.1h0M469.7 596.5h0M469.8 597.6h0M470.3 598.8h0M469.8 599.7h0M470.0 600.9h0M469.9 602.0h0M469.8 603.4h0M469.7 604.3h0M469.6 605.5h0M470.1 607.1h0M469.6 611.8h0M469.9 612.3h0M470.7 596.5h0M471.1 597.2h0M470.6 598.4h0M471.2 600.2h0M470.7 600.6h0M470.6 602.7h0M471.1 603.3h0M471.1 605.0h0M470.8 606.0h0M470.6 607.2h0M470.7 608.3h0M471.1 610.1h0M471.3 611.3h0M471.0 613.8h0M471.3 615.8h0M472.3 596.5h0M471.8 597.5h0M471.8 598.5h0M471.9 600.0h0M472.1 601.0h0M472.5 602.5h0M472.5 603.3h0M472.5 604.9h0M472.5 605.3h0M471.9 607.1h0M472.6 608.3h0M473.3 596.5h0M473.1 597.4h0M473.3 598.6h0M473.7 600.4h0M473.4 601.2h0M473.7 602.5h0M473.3 603.6h0M473.3 604.6h0M473.6 605.3h0M473.2 607.2h0M472.9 608.4h0M473.0 613.6h0M474.2 596.5h0M474.3 598.0h0M474.3 598.6h0M474.2 600.1h0M474.6 601.3h0M474.9 602.0h0M474.7 603.6h0M474.7 604.7h0M474.1 605.4h0M474.4 606.6h0M474.3 608.2h0M474.6 608.9h0M474.1 611.1h0M474.2 613.8h0M474.7 614.7h0M475.9 596.5h0M475.5 597.9h0M475.8 598.4h0M475.4 599.6h0M476.0 600.9h0M475.3 602.1h0M475.2 603.7h0M475.2 604.4h0M475.5 605.4h0M475.2 606.5h0M475.4 608.1h0M476.7 596.5h0M476.7 598.1h0M477.2 598.8h0M476.4 600.4h0M476.7 601.0h0M476.4 602.5h0M476.9 603.8h0M477.1 604.3h0M477.1 605.6h0M476.4 606.7h0M476.9 608.3h0M477.1 609.4h0M477.5 596.5h0M477.8 598.0h0M477.5 598.9h0M477.8 599.6h0M478.3 601.3h0M477.7 601.9h0M478.1 603.8h0M478.3 604.5h0M477.8 606.1h0M477.5 606.7h0M478.2 610.4h0M478.8 596.5h0M478.8 597.3h0M479.2 598.7h0M478.9 599.9h0M478.8 601.3h0M479.3 602.1h0M479.5 603.2h0M479.1 604.7h0M478.9 606.0h0M480.2 596.5h0M480.3 597.9h0M480.3 598.4h0M479.9 600.1h0M479.9 601.5h0M480.5 602.3h0M479.9 603.2h0M480.3 604.8h0M479.9 605.8h0M480.2 607.1h0M481.6 596.5h0M481.7 597.7h0M481.6 598.4h0M481.2 600.1h0M481.7 601.4h0M481.2 602.1h0M481.6 603.4h0M481.3 604.2h0M481.2 606.0h0M481.4 606.4h0M481.8 609.1h0M482.8 596.5h0M482.8 597.7h0M482.3 599.2h0M482.5 600.3h0M482.1 601.1h0M482.6 602.0h0M482.6 603.6h0M482.1 604.4h0M482.6 605.5h0M482.4 609.5h0M482.2 612.4h0M483.3 596.5h0M483.4 597.4h0M483.5 598.8h0M483.7 599.9h0M483.8 601.0h0M483.3 601.9h0M483.9 603.7h0M483.3 604.8h0M483.8 605.7h0M483.6 606.6h0M484.0 607.9h0M483.6 609.0h0M484.8 596.5h0M484.7 597.5h0M485.1 598.4h0M484.8 600.2h0M485.2 600.7h0M484.5 602.1h0M485.1 603.3h0M484.9 604.7h0M484.4 605.9h0M485.0 606.9h0M486.3 596.5h0M486.1 597.7h0M485.9 598.6h0M486.1 599.7h0M485.7 601.3h0M486.2 602.0h0M485.5 603.8h0M486.0 604.3h0M487.2 596.5h0M487.4 597.9h0M487.0 598.5h0M487.2 600.1h0M486.7 601.5h0M487.4 602.6h0M487.5 603.0h0M487.5 604.4h0M487.9 596.5h0M488.4 597.7h0M488.0 598.3h0M488.1 600.0h0M488.5 600.8h0M488.5 602.3h0M488.6 604.8h0M488.3 605.5h0M489.8 596.5h0M489.8 597.7h0M489.4 598.3h0M489.7 599.6h0M489.2 601.4h0M489.5 602.6h0M491.0 596.5h0M490.3 597.5h0M490.2 599.1h0M490.5 600.1h0M490.6 600.7h0M491.8 596.5h0M491.7 597.2h0M491.7 599.0h0M491.5 599.8h0M491.9 600.8h0M492.5 596.5h0M492.5 597.2h0M492.8 598.6h0M492.6 600.3h0M492.5 600.7h0M492.6 603.4h0M494.0 596.5h0M493.8 598.1h0M494.4 598.6h0M493.9 600.2h0M493.6 601.1h0M493.7 601.8h0M493.9 604.7h0M494.8 596.5h0M494.9 597.9h0M495.5 599.0h0M495.3 599.8h0M495.2 600.8h0M495.3 602.3h0M495.5 603.3h0M496.3 596.5h0M495.9 598.1h0M496.4 598.5h0M496.5 599.8h0M495.9 601.4h0M496.2 602.5h0M496.5 603.1h0M497.9 596.5h0M497.4 597.2h0M497.8 599.1h0M497.5 599.5h0M497.6 601.5h0M497.2 602.0h0M498.5 596.5h0M498.4 598.0h0M498.7 598.5h0M498.6 599.5h0M498.6 600.9h0M499.4 596.5h0M499.9 597.5h0M499.9 598.9h0M500.1 600.1h0M500.5 596.5h0M500.9 597.2h0M501.0 598.9h0M500.5 600.0h0M501.7 596.5h0M501.7 597.7h0M503.6 596.5h0M504.2 596.5h0M505.4 596.5h0M506.4 596.5h0M507.4 596.5h0M316.4 596.5h0M321.8 596.5h0M326.2 596.5h0M329.5 597.7h0M322.9 602.5h0M328.4 605.4h0M326.6 609.1h0M333.4 602.1h0M333.8 604.7h0M319.0 616.3h0M324.0 621.3h0M331.0 638.5h0M339.3 653.8h0M328.4 688.7h0M339.3 687.2h0M344.7 688.3h0M338.8 606.9h0M338.8 610.2h0M338.8 613.0h0M338.8 616.3h0M339.3 619.5h0M341.5 628.3h0M344.7 634.2h0M349.7 641.4h0M344.3 608.6h0M345.8 614.1h0M344.3 618.5h0M349.1 613.0h0M349.7 618.5h0M349.7 623.9h0M353.5 608.6h0M354.5 610.8h0M360.0 604.3h0M361.7 628.3h0M365.0 616.3h0M367.2 611.9h0M366.6 607.5h0M368.7 635.9h0M372.7 661.7h0M384.0 675.2h0M372.0 618.5h0M373.1 610.8h0M372.0 623.9h0M376.8 617.4h0M376.8 610.2h0M376.8 627.2h0M381.8 615.2h0M385.1 616.3h0M385.1 623.3h0M386.2 610.8h0M387.3 613.0h0M396.0 617.4h0M397.8 615.2h0M398.2 620.6h0M400.4 622.8h0M402.6 619.5h0M404.7 622.8h0M406.3 623.9h0M408.4 628.3h0M408.4 639.2h0M408.4 649.0h0M401.5 646.8h0M404.7 645.1h0M408.4 657.3h0M408.4 659.3h0M408.4 661.0h0M408.4 663.2h0M408.4 664.9h0M412.4 615.2h0M414.6 615.2h0M414.6 635.9h0M416.3 638.1h0M417.8 633.7h0M418.9 619.5h0M419.6 638.1h0M399.9 612.6h0M405.8 614.1h0M331.6 596.5h0M334.9 596.5h0M510.2 596.5h0M515.5 596.5h0M517.3 596.5h0M520.0 596.5h0M531.4 596.5h0M512.0 602.6h0M514.3 601.5h0M516.6 600.4h0M420.0 618.5h0M422.3 617.4h0M425.7 616.3h0M429.1 629.5h0M431.4 624.2h0M432.5 620.8h0M434.8 617.4h0M440.5 652.6h0M440.5 654.9h0M439.3 659.9h0M440.5 661.7h0M441.6 640.1h0M441.6 636.7h0M440.5 634.5h0M441.6 632.2h0M442.0 629.9h0M442.7 626.5h0M447.7 639.0h0M448.4 626.5h0M449.1 623.1h0M447.3 618.5h0M453.6 641.7h0M454.1 644.0h0M456.4 649.7h0M454.1 617.4h0M458.6 616.3h0M463.2 618.5h0M467.3 637.4h0M468.9 642.4h0M473.0 644.2h0M471.8 648.1h0M470.0 651.5h0M468.9 654.9h0M466.6 658.3h0M466.1 662.9h0M472.7 659.0h0M471.8 626.5h0M473.4 628.8h0M472.3 623.1h0M474.5 618.5h0M471.8 616.3h0M478.0 633.3h0M478.4 626.5h0M479.1 620.8h0M482.0 636.7h0M483.2 641.3h0M483.2 647.0h0M483.2 653.3h0M483.2 657.9h0M483.2 661.7h0M485.2 662.4h0M483.6 626.5h0M483.6 631.0h0M487.0 631.5h0M488.2 622.0h0M490.5 626.5h0M492.7 633.3h0M496.1 624.2h0M495.0 618.5h0M491.6 617.4h0M498.4 615.1h0M501.8 618.5h0M503.6 623.1h0M508.6 626.0h0M503.0 610.6h0M501.4 606.0h0M506.4 603.8h0M515.5 652.2h0M515.5 654.2h0M515.5 663.3h0M499.5 684.5h0M473.9 692.4h0M481.4 614.0h0M485.9 611.7h0M492.7 610.6h0M497.3 608.3h0" stroke="#1f77b4" stroke-width="3.9" stroke-linecap="round" fill="none"/>
<path d="M316.30 697.44v3.2M348.40 697.44v3.2M380.50 697.44v3.2M412.60 697.44v3.2M444.70 697.44v3.2M476.80 697.44v3.2M508.90 697.44v3.2M541.00 697.44v3.2M305.70 596.49h-3.2M305.70 628.14h-3.2M305.70 659.79h-3.2M305.70 691.44h-3.2" stroke="#111" stroke-width="1.0" fill="none"/>
<rect x="305.7" y="591.64" width="236.30" height="105.8" fill="none" stroke="#262626" stroke-width="1.0"/>
<text x="316.30" y="711.56" text-anchor="middle">0</text>
<text x="348.40" y="711.56" text-anchor="middle">1</text>
<text x="380.50" y="711.56" text-anchor="middle">2</text>
<text x="412.60" y="711.56" text-anchor="middle">3</text>
<text x="444.70" y="711.56" text-anchor="middle">4</text>
<text x="476.80" y="711.56" text-anchor="middle">5</text>
<text x="508.90" y="711.56" text-anchor="middle">6</text>
<text x="541.00" y="711.56" text-anchor="middle">7</text>
<text x="423.85" y="724.94" text-anchor="middle">pH</text>
<rect x="398.30" y="675.64" width="49.28" height="17.0" rx="1.6" fill="#fff" fill-opacity="0.8" stroke="#d0d0d0" stroke-width="0.8"/>
<text x="401.40" y="687.24" font-size="9.5"><tspan font-style="italic">r</tspan> = -0.02</text>
</g>
</svg>
</body></html>
